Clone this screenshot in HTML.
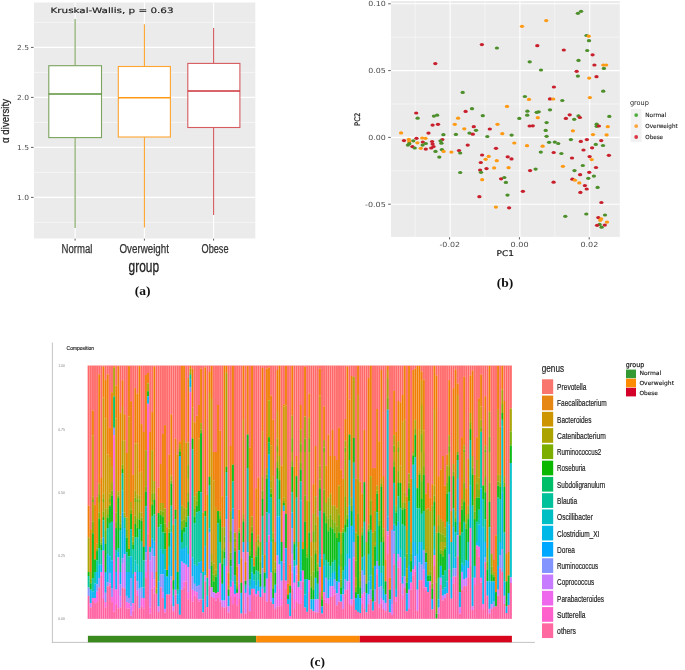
<!DOCTYPE html>
<html lang="en"><head><meta charset="utf-8"><title>Figure</title>
<style>html,body{margin:0;padding:0;background:#fff}svg{display:block}</style></head>
<body>
<svg width="685" height="670" viewBox="0 0 685 670">
<rect width="685" height="670" fill="#fff"/>
<g id="panel-a">
<rect x="34.00" y="2.50" width="221.30" height="236.00" fill="#ebebeb"/>
<line x1="34" y1="22.4" x2="255.3" y2="22.4" stroke="#f8f8f8" stroke-width="0.75"/>
<line x1="34" y1="72.4" x2="255.3" y2="72.4" stroke="#f8f8f8" stroke-width="0.75"/>
<line x1="34" y1="122.4" x2="255.3" y2="122.4" stroke="#f8f8f8" stroke-width="0.75"/>
<line x1="34" y1="172.4" x2="255.3" y2="172.4" stroke="#f8f8f8" stroke-width="0.75"/>
<line x1="34" y1="222.4" x2="255.3" y2="222.4" stroke="#f8f8f8" stroke-width="0.75"/>
<line x1="34" y1="47.4" x2="255.3" y2="47.4" stroke="#fff" stroke-width="1.1"/>
<line x1="34" y1="97.4" x2="255.3" y2="97.4" stroke="#fff" stroke-width="1.1"/>
<line x1="34" y1="147.4" x2="255.3" y2="147.4" stroke="#fff" stroke-width="1.1"/>
<line x1="34" y1="197.4" x2="255.3" y2="197.4" stroke="#fff" stroke-width="1.1"/>
<line x1="75.1" y1="2.5" x2="75.1" y2="238.5" stroke="#fff" stroke-width="1.1"/>
<line x1="144.4" y1="2.5" x2="144.4" y2="238.5" stroke="#fff" stroke-width="1.1"/>
<line x1="213.6" y1="2.5" x2="213.6" y2="238.5" stroke="#fff" stroke-width="1.1"/>
<line x1="75.1" y1="19" x2="75.1" y2="65.7" stroke="#7ba35d" stroke-width="1.1"/>
<line x1="75.1" y1="137.6" x2="75.1" y2="228" stroke="#7ba35d" stroke-width="1.1"/>
<rect x="48.8" y="65.7" width="52.70" height="71.90" fill="#fff" stroke="#7ba35d" stroke-width="1.1"/>
<line x1="48.8" y1="93.9" x2="101.5" y2="93.9" stroke="#5b9138" stroke-width="1.5"/>
<line x1="144.4" y1="24.2" x2="144.4" y2="66.5" stroke="#ffa42e" stroke-width="1.1"/>
<line x1="144.4" y1="137" x2="144.4" y2="227.4" stroke="#ffa42e" stroke-width="1.1"/>
<rect x="118.3" y="66.5" width="52.10" height="70.50" fill="#fff" stroke="#ffa42e" stroke-width="1.1"/>
<line x1="118.3" y1="97.8" x2="170.4" y2="97.8" stroke="#ff9a14" stroke-width="1.5"/>
<line x1="213.6" y1="28.1" x2="213.6" y2="63.4" stroke="#d65a5e" stroke-width="1.1"/>
<line x1="213.6" y1="127.5" x2="213.6" y2="215" stroke="#d65a5e" stroke-width="1.1"/>
<rect x="187.8" y="63.4" width="52.10" height="64.10" fill="#fff" stroke="#d65a5e" stroke-width="1.1"/>
<line x1="187.8" y1="91" x2="239.9" y2="91" stroke="#cc3238" stroke-width="1.5"/>
<line x1="31" y1="47.4" x2="33.6" y2="47.4" stroke="#333" stroke-width="0.8"/>
<text x="29" y="50.0" font-size="7" font-family="'DejaVu Sans','Liberation Sans',sans-serif" fill="#4d4d4d" text-anchor="end" textLength="12" lengthAdjust="spacingAndGlyphs">2.5</text>
<line x1="31" y1="97.4" x2="33.6" y2="97.4" stroke="#333" stroke-width="0.8"/>
<text x="29" y="100.0" font-size="7" font-family="'DejaVu Sans','Liberation Sans',sans-serif" fill="#4d4d4d" text-anchor="end" textLength="12" lengthAdjust="spacingAndGlyphs">2.0</text>
<line x1="31" y1="147.4" x2="33.6" y2="147.4" stroke="#333" stroke-width="0.8"/>
<text x="29" y="150.0" font-size="7" font-family="'DejaVu Sans','Liberation Sans',sans-serif" fill="#4d4d4d" text-anchor="end" textLength="12" lengthAdjust="spacingAndGlyphs">1.5</text>
<line x1="31" y1="197.4" x2="33.6" y2="197.4" stroke="#333" stroke-width="0.8"/>
<text x="29" y="200.0" font-size="7" font-family="'DejaVu Sans','Liberation Sans',sans-serif" fill="#4d4d4d" text-anchor="end" textLength="12" lengthAdjust="spacingAndGlyphs">1.0</text>
<line x1="75.1" y1="238.7" x2="75.1" y2="240.6" stroke="#333" stroke-width="0.8"/>
<line x1="144.4" y1="238.7" x2="144.4" y2="240.6" stroke="#333" stroke-width="0.8"/>
<line x1="213.6" y1="238.7" x2="213.6" y2="240.6" stroke="#333" stroke-width="0.8"/>
<text x="50.5" y="13.2" font-size="7.5" font-family="'DejaVu Sans','Liberation Sans',sans-serif" fill="#1a1a1a" textLength="123" lengthAdjust="spacingAndGlyphs" stroke="#1a1a1a" stroke-width="0.15">Kruskal-Wallis, p = 0.63</text>
<text x="9.2" y="121" font-size="10.8" font-family="'Liberation Sans','DejaVu Sans',sans-serif" fill="#222" text-anchor="middle" textLength="44" lengthAdjust="spacingAndGlyphs" transform="rotate(-90 9.2 121)" stroke="#222" stroke-width="0.25">α diversity</text>
<text x="77" y="253.3" font-size="12" font-family="'Liberation Sans','DejaVu Sans',sans-serif" fill="#333" text-anchor="middle" textLength="30.8" lengthAdjust="spacingAndGlyphs" stroke="#333" stroke-width="0.25">Normal</text>
<text x="144.2" y="253.3" font-size="12" font-family="'Liberation Sans','DejaVu Sans',sans-serif" fill="#333" text-anchor="middle" textLength="49.5" lengthAdjust="spacingAndGlyphs" stroke="#333" stroke-width="0.25">Overweight</text>
<text x="215" y="253.3" font-size="12" font-family="'Liberation Sans','DejaVu Sans',sans-serif" fill="#333" text-anchor="middle" textLength="27" lengthAdjust="spacingAndGlyphs" stroke="#333" stroke-width="0.25">Obese</text>
<text x="143.8" y="271.8" font-size="16.5" font-family="'Liberation Sans','DejaVu Sans',sans-serif" fill="#222" text-anchor="middle" textLength="30.5" lengthAdjust="spacingAndGlyphs" stroke="#222" stroke-width="0.3">group</text>
<text x="142.6" y="295" font-size="13.5" font-family="'Liberation Serif','DejaVu Serif',serif" fill="#111" text-anchor="middle" font-weight="bold">(a)</text>
</g>
<g id="panel-b">
<rect x="391.00" y="1.00" width="228.80" height="235.90" fill="#ebebeb"/>
<line x1="391" y1="37.2" x2="619.8" y2="37.2" stroke="#f8f8f8" stroke-width="0.75"/>
<line x1="391" y1="104.0" x2="619.8" y2="104.0" stroke="#f8f8f8" stroke-width="0.75"/>
<line x1="391" y1="170.8" x2="619.8" y2="170.8" stroke="#f8f8f8" stroke-width="0.75"/>
<line x1="415.2" y1="1" x2="415.2" y2="236.9" stroke="#f8f8f8" stroke-width="0.75"/>
<line x1="485.0" y1="1" x2="485.0" y2="236.9" stroke="#f8f8f8" stroke-width="0.75"/>
<line x1="554.8" y1="1" x2="554.8" y2="236.9" stroke="#f8f8f8" stroke-width="0.75"/>
<line x1="391" y1="3.8" x2="619.8" y2="3.8" stroke="#fff" stroke-width="1.1"/>
<line x1="388.2" y1="3.8" x2="390.8" y2="3.8" stroke="#333" stroke-width="0.8"/>
<text x="385.8" y="6.4" font-size="7" font-family="'DejaVu Sans','Liberation Sans',sans-serif" fill="#4d4d4d" text-anchor="end" textLength="17.6" lengthAdjust="spacingAndGlyphs">0.10</text>
<line x1="391" y1="70.6" x2="619.8" y2="70.6" stroke="#fff" stroke-width="1.1"/>
<line x1="388.2" y1="70.6" x2="390.8" y2="70.6" stroke="#333" stroke-width="0.8"/>
<text x="385.8" y="73.19999999999999" font-size="7" font-family="'DejaVu Sans','Liberation Sans',sans-serif" fill="#4d4d4d" text-anchor="end" textLength="17.6" lengthAdjust="spacingAndGlyphs">0.05</text>
<line x1="391" y1="137.4" x2="619.8" y2="137.4" stroke="#fff" stroke-width="1.1"/>
<line x1="388.2" y1="137.4" x2="390.8" y2="137.4" stroke="#333" stroke-width="0.8"/>
<text x="385.8" y="140.0" font-size="7" font-family="'DejaVu Sans','Liberation Sans',sans-serif" fill="#4d4d4d" text-anchor="end" textLength="17.6" lengthAdjust="spacingAndGlyphs">0.00</text>
<line x1="391" y1="204.2" x2="619.8" y2="204.2" stroke="#fff" stroke-width="1.1"/>
<line x1="388.2" y1="204.2" x2="390.8" y2="204.2" stroke="#333" stroke-width="0.8"/>
<text x="385.8" y="206.79999999999998" font-size="7" font-family="'DejaVu Sans','Liberation Sans',sans-serif" fill="#4d4d4d" text-anchor="end" textLength="20.8" lengthAdjust="spacingAndGlyphs">-0.05</text>
<line x1="450.1" y1="1" x2="450.1" y2="236.9" stroke="#fff" stroke-width="1.1"/>
<line x1="449.6" y1="237.2" x2="449.6" y2="239.4" stroke="#333" stroke-width="0.8"/>
<text x="449.8" y="246.7" font-size="7" font-family="'DejaVu Sans','Liberation Sans',sans-serif" fill="#4d4d4d" text-anchor="middle" textLength="20.6" lengthAdjust="spacingAndGlyphs">-0.02</text>
<line x1="519.9" y1="1" x2="519.9" y2="236.9" stroke="#fff" stroke-width="1.1"/>
<line x1="519.4" y1="237.2" x2="519.4" y2="239.4" stroke="#333" stroke-width="0.8"/>
<text x="519.6" y="246.7" font-size="7" font-family="'DejaVu Sans','Liberation Sans',sans-serif" fill="#4d4d4d" text-anchor="middle" textLength="18" lengthAdjust="spacingAndGlyphs">0.00</text>
<line x1="589.7" y1="1" x2="589.7" y2="236.9" stroke="#fff" stroke-width="1.1"/>
<line x1="589.2" y1="237.2" x2="589.2" y2="239.4" stroke="#333" stroke-width="0.8"/>
<text x="589.4000000000001" y="246.7" font-size="7" font-family="'DejaVu Sans','Liberation Sans',sans-serif" fill="#4d4d4d" text-anchor="middle" textLength="18" lengthAdjust="spacingAndGlyphs">0.02</text>
<ellipse cx="435.3" cy="63.6" rx="2.15" ry="1.6" fill="#c8202c"/>
<ellipse cx="481.9" cy="44.6" rx="2.15" ry="1.6" fill="#c8202c"/>
<ellipse cx="496.9" cy="48" rx="2.15" ry="1.6" fill="#4d8f2a"/>
<ellipse cx="462.7" cy="92.4" rx="2.15" ry="1.6" fill="#4d8f2a"/>
<ellipse cx="507" cy="106.4" rx="2.15" ry="1.6" fill="#ff9a14"/>
<ellipse cx="472" cy="108.7" rx="2.15" ry="1.6" fill="#4d8f2a"/>
<ellipse cx="465.6" cy="111.4" rx="2.15" ry="1.6" fill="#c8202c"/>
<ellipse cx="416.2" cy="113" rx="2.15" ry="1.6" fill="#c8202c"/>
<ellipse cx="437.1" cy="115.2" rx="2.15" ry="1.6" fill="#4d8f2a"/>
<ellipse cx="433.9" cy="116.1" rx="2.15" ry="1.6" fill="#4d8f2a"/>
<ellipse cx="482.8" cy="115.7" rx="2.15" ry="1.6" fill="#4d8f2a"/>
<ellipse cx="417.6" cy="118.2" rx="2.15" ry="1.6" fill="#4d8f2a"/>
<ellipse cx="458.1" cy="118.2" rx="2.15" ry="1.6" fill="#ff9a14"/>
<ellipse cx="581.1" cy="11.3" rx="2.15" ry="1.6" fill="#4d8f2a"/>
<ellipse cx="577.9" cy="13.3" rx="2.15" ry="1.6" fill="#4d8f2a"/>
<ellipse cx="546.2" cy="20.6" rx="2.15" ry="1.6" fill="#ff9a14"/>
<ellipse cx="522" cy="26.3" rx="2.15" ry="1.6" fill="#ff9a14"/>
<ellipse cx="586.5" cy="35.5" rx="2.15" ry="1.6" fill="#4d8f2a"/>
<ellipse cx="588.7" cy="36.2" rx="2.15" ry="1.6" fill="#ff9a14"/>
<ellipse cx="589" cy="40.7" rx="2.15" ry="1.6" fill="#4d8f2a"/>
<ellipse cx="537.3" cy="45.7" rx="2.15" ry="1.6" fill="#c8202c"/>
<ellipse cx="563.8" cy="50" rx="2.15" ry="1.6" fill="#c8202c"/>
<ellipse cx="587.2" cy="50.5" rx="2.15" ry="1.6" fill="#4d8f2a"/>
<ellipse cx="592.6" cy="54.8" rx="2.15" ry="1.6" fill="#c8202c"/>
<ellipse cx="578.5" cy="60.4" rx="2.15" ry="1.6" fill="#4d8f2a"/>
<ellipse cx="529.7" cy="61.8" rx="2.15" ry="1.6" fill="#4d8f2a"/>
<ellipse cx="594.4" cy="65" rx="2.15" ry="1.6" fill="#c8202c"/>
<ellipse cx="603.3" cy="65" rx="2.15" ry="1.6" fill="#ff9a14"/>
<ellipse cx="606.2" cy="65" rx="2.15" ry="1.6" fill="#ff9a14"/>
<ellipse cx="603.9" cy="68.4" rx="2.15" ry="1.6" fill="#4d8f2a"/>
<ellipse cx="541" cy="70" rx="2.15" ry="1.6" fill="#4d8f2a"/>
<ellipse cx="576.7" cy="71.3" rx="2.15" ry="1.6" fill="#c8202c"/>
<ellipse cx="577.9" cy="76.1" rx="2.15" ry="1.6" fill="#4d8f2a"/>
<ellipse cx="596.5" cy="76.7" rx="2.15" ry="1.6" fill="#c8202c"/>
<ellipse cx="589.2" cy="78.1" rx="2.15" ry="1.6" fill="#ff9a14"/>
<ellipse cx="553.9" cy="87" rx="2.15" ry="1.6" fill="#c8202c"/>
<ellipse cx="603.2" cy="91.2" rx="2.15" ry="1.6" fill="#4d8f2a"/>
<ellipse cx="524.9" cy="96.5" rx="2.15" ry="1.6" fill="#4d8f2a"/>
<ellipse cx="529" cy="99.4" rx="2.15" ry="1.6" fill="#ff9a14"/>
<ellipse cx="550" cy="98.9" rx="2.15" ry="1.6" fill="#c8202c"/>
<ellipse cx="553.2" cy="99" rx="2.15" ry="1.6" fill="#ff9a14"/>
<ellipse cx="562.3" cy="100.5" rx="2.15" ry="1.6" fill="#4d8f2a"/>
<ellipse cx="589.9" cy="97.6" rx="2.15" ry="1.6" fill="#ff9a14"/>
<ellipse cx="550" cy="109.8" rx="2.15" ry="1.6" fill="#4d8f2a"/>
<ellipse cx="527.4" cy="111.2" rx="2.15" ry="1.6" fill="#4d8f2a"/>
<ellipse cx="538.7" cy="111.8" rx="2.15" ry="1.6" fill="#4d8f2a"/>
<ellipse cx="536.7" cy="112.3" rx="2.15" ry="1.6" fill="#4d8f2a"/>
<ellipse cx="527.2" cy="115.2" rx="2.15" ry="1.6" fill="#4d8f2a"/>
<ellipse cx="569.7" cy="114.8" rx="2.15" ry="1.6" fill="#c8202c"/>
<ellipse cx="578.5" cy="115.9" rx="2.15" ry="1.6" fill="#4d8f2a"/>
<ellipse cx="579.9" cy="117.5" rx="2.15" ry="1.6" fill="#c8202c"/>
<ellipse cx="609.3" cy="116.4" rx="2.15" ry="1.6" fill="#4d8f2a"/>
<ellipse cx="519.3" cy="118.4" rx="2.15" ry="1.6" fill="#4d8f2a"/>
<ellipse cx="537.8" cy="117.7" rx="2.15" ry="1.6" fill="#ff9a14"/>
<ellipse cx="565.9" cy="118.4" rx="2.15" ry="1.6" fill="#c8202c"/>
<ellipse cx="574.2" cy="119.3" rx="2.15" ry="1.6" fill="#4d8f2a"/>
<ellipse cx="432.6" cy="125.1" rx="2.15" ry="1.6" fill="#c8202c"/>
<ellipse cx="438" cy="124.3" rx="2.15" ry="1.6" fill="#c8202c"/>
<ellipse cx="454.8" cy="124.3" rx="2.15" ry="1.6" fill="#ff9a14"/>
<ellipse cx="497.5" cy="124.3" rx="2.15" ry="1.6" fill="#ff9a14"/>
<ellipse cx="473.8" cy="126.7" rx="2.15" ry="1.6" fill="#c8202c"/>
<ellipse cx="464.3" cy="128.8" rx="2.15" ry="1.6" fill="#ff9a14"/>
<ellipse cx="489.8" cy="129" rx="2.15" ry="1.6" fill="#c8202c"/>
<ellipse cx="476" cy="130.3" rx="2.15" ry="1.6" fill="#4d8f2a"/>
<ellipse cx="401.1" cy="132.9" rx="2.15" ry="1.6" fill="#ff9a14"/>
<ellipse cx="428.5" cy="133.1" rx="2.15" ry="1.6" fill="#c8202c"/>
<ellipse cx="469.5" cy="133.1" rx="2.15" ry="1.6" fill="#4d8f2a"/>
<ellipse cx="472.8" cy="134.2" rx="2.15" ry="1.6" fill="#c8202c"/>
<ellipse cx="443.4" cy="134.7" rx="2.15" ry="1.6" fill="#4d8f2a"/>
<ellipse cx="455.9" cy="134.4" rx="2.15" ry="1.6" fill="#4d8f2a"/>
<ellipse cx="502.3" cy="133.7" rx="2.15" ry="1.6" fill="#ff9a14"/>
<ellipse cx="487.3" cy="136.5" rx="2.15" ry="1.6" fill="#4d8f2a"/>
<ellipse cx="511.6" cy="135.1" rx="2.15" ry="1.6" fill="#4d8f2a"/>
<ellipse cx="416.5" cy="138.3" rx="2.15" ry="1.6" fill="#c8202c"/>
<ellipse cx="422.2" cy="138" rx="2.15" ry="1.6" fill="#ff9a14"/>
<ellipse cx="425.5" cy="138.3" rx="2.15" ry="1.6" fill="#ff9a14"/>
<ellipse cx="408.8" cy="139.4" rx="2.15" ry="1.6" fill="#ff9a14"/>
<ellipse cx="442.3" cy="139.6" rx="2.15" ry="1.6" fill="#c8202c"/>
<ellipse cx="404" cy="140.6" rx="2.15" ry="1.6" fill="#c8202c"/>
<ellipse cx="413.3" cy="140.8" rx="2.15" ry="1.6" fill="#4d8f2a"/>
<ellipse cx="440.5" cy="140.8" rx="2.15" ry="1.6" fill="#4d8f2a"/>
<ellipse cx="409.3" cy="141.7" rx="2.15" ry="1.6" fill="#ff9a14"/>
<ellipse cx="422.8" cy="142.1" rx="2.15" ry="1.6" fill="#c8202c"/>
<ellipse cx="432.1" cy="141.5" rx="2.15" ry="1.6" fill="#c8202c"/>
<ellipse cx="417.4" cy="142.8" rx="2.15" ry="1.6" fill="#ff9a14"/>
<ellipse cx="409.3" cy="143.7" rx="2.15" ry="1.6" fill="#4d8f2a"/>
<ellipse cx="425.8" cy="143.5" rx="2.15" ry="1.6" fill="#4d8f2a"/>
<ellipse cx="441.4" cy="143.2" rx="2.15" ry="1.6" fill="#4d8f2a"/>
<ellipse cx="432.6" cy="144" rx="2.15" ry="1.6" fill="#c8202c"/>
<ellipse cx="407.9" cy="145.1" rx="2.15" ry="1.6" fill="#4d8f2a"/>
<ellipse cx="422.6" cy="145.1" rx="2.15" ry="1.6" fill="#4d8f2a"/>
<ellipse cx="467.7" cy="145.1" rx="2.15" ry="1.6" fill="#c8202c"/>
<ellipse cx="412.4" cy="146.6" rx="2.15" ry="1.6" fill="#c8202c"/>
<ellipse cx="433.5" cy="146.6" rx="2.15" ry="1.6" fill="#c8202c"/>
<ellipse cx="414.7" cy="148" rx="2.15" ry="1.6" fill="#4d8f2a"/>
<ellipse cx="431.2" cy="148" rx="2.15" ry="1.6" fill="#c8202c"/>
<ellipse cx="420.8" cy="148.3" rx="2.15" ry="1.6" fill="#ff9a14"/>
<ellipse cx="425.8" cy="149.1" rx="2.15" ry="1.6" fill="#c8202c"/>
<ellipse cx="441.9" cy="149.6" rx="2.15" ry="1.6" fill="#4d8f2a"/>
<ellipse cx="496" cy="148.3" rx="2.15" ry="1.6" fill="#c8202c"/>
<ellipse cx="459" cy="150.5" rx="2.15" ry="1.6" fill="#c8202c"/>
<ellipse cx="435.5" cy="151.4" rx="2.15" ry="1.6" fill="#4d8f2a"/>
<ellipse cx="443.6" cy="151.4" rx="2.15" ry="1.6" fill="#ff9a14"/>
<ellipse cx="451.4" cy="152.1" rx="2.15" ry="1.6" fill="#ff9a14"/>
<ellipse cx="460.2" cy="153" rx="2.15" ry="1.6" fill="#4d8f2a"/>
<ellipse cx="439.3" cy="157.1" rx="2.15" ry="1.6" fill="#4d8f2a"/>
<ellipse cx="482.1" cy="155" rx="2.15" ry="1.6" fill="#c8202c"/>
<ellipse cx="488.7" cy="156.4" rx="2.15" ry="1.6" fill="#ff9a14"/>
<ellipse cx="507.7" cy="156.8" rx="2.15" ry="1.6" fill="#c8202c"/>
<ellipse cx="485.6" cy="159.3" rx="2.15" ry="1.6" fill="#ff9a14"/>
<ellipse cx="496.8" cy="160.7" rx="2.15" ry="1.6" fill="#ff9a14"/>
<ellipse cx="480.8" cy="162.5" rx="2.15" ry="1.6" fill="#c8202c"/>
<ellipse cx="486.5" cy="168.6" rx="2.15" ry="1.6" fill="#c8202c"/>
<ellipse cx="494.1" cy="167.9" rx="2.15" ry="1.6" fill="#ff9a14"/>
<ellipse cx="508.6" cy="167.7" rx="2.15" ry="1.6" fill="#ff9a14"/>
<ellipse cx="480.1" cy="170" rx="2.15" ry="1.6" fill="#c8202c"/>
<ellipse cx="460.2" cy="172.5" rx="2.15" ry="1.6" fill="#4d8f2a"/>
<ellipse cx="481" cy="172.3" rx="2.15" ry="1.6" fill="#4d8f2a"/>
<ellipse cx="482.2" cy="179.7" rx="2.15" ry="1.6" fill="#ff9a14"/>
<ellipse cx="501.1" cy="178.8" rx="2.15" ry="1.6" fill="#c8202c"/>
<ellipse cx="504.3" cy="177.5" rx="2.15" ry="1.6" fill="#4d8f2a"/>
<ellipse cx="505.9" cy="182.4" rx="2.15" ry="1.6" fill="#4d8f2a"/>
<ellipse cx="507.5" cy="195.1" rx="2.15" ry="1.6" fill="#4d8f2a"/>
<ellipse cx="479.4" cy="196.7" rx="2.15" ry="1.6" fill="#c8202c"/>
<ellipse cx="495.9" cy="207.1" rx="2.15" ry="1.6" fill="#ff9a14"/>
<ellipse cx="509.1" cy="207.8" rx="2.15" ry="1.6" fill="#c8202c"/>
<ellipse cx="546.6" cy="122.6" rx="2.15" ry="1.6" fill="#4d8f2a"/>
<ellipse cx="529.6" cy="126" rx="2.15" ry="1.6" fill="#c8202c"/>
<ellipse cx="532.8" cy="125.8" rx="2.15" ry="1.6" fill="#c8202c"/>
<ellipse cx="596.7" cy="124.2" rx="2.15" ry="1.6" fill="#4d8f2a"/>
<ellipse cx="596.7" cy="126.3" rx="2.15" ry="1.6" fill="#4d8f2a"/>
<ellipse cx="598.9" cy="126" rx="2.15" ry="1.6" fill="#c8202c"/>
<ellipse cx="607.8" cy="126.7" rx="2.15" ry="1.6" fill="#ff9a14"/>
<ellipse cx="545.7" cy="130.4" rx="2.15" ry="1.6" fill="#4d8f2a"/>
<ellipse cx="572.9" cy="130.8" rx="2.15" ry="1.6" fill="#ff9a14"/>
<ellipse cx="593" cy="134.6" rx="2.15" ry="1.6" fill="#ff9a14"/>
<ellipse cx="606.6" cy="134.9" rx="2.15" ry="1.6" fill="#ff9a14"/>
<ellipse cx="546.6" cy="136.3" rx="2.15" ry="1.6" fill="#4d8f2a"/>
<ellipse cx="570.9" cy="139.6" rx="2.15" ry="1.6" fill="#4d8f2a"/>
<ellipse cx="586.9" cy="139.6" rx="2.15" ry="1.6" fill="#c8202c"/>
<ellipse cx="580.8" cy="141.4" rx="2.15" ry="1.6" fill="#c8202c"/>
<ellipse cx="601.2" cy="140.6" rx="2.15" ry="1.6" fill="#c8202c"/>
<ellipse cx="549.1" cy="142.3" rx="2.15" ry="1.6" fill="#4d8f2a"/>
<ellipse cx="554.8" cy="142.1" rx="2.15" ry="1.6" fill="#4d8f2a"/>
<ellipse cx="558.2" cy="143.5" rx="2.15" ry="1.6" fill="#4d8f2a"/>
<ellipse cx="514.3" cy="143" rx="2.15" ry="1.6" fill="#ff9a14"/>
<ellipse cx="595.8" cy="144.4" rx="2.15" ry="1.6" fill="#4d8f2a"/>
<ellipse cx="603" cy="145.5" rx="2.15" ry="1.6" fill="#4d8f2a"/>
<ellipse cx="527" cy="145.7" rx="2.15" ry="1.6" fill="#ff9a14"/>
<ellipse cx="542.6" cy="146.2" rx="2.15" ry="1.6" fill="#ff9a14"/>
<ellipse cx="592.1" cy="147.8" rx="2.15" ry="1.6" fill="#c8202c"/>
<ellipse cx="583.5" cy="150" rx="2.15" ry="1.6" fill="#c8202c"/>
<ellipse cx="540.8" cy="152.1" rx="2.15" ry="1.6" fill="#4d8f2a"/>
<ellipse cx="553.7" cy="152.5" rx="2.15" ry="1.6" fill="#c8202c"/>
<ellipse cx="561.4" cy="153.5" rx="2.15" ry="1.6" fill="#4d8f2a"/>
<ellipse cx="608.9" cy="155.3" rx="2.15" ry="1.6" fill="#c8202c"/>
<ellipse cx="589.6" cy="156.6" rx="2.15" ry="1.6" fill="#c8202c"/>
<ellipse cx="572" cy="158" rx="2.15" ry="1.6" fill="#c8202c"/>
<ellipse cx="511.5" cy="158.9" rx="2.15" ry="1.6" fill="#c8202c"/>
<ellipse cx="591.7" cy="159.6" rx="2.15" ry="1.6" fill="#ff9a14"/>
<ellipse cx="582.8" cy="165.5" rx="2.15" ry="1.6" fill="#4d8f2a"/>
<ellipse cx="562.9" cy="166.3" rx="2.15" ry="1.6" fill="#ff9a14"/>
<ellipse cx="596" cy="167.5" rx="2.15" ry="1.6" fill="#c8202c"/>
<ellipse cx="535.6" cy="169.1" rx="2.15" ry="1.6" fill="#4d8f2a"/>
<ellipse cx="530.1" cy="170.6" rx="2.15" ry="1.6" fill="#c8202c"/>
<ellipse cx="574.5" cy="170.6" rx="2.15" ry="1.6" fill="#4d8f2a"/>
<ellipse cx="589.2" cy="172.3" rx="2.15" ry="1.6" fill="#c8202c"/>
<ellipse cx="580.1" cy="174.7" rx="2.15" ry="1.6" fill="#c8202c"/>
<ellipse cx="593.9" cy="176.1" rx="2.15" ry="1.6" fill="#4d8f2a"/>
<ellipse cx="588.3" cy="178.3" rx="2.15" ry="1.6" fill="#4d8f2a"/>
<ellipse cx="572.4" cy="179.2" rx="2.15" ry="1.6" fill="#c8202c"/>
<ellipse cx="574.9" cy="180.2" rx="2.15" ry="1.6" fill="#ff9a14"/>
<ellipse cx="553.6" cy="182.2" rx="2.15" ry="1.6" fill="#c8202c"/>
<ellipse cx="579.3" cy="182.9" rx="2.15" ry="1.6" fill="#ff9a14"/>
<ellipse cx="584.9" cy="185.6" rx="2.15" ry="1.6" fill="#c8202c"/>
<ellipse cx="597.6" cy="187.4" rx="2.15" ry="1.6" fill="#4d8f2a"/>
<ellipse cx="586.7" cy="189" rx="2.15" ry="1.6" fill="#c8202c"/>
<ellipse cx="522.9" cy="191.3" rx="2.15" ry="1.6" fill="#c8202c"/>
<ellipse cx="580.4" cy="192.4" rx="2.15" ry="1.6" fill="#c8202c"/>
<ellipse cx="601.4" cy="202.5" rx="2.15" ry="1.6" fill="#c8202c"/>
<ellipse cx="586.3" cy="214" rx="2.15" ry="1.6" fill="#4d8f2a"/>
<ellipse cx="565.3" cy="216.3" rx="2.15" ry="1.6" fill="#4d8f2a"/>
<ellipse cx="605" cy="215" rx="2.15" ry="1.6" fill="#4d8f2a"/>
<ellipse cx="598.3" cy="217.6" rx="2.15" ry="1.6" fill="#c8202c"/>
<ellipse cx="601.2" cy="218.8" rx="2.15" ry="1.6" fill="#ff9a14"/>
<ellipse cx="600.2" cy="220.3" rx="2.15" ry="1.6" fill="#ff9a14"/>
<ellipse cx="607" cy="222.1" rx="2.15" ry="1.6" fill="#ff9a14"/>
<ellipse cx="599.6" cy="224.4" rx="2.15" ry="1.6" fill="#4d8f2a"/>
<ellipse cx="597.1" cy="225.3" rx="2.15" ry="1.6" fill="#c8202c"/>
<ellipse cx="604.8" cy="225.1" rx="2.15" ry="1.6" fill="#c8202c"/>
<ellipse cx="601.6" cy="227.2" rx="2.15" ry="1.6" fill="#4d8f2a"/>
<text x="505.3" y="256" font-size="7.8" font-family="'DejaVu Sans','Liberation Sans',sans-serif" fill="#111" text-anchor="middle" textLength="17.4" lengthAdjust="spacingAndGlyphs" stroke="#111" stroke-width="0.15">PC1</text>
<text x="359.6" y="119.3" font-size="7.6" font-family="'DejaVu Sans','Liberation Sans',sans-serif" fill="#111" text-anchor="middle" textLength="13.3" lengthAdjust="spacingAndGlyphs" transform="rotate(-90 359.6 119.3)" stroke="#111" stroke-width="0.2">PC2</text>
<text x="629.9" y="104.6" font-size="6.8" font-family="'DejaVu Sans','Liberation Sans',sans-serif" fill="#222" textLength="19" lengthAdjust="spacingAndGlyphs">group</text>
<rect x="630.70" y="109.00" width="11.00" height="33.00" fill="#f2f2f2"/>
<circle cx="636.2" cy="115.10" r="1.9" fill="#4cae3a"/>
<text x="645.3" y="117.19999999999999" font-size="5.8" font-family="'DejaVu Sans','Liberation Sans',sans-serif" fill="#222" textLength="20.9" lengthAdjust="spacingAndGlyphs" stroke="#222" stroke-width="0.12">Normal</text>
<circle cx="636.2" cy="126.05" r="1.9" fill="#ffa43a"/>
<text x="645.3" y="128.15" font-size="5.8" font-family="'DejaVu Sans','Liberation Sans',sans-serif" fill="#222" textLength="32.4" lengthAdjust="spacingAndGlyphs" stroke="#222" stroke-width="0.12">Overweight</text>
<circle cx="636.2" cy="137.00" r="1.9" fill="#dc3545"/>
<text x="645.3" y="139.1" font-size="5.8" font-family="'DejaVu Sans','Liberation Sans',sans-serif" fill="#222" textLength="17.7" lengthAdjust="spacingAndGlyphs" stroke="#222" stroke-width="0.12">Obese</text>
<text x="505" y="286.6" font-size="13.5" font-family="'Liberation Serif','DejaVu Serif',serif" fill="#111" text-anchor="middle" font-weight="bold">(b)</text>
</g>
<g id="panel-c">
<line x1="52.4" y1="342.5" x2="52.4" y2="642.8" stroke="#b5b5b5" stroke-width="0.8"/>
<line x1="52.0" y1="642.4" x2="534.9" y2="642.4" stroke="#b5b5b5" stroke-width="0.8"/>
<text x="66.6" y="349.5" font-size="5.9" font-family="'Liberation Sans','DejaVu Sans',sans-serif" fill="#2a2a2a" textLength="27.4" lengthAdjust="spacingAndGlyphs" stroke="#2a2a2a" stroke-width="0.2">Composition</text>
<text x="58.2" y="367.20000000000005" font-size="4.4" font-family="'Liberation Sans','DejaVu Sans',sans-serif" fill="#858585" textLength="6.8" lengthAdjust="spacingAndGlyphs">1.00</text>
<text x="58.2" y="430.5" font-size="4.4" font-family="'Liberation Sans','DejaVu Sans',sans-serif" fill="#858585" textLength="6.8" lengthAdjust="spacingAndGlyphs">0.75</text>
<text x="58.2" y="493.8" font-size="4.4" font-family="'Liberation Sans','DejaVu Sans',sans-serif" fill="#858585" textLength="6.8" lengthAdjust="spacingAndGlyphs">0.50</text>
<text x="58.2" y="557.1" font-size="4.4" font-family="'Liberation Sans','DejaVu Sans',sans-serif" fill="#858585" textLength="6.8" lengthAdjust="spacingAndGlyphs">0.25</text>
<text x="58.2" y="620.4" font-size="4.4" font-family="'Liberation Sans','DejaVu Sans',sans-serif" fill="#858585" textLength="6.8" lengthAdjust="spacingAndGlyphs">0.00</text>
<g>
<rect x="87.57" y="365.55" width="2.18" height="140.16" fill="#FF6767"/>
<rect x="87.57" y="505.61" width="2.18" height="31.97" fill="#F07C00"/>
<rect x="87.57" y="537.47" width="2.18" height="34.58" fill="#A8A400"/>
<rect x="87.57" y="571.95" width="2.18" height="4.13" fill="#05BB10"/>
<rect x="87.57" y="575.98" width="2.18" height="11.59" fill="#00C59C"/>
<rect x="87.57" y="587.47" width="2.18" height="8.46" fill="#8890FF"/>
<rect x="87.57" y="595.83" width="2.18" height="23.02" fill="#FF5FA0"/>
<rect x="89.69" y="365.55" width="2.18" height="163.67" fill="#FF6767"/>
<rect x="89.69" y="529.12" width="2.18" height="42.93" fill="#F07C00"/>
<rect x="89.69" y="571.95" width="2.18" height="7.13" fill="#A8A400"/>
<rect x="89.69" y="578.98" width="2.18" height="4.41" fill="#74B000"/>
<rect x="89.69" y="583.29" width="2.18" height="6.37" fill="#05BB10"/>
<rect x="89.69" y="589.56" width="2.18" height="13.68" fill="#00B2F2"/>
<rect x="89.69" y="603.15" width="2.18" height="4.28" fill="#CC78FF"/>
<rect x="89.69" y="607.33" width="2.18" height="11.52" fill="#FF5FA0"/>
<rect x="91.81" y="365.55" width="2.18" height="45.08" fill="#FF6767"/>
<rect x="91.81" y="410.53" width="2.18" height="25.17" fill="#F07C00"/>
<rect x="91.81" y="435.61" width="2.18" height="61.22" fill="#D29600"/>
<rect x="91.81" y="496.73" width="2.18" height="3.34" fill="#A8A400"/>
<rect x="91.81" y="499.97" width="2.18" height="2.08" fill="#74B000"/>
<rect x="91.81" y="501.95" width="2.18" height="19.53" fill="#A8A400"/>
<rect x="91.81" y="521.38" width="2.18" height="12.01" fill="#74B000"/>
<rect x="91.81" y="533.29" width="2.18" height="44.88" fill="#05BB10"/>
<rect x="91.81" y="578.07" width="2.18" height="13.68" fill="#00C59C"/>
<rect x="91.81" y="591.65" width="2.18" height="6.37" fill="#00B2F2"/>
<rect x="91.81" y="597.92" width="2.18" height="3.23" fill="#FA60DE"/>
<rect x="91.81" y="601.06" width="2.18" height="17.79" fill="#FF5FA0"/>
<rect x="93.93" y="365.55" width="2.18" height="139.63" fill="#FF6767"/>
<rect x="93.93" y="505.08" width="2.18" height="54.43" fill="#F07C00"/>
<rect x="93.93" y="559.42" width="2.18" height="12.63" fill="#05BB10"/>
<rect x="93.93" y="571.95" width="2.18" height="11.44" fill="#00C59C"/>
<rect x="93.93" y="583.29" width="2.18" height="14.73" fill="#00B2F2"/>
<rect x="93.93" y="597.92" width="2.18" height="5.32" fill="#FA60DE"/>
<rect x="93.93" y="603.15" width="2.18" height="15.70" fill="#FF5FA0"/>
<rect x="96.06" y="365.55" width="2.18" height="131.28" fill="#FF6767"/>
<rect x="96.06" y="496.73" width="2.18" height="47.11" fill="#F07C00"/>
<rect x="96.06" y="543.74" width="2.18" height="4.63" fill="#A8A400"/>
<rect x="96.06" y="548.28" width="2.18" height="2.88" fill="#74B000"/>
<rect x="96.06" y="551.06" width="2.18" height="9.50" fill="#05BB10"/>
<rect x="96.06" y="560.46" width="2.18" height="11.59" fill="#00C59C"/>
<rect x="96.06" y="571.95" width="2.18" height="12.49" fill="#00B2F2"/>
<rect x="96.06" y="584.34" width="2.18" height="7.41" fill="#8890FF"/>
<rect x="96.06" y="591.65" width="2.18" height="10.55" fill="#FA60DE"/>
<rect x="96.06" y="602.10" width="2.18" height="16.75" fill="#FF5FA0"/>
<rect x="98.18" y="365.55" width="2.18" height="8.83" fill="#FF6767"/>
<rect x="98.18" y="374.28" width="2.18" height="109.49" fill="#F07C00"/>
<rect x="98.18" y="483.67" width="2.18" height="11.43" fill="#A8A400"/>
<rect x="98.18" y="495.00" width="2.18" height="7.05" fill="#74B000"/>
<rect x="98.18" y="501.95" width="2.18" height="10.46" fill="#A8A400"/>
<rect x="98.18" y="512.31" width="2.18" height="6.45" fill="#74B000"/>
<rect x="98.18" y="518.67" width="2.18" height="29.36" fill="#05BB10"/>
<rect x="98.18" y="547.92" width="2.18" height="16.82" fill="#00C59C"/>
<rect x="98.18" y="564.64" width="2.18" height="13.53" fill="#00B2F2"/>
<rect x="98.18" y="578.07" width="2.18" height="9.50" fill="#8890FF"/>
<rect x="98.18" y="587.47" width="2.18" height="31.38" fill="#FF5FA0"/>
<rect x="100.30" y="365.55" width="2.18" height="112.47" fill="#FF6767"/>
<rect x="100.30" y="477.92" width="2.18" height="60.70" fill="#F07C00"/>
<rect x="100.30" y="538.52" width="2.18" height="3.99" fill="#A8A400"/>
<rect x="100.30" y="542.41" width="2.18" height="2.48" fill="#74B000"/>
<rect x="100.30" y="544.79" width="2.18" height="5.32" fill="#05BB10"/>
<rect x="100.30" y="550.01" width="2.18" height="14.73" fill="#00C59C"/>
<rect x="100.30" y="564.64" width="2.18" height="7.41" fill="#00B2F2"/>
<rect x="100.30" y="571.95" width="2.18" height="4.13" fill="#FA60DE"/>
<rect x="100.30" y="575.98" width="2.18" height="42.87" fill="#FF5FA0"/>
<rect x="102.42" y="365.55" width="2.18" height="1.20" fill="#FF6767"/>
<rect x="102.42" y="366.65" width="2.18" height="30.92" fill="#F07C00"/>
<rect x="102.42" y="397.47" width="2.18" height="96.22" fill="#D29600"/>
<rect x="102.42" y="493.59" width="2.18" height="5.28" fill="#A8A400"/>
<rect x="102.42" y="498.77" width="2.18" height="3.28" fill="#74B000"/>
<rect x="102.42" y="501.95" width="2.18" height="9.49" fill="#A8A400"/>
<rect x="102.42" y="511.34" width="2.18" height="5.86" fill="#74B000"/>
<rect x="102.42" y="517.10" width="2.18" height="3.23" fill="#05BB10"/>
<rect x="102.42" y="520.23" width="2.18" height="17.34" fill="#00C59C"/>
<rect x="102.42" y="537.47" width="2.18" height="13.16" fill="#00A9FF"/>
<rect x="102.42" y="550.53" width="2.18" height="48.53" fill="#FA60DE"/>
<rect x="102.42" y="598.97" width="2.18" height="19.88" fill="#FF5FA0"/>
<rect x="104.54" y="365.55" width="2.18" height="14.26" fill="#FF6767"/>
<rect x="104.54" y="379.71" width="2.18" height="38.76" fill="#F07C00"/>
<rect x="104.54" y="418.37" width="2.18" height="89.95" fill="#D29600"/>
<rect x="104.54" y="508.22" width="2.18" height="22.12" fill="#A8A400"/>
<rect x="104.54" y="530.24" width="2.18" height="13.60" fill="#74B000"/>
<rect x="104.54" y="543.74" width="2.18" height="28.31" fill="#05BB10"/>
<rect x="104.54" y="571.95" width="2.18" height="1.00" fill="#00C59C"/>
<rect x="104.54" y="572.85" width="2.18" height="19.95" fill="#00B2F2"/>
<rect x="104.54" y="592.70" width="2.18" height="9.50" fill="#8890FF"/>
<rect x="104.54" y="602.10" width="2.18" height="5.32" fill="#FA60DE"/>
<rect x="104.54" y="607.33" width="2.18" height="11.52" fill="#FF5FA0"/>
<rect x="106.66" y="365.55" width="2.18" height="8.83" fill="#FF6767"/>
<rect x="106.66" y="374.28" width="2.18" height="80.23" fill="#F07C00"/>
<rect x="106.66" y="454.41" width="2.18" height="53.91" fill="#D29600"/>
<rect x="106.66" y="508.22" width="2.18" height="5.93" fill="#A8A400"/>
<rect x="106.66" y="514.05" width="2.18" height="3.67" fill="#74B000"/>
<rect x="106.66" y="517.62" width="2.18" height="10.55" fill="#05BB10"/>
<rect x="106.66" y="528.07" width="2.18" height="26.22" fill="#00C59C"/>
<rect x="106.66" y="554.19" width="2.18" height="28.16" fill="#00B2F2"/>
<rect x="106.66" y="582.25" width="2.18" height="4.28" fill="#8890FF"/>
<rect x="106.66" y="586.43" width="2.18" height="32.42" fill="#FF5FA0"/>
<rect x="108.78" y="365.55" width="2.18" height="62.32" fill="#FF6767"/>
<rect x="108.78" y="427.77" width="2.18" height="29.35" fill="#F07C00"/>
<rect x="108.78" y="457.03" width="2.18" height="36.67" fill="#D29600"/>
<rect x="108.78" y="493.59" width="2.18" height="5.28" fill="#A8A400"/>
<rect x="108.78" y="498.77" width="2.18" height="3.28" fill="#74B000"/>
<rect x="108.78" y="501.95" width="2.18" height="2.69" fill="#A8A400"/>
<rect x="108.78" y="504.54" width="2.18" height="1.69" fill="#74B000"/>
<rect x="108.78" y="506.13" width="2.18" height="16.82" fill="#05BB10"/>
<rect x="108.78" y="522.85" width="2.18" height="33.53" fill="#00C59C"/>
<rect x="108.78" y="556.28" width="2.18" height="16.67" fill="#00B2F2"/>
<rect x="108.78" y="572.85" width="2.18" height="10.55" fill="#8890FF"/>
<rect x="108.78" y="583.29" width="2.18" height="2.19" fill="#FA60DE"/>
<rect x="108.78" y="585.38" width="2.18" height="33.47" fill="#FF5FA0"/>
<rect x="110.91" y="365.55" width="2.18" height="26.80" fill="#FF6767"/>
<rect x="110.91" y="392.25" width="2.18" height="73.76" fill="#F07C00"/>
<rect x="110.91" y="465.91" width="2.18" height="16.29" fill="#D29600"/>
<rect x="110.91" y="482.10" width="2.18" height="8.52" fill="#A8A400"/>
<rect x="110.91" y="490.52" width="2.18" height="5.26" fill="#74B000"/>
<rect x="110.91" y="495.68" width="2.18" height="26.22" fill="#05BB10"/>
<rect x="110.91" y="521.80" width="2.18" height="38.76" fill="#00C59C"/>
<rect x="110.91" y="560.46" width="2.18" height="28.16" fill="#00B2F2"/>
<rect x="110.91" y="588.52" width="2.18" height="8.46" fill="#8890FF"/>
<rect x="110.91" y="596.88" width="2.18" height="5.32" fill="#FA60DE"/>
<rect x="110.91" y="602.10" width="2.18" height="16.75" fill="#FF5FA0"/>
<rect x="113.03" y="365.55" width="2.18" height="0.68" fill="#FF6767"/>
<rect x="113.03" y="366.13" width="2.18" height="1.67" fill="#F07C00"/>
<rect x="113.03" y="367.70" width="2.18" height="28.83" fill="#A8A400"/>
<rect x="113.03" y="396.43" width="2.18" height="31.44" fill="#00C064"/>
<rect x="113.03" y="427.77" width="2.18" height="7.41" fill="#8890FF"/>
<rect x="113.03" y="435.08" width="2.18" height="176.52" fill="#FA60DE"/>
<rect x="113.03" y="611.50" width="2.18" height="7.35" fill="#FF5FA0"/>
<rect x="115.15" y="365.55" width="2.18" height="20.01" fill="#FF6767"/>
<rect x="115.15" y="385.46" width="2.18" height="33.01" fill="#F07C00"/>
<rect x="115.15" y="418.37" width="2.18" height="94.13" fill="#D29600"/>
<rect x="115.15" y="512.40" width="2.18" height="9.82" fill="#A8A400"/>
<rect x="115.15" y="522.12" width="2.18" height="6.06" fill="#74B000"/>
<rect x="115.15" y="528.07" width="2.18" height="22.04" fill="#05BB10"/>
<rect x="115.15" y="550.01" width="2.18" height="22.04" fill="#00C59C"/>
<rect x="115.15" y="571.95" width="2.18" height="17.71" fill="#00B2F2"/>
<rect x="115.15" y="589.56" width="2.18" height="14.73" fill="#FA60DE"/>
<rect x="115.15" y="604.19" width="2.18" height="14.66" fill="#FF5FA0"/>
<rect x="117.27" y="365.55" width="2.18" height="0.68" fill="#FF6767"/>
<rect x="117.27" y="366.13" width="2.18" height="125.48" fill="#F07C00"/>
<rect x="117.27" y="491.50" width="2.18" height="3.99" fill="#A8A400"/>
<rect x="117.27" y="495.39" width="2.18" height="2.48" fill="#74B000"/>
<rect x="117.27" y="497.77" width="2.18" height="50.25" fill="#05BB10"/>
<rect x="117.27" y="547.92" width="2.18" height="4.28" fill="#00C59C"/>
<rect x="117.27" y="552.10" width="2.18" height="5.32" fill="#00A9FF"/>
<rect x="117.27" y="557.33" width="2.18" height="51.14" fill="#FA60DE"/>
<rect x="117.27" y="608.37" width="2.18" height="10.48" fill="#FF5FA0"/>
<rect x="119.39" y="365.55" width="2.18" height="47.70" fill="#FF6767"/>
<rect x="119.39" y="413.15" width="2.18" height="62.79" fill="#F07C00"/>
<rect x="119.39" y="475.83" width="2.18" height="39.80" fill="#D29600"/>
<rect x="119.39" y="515.53" width="2.18" height="7.87" fill="#A8A400"/>
<rect x="119.39" y="523.31" width="2.18" height="4.86" fill="#74B000"/>
<rect x="119.39" y="528.07" width="2.18" height="2.19" fill="#05BB10"/>
<rect x="119.39" y="530.16" width="2.18" height="41.89" fill="#00C59C"/>
<rect x="119.39" y="571.95" width="2.18" height="12.49" fill="#00B2F2"/>
<rect x="119.39" y="584.34" width="2.18" height="11.59" fill="#8890FF"/>
<rect x="119.39" y="595.83" width="2.18" height="11.59" fill="#CC78FF"/>
<rect x="119.39" y="607.33" width="2.18" height="11.52" fill="#FF5FA0"/>
<rect x="121.51" y="365.55" width="2.18" height="14.78" fill="#FF6767"/>
<rect x="121.51" y="380.23" width="2.18" height="26.74" fill="#F07C00"/>
<rect x="121.51" y="406.88" width="2.18" height="34.05" fill="#D29600"/>
<rect x="121.51" y="440.83" width="2.18" height="23.94" fill="#A8A400"/>
<rect x="121.51" y="464.67" width="2.18" height="4.47" fill="#74B000"/>
<rect x="121.51" y="469.04" width="2.18" height="4.28" fill="#05BB10"/>
<rect x="121.51" y="473.22" width="2.18" height="17.34" fill="#00C59C"/>
<rect x="121.51" y="490.46" width="2.18" height="22.04" fill="#00C2CC"/>
<rect x="121.51" y="512.40" width="2.18" height="46.07" fill="#00B2F2"/>
<rect x="121.51" y="558.37" width="2.18" height="5.32" fill="#8890FF"/>
<rect x="121.51" y="563.59" width="2.18" height="23.98" fill="#CC78FF"/>
<rect x="121.51" y="587.47" width="2.18" height="31.38" fill="#FF5FA0"/>
<rect x="123.64" y="365.55" width="2.18" height="48.74" fill="#FF6767"/>
<rect x="123.64" y="414.19" width="2.18" height="26.22" fill="#F07C00"/>
<rect x="123.64" y="440.31" width="2.18" height="72.19" fill="#D29600"/>
<rect x="123.64" y="512.40" width="2.18" height="3.34" fill="#A8A400"/>
<rect x="123.64" y="515.64" width="2.18" height="2.09" fill="#74B000"/>
<rect x="123.64" y="517.62" width="2.18" height="10.55" fill="#00C59C"/>
<rect x="123.64" y="528.07" width="2.18" height="26.22" fill="#00B2F2"/>
<rect x="123.64" y="554.19" width="2.18" height="34.43" fill="#CC78FF"/>
<rect x="123.64" y="588.52" width="2.18" height="30.33" fill="#FF5FA0"/>
<rect x="125.76" y="365.55" width="2.18" height="87.40" fill="#FF6767"/>
<rect x="125.76" y="452.85" width="2.18" height="64.88" fill="#F07C00"/>
<rect x="125.76" y="517.62" width="2.18" height="12.41" fill="#A8A400"/>
<rect x="125.76" y="529.93" width="2.18" height="7.64" fill="#74B000"/>
<rect x="125.76" y="537.47" width="2.18" height="14.73" fill="#05BB10"/>
<rect x="125.76" y="552.10" width="2.18" height="19.95" fill="#00C59C"/>
<rect x="125.76" y="571.95" width="2.18" height="23.98" fill="#00B2F2"/>
<rect x="125.76" y="595.83" width="2.18" height="6.37" fill="#8890FF"/>
<rect x="125.76" y="602.10" width="2.18" height="6.37" fill="#FA60DE"/>
<rect x="125.76" y="608.37" width="2.18" height="10.48" fill="#FF5FA0"/>
<rect x="127.88" y="365.55" width="2.18" height="0.68" fill="#FF6767"/>
<rect x="127.88" y="366.13" width="2.18" height="50.25" fill="#F07C00"/>
<rect x="127.88" y="416.28" width="2.18" height="132.79" fill="#D29600"/>
<rect x="127.88" y="548.97" width="2.18" height="7.41" fill="#05BB10"/>
<rect x="127.88" y="556.28" width="2.18" height="15.77" fill="#00C59C"/>
<rect x="127.88" y="571.95" width="2.18" height="26.07" fill="#00B2F2"/>
<rect x="127.88" y="597.92" width="2.18" height="5.32" fill="#8890FF"/>
<rect x="127.88" y="603.15" width="2.18" height="5.32" fill="#FA60DE"/>
<rect x="127.88" y="608.37" width="2.18" height="10.48" fill="#FF5FA0"/>
<rect x="130.00" y="365.55" width="2.18" height="35.68" fill="#FF6767"/>
<rect x="130.00" y="401.13" width="2.18" height="100.92" fill="#F07C00"/>
<rect x="130.00" y="501.95" width="2.18" height="7.55" fill="#A8A400"/>
<rect x="130.00" y="509.40" width="2.18" height="4.67" fill="#74B000"/>
<rect x="130.00" y="513.97" width="2.18" height="15.25" fill="#05BB10"/>
<rect x="130.00" y="529.12" width="2.18" height="27.27" fill="#00C59C"/>
<rect x="130.00" y="556.28" width="2.18" height="21.89" fill="#00B2F2"/>
<rect x="130.00" y="578.07" width="2.18" height="28.31" fill="#8890FF"/>
<rect x="130.00" y="606.28" width="2.18" height="9.50" fill="#CC78FF"/>
<rect x="130.00" y="615.68" width="2.18" height="3.17" fill="#FF5FA0"/>
<rect x="132.12" y="365.55" width="2.18" height="109.34" fill="#FF6767"/>
<rect x="132.12" y="474.79" width="2.18" height="61.74" fill="#F07C00"/>
<rect x="132.12" y="536.43" width="2.18" height="5.28" fill="#A8A400"/>
<rect x="132.12" y="541.61" width="2.18" height="3.28" fill="#74B000"/>
<rect x="132.12" y="544.79" width="2.18" height="4.28" fill="#05BB10"/>
<rect x="132.12" y="548.97" width="2.18" height="25.02" fill="#00C59C"/>
<rect x="132.12" y="573.89" width="2.18" height="29.36" fill="#00B2F2"/>
<rect x="132.12" y="603.15" width="2.18" height="7.41" fill="#FA60DE"/>
<rect x="132.12" y="610.46" width="2.18" height="8.39" fill="#FF5FA0"/>
<rect x="134.24" y="365.55" width="2.18" height="22.62" fill="#FF6767"/>
<rect x="134.24" y="388.07" width="2.18" height="55.47" fill="#F07C00"/>
<rect x="134.24" y="443.44" width="2.18" height="47.12" fill="#D29600"/>
<rect x="134.24" y="490.46" width="2.18" height="7.22" fill="#A8A400"/>
<rect x="134.24" y="497.58" width="2.18" height="4.47" fill="#74B000"/>
<rect x="134.24" y="501.95" width="2.18" height="13.70" fill="#A8A400"/>
<rect x="134.24" y="515.55" width="2.18" height="8.44" fill="#74B000"/>
<rect x="134.24" y="523.89" width="2.18" height="13.68" fill="#05BB10"/>
<rect x="134.24" y="537.47" width="2.18" height="23.09" fill="#00C59C"/>
<rect x="134.24" y="560.46" width="2.18" height="11.59" fill="#00C2CC"/>
<rect x="134.24" y="571.95" width="2.18" height="4.13" fill="#FA60DE"/>
<rect x="134.24" y="575.98" width="2.18" height="42.87" fill="#FF5FA0"/>
<rect x="136.36" y="365.55" width="2.18" height="27.84" fill="#FF6767"/>
<rect x="136.36" y="393.29" width="2.18" height="50.25" fill="#F07C00"/>
<rect x="136.36" y="443.44" width="2.18" height="51.30" fill="#D29600"/>
<rect x="136.36" y="494.64" width="2.18" height="4.63" fill="#A8A400"/>
<rect x="136.36" y="499.17" width="2.18" height="2.88" fill="#74B000"/>
<rect x="136.36" y="501.95" width="2.18" height="16.29" fill="#A8A400"/>
<rect x="136.36" y="518.14" width="2.18" height="10.03" fill="#74B000"/>
<rect x="136.36" y="528.07" width="2.18" height="9.50" fill="#05BB10"/>
<rect x="136.36" y="537.47" width="2.18" height="27.27" fill="#00C59C"/>
<rect x="136.36" y="564.64" width="2.18" height="7.41" fill="#00C2CC"/>
<rect x="136.36" y="571.95" width="2.18" height="9.36" fill="#00B2F2"/>
<rect x="136.36" y="581.21" width="2.18" height="9.50" fill="#8890FF"/>
<rect x="136.36" y="590.61" width="2.18" height="5.32" fill="#FA60DE"/>
<rect x="136.36" y="595.83" width="2.18" height="23.02" fill="#FF5FA0"/>
<rect x="138.49" y="365.55" width="2.18" height="0.68" fill="#FF6767"/>
<rect x="138.49" y="366.13" width="2.18" height="106.67" fill="#F07C00"/>
<rect x="138.49" y="472.70" width="2.18" height="23.09" fill="#D29600"/>
<rect x="138.49" y="495.68" width="2.18" height="3.98" fill="#A8A400"/>
<rect x="138.49" y="499.57" width="2.18" height="2.48" fill="#74B000"/>
<rect x="138.49" y="501.95" width="2.18" height="11.11" fill="#A8A400"/>
<rect x="138.49" y="512.96" width="2.18" height="6.85" fill="#74B000"/>
<rect x="138.49" y="519.71" width="2.18" height="9.50" fill="#05BB10"/>
<rect x="138.49" y="529.12" width="2.18" height="42.93" fill="#00C59C"/>
<rect x="138.49" y="571.95" width="2.18" height="16.67" fill="#00B2F2"/>
<rect x="138.49" y="588.52" width="2.18" height="19.95" fill="#8890FF"/>
<rect x="138.49" y="608.37" width="2.18" height="10.48" fill="#FF5FA0"/>
<rect x="140.61" y="365.55" width="2.18" height="58.67" fill="#FF6767"/>
<rect x="140.61" y="424.12" width="2.18" height="47.64" fill="#F07C00"/>
<rect x="140.61" y="471.65" width="2.18" height="40.84" fill="#D29600"/>
<rect x="140.61" y="512.40" width="2.18" height="5.28" fill="#A8A400"/>
<rect x="140.61" y="517.58" width="2.18" height="3.28" fill="#74B000"/>
<rect x="140.61" y="520.76" width="2.18" height="21.00" fill="#05BB10"/>
<rect x="140.61" y="541.65" width="2.18" height="30.40" fill="#00C59C"/>
<rect x="140.61" y="571.95" width="2.18" height="15.62" fill="#00B2F2"/>
<rect x="140.61" y="587.47" width="2.18" height="10.55" fill="#8890FF"/>
<rect x="140.61" y="597.92" width="2.18" height="8.46" fill="#FA60DE"/>
<rect x="140.61" y="606.28" width="2.18" height="12.57" fill="#FF5FA0"/>
<rect x="142.73" y="365.55" width="2.18" height="66.50" fill="#FF6767"/>
<rect x="142.73" y="431.95" width="2.18" height="115.03" fill="#F07C00"/>
<rect x="142.73" y="546.88" width="2.18" height="13.68" fill="#05BB10"/>
<rect x="142.73" y="560.46" width="2.18" height="27.11" fill="#00C59C"/>
<rect x="142.73" y="587.47" width="2.18" height="10.55" fill="#00B2F2"/>
<rect x="142.73" y="597.92" width="2.18" height="10.55" fill="#FA60DE"/>
<rect x="142.73" y="608.37" width="2.18" height="10.48" fill="#FF5FA0"/>
<rect x="144.85" y="365.55" width="2.18" height="9.56" fill="#FF6767"/>
<rect x="144.85" y="375.01" width="2.18" height="75.32" fill="#F07C00"/>
<rect x="144.85" y="450.23" width="2.18" height="36.61" fill="#A8A400"/>
<rect x="144.85" y="486.74" width="2.18" height="4.86" fill="#74B000"/>
<rect x="144.85" y="491.50" width="2.18" height="14.72" fill="#05BB10"/>
<rect x="144.85" y="506.13" width="2.18" height="39.80" fill="#00C59C"/>
<rect x="144.85" y="545.83" width="2.18" height="6.37" fill="#00B2F2"/>
<rect x="144.85" y="552.10" width="2.18" height="8.46" fill="#8890FF"/>
<rect x="144.85" y="560.46" width="2.18" height="11.59" fill="#CC78FF"/>
<rect x="144.85" y="571.95" width="2.18" height="6.22" fill="#FA60DE"/>
<rect x="144.85" y="578.07" width="2.18" height="40.78" fill="#FF5FA0"/>
<rect x="146.97" y="365.55" width="2.18" height="7.47" fill="#FF6767"/>
<rect x="146.97" y="372.92" width="2.18" height="10.55" fill="#F07C00"/>
<rect x="146.97" y="383.37" width="2.18" height="7.94" fill="#A8A400"/>
<rect x="146.97" y="391.21" width="2.18" height="5.32" fill="#05BB10"/>
<rect x="146.97" y="396.43" width="2.18" height="7.41" fill="#00B2F2"/>
<rect x="146.97" y="403.74" width="2.18" height="3.23" fill="#FA60DE"/>
<rect x="146.97" y="406.88" width="2.18" height="126.52" fill="#FF5CCB"/>
<rect x="146.97" y="533.29" width="2.18" height="85.56" fill="#FF5FA0"/>
<rect x="149.09" y="365.55" width="2.18" height="66.50" fill="#FF6767"/>
<rect x="149.09" y="431.95" width="2.18" height="115.03" fill="#F07C00"/>
<rect x="149.09" y="546.88" width="2.18" height="5.32" fill="#00C59C"/>
<rect x="149.09" y="552.10" width="2.18" height="8.46" fill="#8890FF"/>
<rect x="149.09" y="560.46" width="2.18" height="46.97" fill="#CC78FF"/>
<rect x="149.09" y="607.33" width="2.18" height="6.37" fill="#FA60DE"/>
<rect x="149.09" y="613.59" width="2.18" height="5.26" fill="#FF5FA0"/>
<rect x="151.21" y="365.55" width="2.18" height="46.65" fill="#FF6767"/>
<rect x="151.21" y="412.10" width="2.18" height="38.23" fill="#F07C00"/>
<rect x="151.21" y="450.23" width="2.18" height="43.88" fill="#A8A400"/>
<rect x="151.21" y="494.01" width="2.18" height="8.04" fill="#74B000"/>
<rect x="151.21" y="501.95" width="2.18" height="2.04" fill="#A8A400"/>
<rect x="151.21" y="503.89" width="2.18" height="1.29" fill="#74B000"/>
<rect x="151.21" y="505.08" width="2.18" height="11.59" fill="#05BB10"/>
<rect x="151.21" y="516.58" width="2.18" height="22.04" fill="#00C59C"/>
<rect x="151.21" y="538.52" width="2.18" height="9.50" fill="#00A9FF"/>
<rect x="151.21" y="547.92" width="2.18" height="8.46" fill="#8890FF"/>
<rect x="151.21" y="556.28" width="2.18" height="15.77" fill="#CC78FF"/>
<rect x="151.21" y="571.95" width="2.18" height="16.67" fill="#FA60DE"/>
<rect x="151.21" y="588.52" width="2.18" height="30.33" fill="#FF5FA0"/>
<rect x="153.34" y="365.55" width="2.18" height="1.20" fill="#FF6767"/>
<rect x="153.34" y="366.65" width="2.18" height="114.50" fill="#F07C00"/>
<rect x="153.34" y="481.06" width="2.18" height="11.76" fill="#A8A400"/>
<rect x="153.34" y="492.72" width="2.18" height="7.25" fill="#74B000"/>
<rect x="153.34" y="499.86" width="2.18" height="14.72" fill="#05BB10"/>
<rect x="153.34" y="514.49" width="2.18" height="27.27" fill="#00C59C"/>
<rect x="153.34" y="541.65" width="2.18" height="14.73" fill="#00B2F2"/>
<rect x="153.34" y="556.28" width="2.18" height="22.93" fill="#8890FF"/>
<rect x="153.34" y="579.12" width="2.18" height="7.41" fill="#CC78FF"/>
<rect x="153.34" y="586.43" width="2.18" height="7.41" fill="#FA60DE"/>
<rect x="153.34" y="593.74" width="2.18" height="25.11" fill="#FF5FA0"/>
<rect x="155.46" y="365.55" width="2.18" height="206.50" fill="#FF6767"/>
<rect x="155.46" y="571.95" width="2.18" height="16.67" fill="#F07C00"/>
<rect x="155.46" y="588.52" width="2.18" height="5.32" fill="#A8A400"/>
<rect x="155.46" y="593.74" width="2.18" height="25.11" fill="#FF5FA0"/>
<rect x="157.58" y="365.55" width="2.18" height="122.10" fill="#FF6767"/>
<rect x="157.58" y="487.55" width="2.18" height="25.62" fill="#F07C00"/>
<rect x="157.58" y="513.07" width="2.18" height="14.21" fill="#05BB10"/>
<rect x="157.58" y="527.18" width="2.18" height="54.27" fill="#00C59C"/>
<rect x="157.58" y="581.35" width="2.18" height="25.17" fill="#00B2F2"/>
<rect x="157.58" y="606.43" width="2.18" height="5.47" fill="#CC78FF"/>
<rect x="157.58" y="611.80" width="2.18" height="7.05" fill="#FF5FA0"/>
<rect x="159.70" y="365.55" width="2.18" height="98.59" fill="#FF6767"/>
<rect x="159.70" y="464.04" width="2.18" height="39.06" fill="#F07C00"/>
<rect x="159.70" y="503.00" width="2.18" height="7.60" fill="#A8A400"/>
<rect x="159.70" y="510.49" width="2.18" height="4.69" fill="#74B000"/>
<rect x="159.70" y="515.09" width="2.18" height="9.50" fill="#05BB10"/>
<rect x="159.70" y="524.49" width="2.18" height="24.72" fill="#00C59C"/>
<rect x="159.70" y="549.11" width="2.18" height="25.17" fill="#00B2F2"/>
<rect x="159.70" y="574.19" width="2.18" height="13.23" fill="#8890FF"/>
<rect x="159.70" y="587.32" width="2.18" height="31.53" fill="#FF5FA0"/>
<rect x="161.82" y="365.55" width="2.18" height="68.37" fill="#FF6767"/>
<rect x="161.82" y="433.82" width="2.18" height="69.28" fill="#F07C00"/>
<rect x="161.82" y="503.00" width="2.18" height="8.43" fill="#A8A400"/>
<rect x="161.82" y="511.33" width="2.18" height="5.20" fill="#74B000"/>
<rect x="161.82" y="516.43" width="2.18" height="16.22" fill="#05BB10"/>
<rect x="161.82" y="532.55" width="2.18" height="21.44" fill="#00C59C"/>
<rect x="161.82" y="553.89" width="2.18" height="20.40" fill="#00B2F2"/>
<rect x="161.82" y="574.19" width="2.18" height="18.01" fill="#8890FF"/>
<rect x="161.82" y="592.10" width="2.18" height="6.07" fill="#CC78FF"/>
<rect x="161.82" y="598.07" width="2.18" height="20.78" fill="#FF5FA0"/>
<rect x="163.94" y="365.55" width="2.18" height="59.64" fill="#FF6767"/>
<rect x="163.94" y="425.09" width="2.18" height="83.38" fill="#F07C00"/>
<rect x="163.94" y="508.37" width="2.18" height="15.09" fill="#A8A400"/>
<rect x="163.94" y="523.36" width="2.18" height="9.29" fill="#74B000"/>
<rect x="163.94" y="532.55" width="2.18" height="16.66" fill="#05BB10"/>
<rect x="163.94" y="549.11" width="2.18" height="20.40" fill="#00C59C"/>
<rect x="163.94" y="569.41" width="2.18" height="39.50" fill="#00B2F2"/>
<rect x="163.94" y="608.82" width="2.18" height="3.68" fill="#CC78FF"/>
<rect x="163.94" y="612.40" width="2.18" height="6.45" fill="#FF5FA0"/>
<rect x="166.07" y="365.55" width="2.18" height="161.73" fill="#FF6767"/>
<rect x="166.07" y="527.18" width="2.18" height="42.93" fill="#F07C00"/>
<rect x="166.07" y="570.01" width="2.18" height="6.67" fill="#05BB10"/>
<rect x="166.07" y="576.58" width="2.18" height="18.01" fill="#00B2F2"/>
<rect x="166.07" y="594.49" width="2.18" height="24.36" fill="#FF5FA0"/>
<rect x="168.19" y="365.55" width="2.18" height="89.19" fill="#FF6767"/>
<rect x="168.19" y="454.64" width="2.18" height="67.27" fill="#F07C00"/>
<rect x="168.19" y="521.80" width="2.18" height="6.76" fill="#A8A400"/>
<rect x="168.19" y="528.47" width="2.18" height="4.18" fill="#74B000"/>
<rect x="168.19" y="532.55" width="2.18" height="14.27" fill="#05BB10"/>
<rect x="168.19" y="546.73" width="2.18" height="19.20" fill="#00C59C"/>
<rect x="168.19" y="565.83" width="2.18" height="28.76" fill="#00B2F2"/>
<rect x="168.19" y="594.49" width="2.18" height="24.36" fill="#FF5FA0"/>
<rect x="170.31" y="365.55" width="2.18" height="48.89" fill="#FF6767"/>
<rect x="170.31" y="414.34" width="2.18" height="61.22" fill="#F07C00"/>
<rect x="170.31" y="475.46" width="2.18" height="5.10" fill="#A8A400"/>
<rect x="170.31" y="480.46" width="2.18" height="3.16" fill="#74B000"/>
<rect x="170.31" y="483.52" width="2.18" height="22.27" fill="#05BB10"/>
<rect x="170.31" y="505.68" width="2.18" height="26.97" fill="#00C59C"/>
<rect x="170.31" y="532.55" width="2.18" height="44.13" fill="#00B2F2"/>
<rect x="170.31" y="576.58" width="2.18" height="3.68" fill="#8890FF"/>
<rect x="170.31" y="580.16" width="2.18" height="23.98" fill="#FA60DE"/>
<rect x="170.31" y="604.04" width="2.18" height="14.81" fill="#FF5FA0"/>
<rect x="172.43" y="365.55" width="2.18" height="159.04" fill="#FF6767"/>
<rect x="172.43" y="524.49" width="2.18" height="55.77" fill="#F07C00"/>
<rect x="172.43" y="580.16" width="2.18" height="9.65" fill="#05BB10"/>
<rect x="172.43" y="589.71" width="2.18" height="6.07" fill="#00C59C"/>
<rect x="172.43" y="595.68" width="2.18" height="10.85" fill="#00B2F2"/>
<rect x="172.43" y="606.43" width="2.18" height="4.88" fill="#CC78FF"/>
<rect x="172.43" y="611.20" width="2.18" height="7.65" fill="#FF5FA0"/>
<rect x="174.55" y="365.55" width="2.18" height="73.07" fill="#FF6767"/>
<rect x="174.55" y="438.52" width="2.18" height="71.29" fill="#F07C00"/>
<rect x="174.55" y="509.71" width="2.18" height="9.50" fill="#05BB10"/>
<rect x="174.55" y="519.12" width="2.18" height="40.84" fill="#00C59C"/>
<rect x="174.55" y="559.86" width="2.18" height="29.95" fill="#00B2F2"/>
<rect x="174.55" y="589.71" width="2.18" height="4.88" fill="#FA60DE"/>
<rect x="174.55" y="594.49" width="2.18" height="24.36" fill="#FF5FA0"/>
<rect x="176.67" y="365.55" width="2.18" height="89.19" fill="#FF6767"/>
<rect x="176.67" y="454.64" width="2.18" height="117.26" fill="#F07C00"/>
<rect x="176.67" y="571.80" width="2.18" height="18.01" fill="#05BB10"/>
<rect x="176.67" y="589.71" width="2.18" height="4.88" fill="#00C59C"/>
<rect x="176.67" y="594.49" width="2.18" height="9.65" fill="#00B2F2"/>
<rect x="176.67" y="604.04" width="2.18" height="14.81" fill="#FF5FA0"/>
<rect x="178.79" y="365.55" width="2.18" height="75.76" fill="#FF6767"/>
<rect x="178.79" y="441.21" width="2.18" height="2.79" fill="#F07C00"/>
<rect x="178.79" y="443.90" width="2.18" height="5.09" fill="#A8A400"/>
<rect x="178.79" y="448.89" width="2.18" height="3.16" fill="#74B000"/>
<rect x="178.79" y="451.95" width="2.18" height="4.13" fill="#05BB10"/>
<rect x="178.79" y="455.98" width="2.18" height="158.91" fill="#00B2F2"/>
<rect x="178.79" y="614.79" width="2.18" height="4.06" fill="#FF5FA0"/>
<rect x="180.92" y="365.55" width="2.18" height="0.53" fill="#FF6767"/>
<rect x="180.92" y="365.98" width="2.18" height="139.80" fill="#F07C00"/>
<rect x="180.92" y="505.68" width="2.18" height="15.09" fill="#A8A400"/>
<rect x="180.92" y="520.68" width="2.18" height="9.29" fill="#74B000"/>
<rect x="180.92" y="529.87" width="2.18" height="12.18" fill="#05BB10"/>
<rect x="180.92" y="541.95" width="2.18" height="7.26" fill="#00C59C"/>
<rect x="180.92" y="549.11" width="2.18" height="12.64" fill="#00B2F2"/>
<rect x="180.92" y="561.65" width="2.18" height="28.16" fill="#CC78FF"/>
<rect x="180.92" y="589.71" width="2.18" height="29.14" fill="#FF5FA0"/>
<rect x="183.04" y="365.55" width="2.18" height="0.53" fill="#FF6767"/>
<rect x="183.04" y="365.98" width="2.18" height="73.99" fill="#F07C00"/>
<rect x="183.04" y="439.87" width="2.18" height="67.93" fill="#D29600"/>
<rect x="183.04" y="507.70" width="2.18" height="12.18" fill="#A8A400"/>
<rect x="183.04" y="519.78" width="2.18" height="7.50" fill="#74B000"/>
<rect x="183.04" y="527.18" width="2.18" height="5.47" fill="#05BB10"/>
<rect x="183.04" y="532.55" width="2.18" height="15.47" fill="#00C59C"/>
<rect x="183.04" y="547.92" width="2.18" height="15.62" fill="#00B2F2"/>
<rect x="183.04" y="563.44" width="2.18" height="18.01" fill="#CC78FF"/>
<rect x="183.04" y="581.35" width="2.18" height="6.07" fill="#FA60DE"/>
<rect x="183.04" y="587.32" width="2.18" height="31.53" fill="#FF5FA0"/>
<rect x="185.16" y="365.55" width="2.18" height="77.10" fill="#FF6767"/>
<rect x="185.16" y="442.55" width="2.18" height="65.92" fill="#F07C00"/>
<rect x="185.16" y="508.37" width="2.18" height="8.43" fill="#A8A400"/>
<rect x="185.16" y="516.70" width="2.18" height="5.20" fill="#74B000"/>
<rect x="185.16" y="521.80" width="2.18" height="5.47" fill="#05BB10"/>
<rect x="185.16" y="527.18" width="2.18" height="19.65" fill="#00C59C"/>
<rect x="185.16" y="546.73" width="2.18" height="18.01" fill="#00B2F2"/>
<rect x="185.16" y="564.64" width="2.18" height="16.82" fill="#FA60DE"/>
<rect x="185.16" y="581.35" width="2.18" height="37.50" fill="#FF5FA0"/>
<rect x="187.28" y="365.55" width="2.18" height="12.62" fill="#FF6767"/>
<rect x="187.28" y="378.07" width="2.18" height="64.58" fill="#F07C00"/>
<rect x="187.28" y="442.55" width="2.18" height="22.58" fill="#A8A400"/>
<rect x="187.28" y="465.04" width="2.18" height="13.88" fill="#74B000"/>
<rect x="187.28" y="478.82" width="2.18" height="14.26" fill="#A8A400"/>
<rect x="187.28" y="492.98" width="2.18" height="8.78" fill="#74B000"/>
<rect x="187.28" y="501.65" width="2.18" height="14.88" fill="#05BB10"/>
<rect x="187.28" y="516.43" width="2.18" height="37.56" fill="#00C59C"/>
<rect x="187.28" y="553.89" width="2.18" height="13.23" fill="#00B2F2"/>
<rect x="187.28" y="567.02" width="2.18" height="25.17" fill="#CC78FF"/>
<rect x="187.28" y="592.10" width="2.18" height="7.26" fill="#FA60DE"/>
<rect x="187.28" y="599.26" width="2.18" height="19.59" fill="#FF5FA0"/>
<rect x="189.40" y="365.55" width="2.18" height="0.53" fill="#FF6767"/>
<rect x="189.40" y="365.98" width="2.18" height="2.79" fill="#F07C00"/>
<rect x="189.40" y="368.67" width="2.18" height="3.85" fill="#A8A400"/>
<rect x="189.40" y="372.41" width="2.18" height="2.40" fill="#74B000"/>
<rect x="189.40" y="374.71" width="2.18" height="4.80" fill="#00C59C"/>
<rect x="189.40" y="379.41" width="2.18" height="8.16" fill="#00B2F2"/>
<rect x="189.40" y="387.47" width="2.18" height="4.80" fill="#8890FF"/>
<rect x="189.40" y="392.18" width="2.18" height="167.78" fill="#FF5CCB"/>
<rect x="189.40" y="559.86" width="2.18" height="58.99" fill="#FF5FA0"/>
<rect x="191.52" y="365.55" width="2.18" height="3.22" fill="#FF6767"/>
<rect x="191.52" y="368.67" width="2.18" height="39.06" fill="#F07C00"/>
<rect x="191.52" y="407.62" width="2.18" height="31.00" fill="#D29600"/>
<rect x="191.52" y="438.52" width="2.18" height="10.85" fill="#05BB10"/>
<rect x="191.52" y="449.27" width="2.18" height="108.30" fill="#00C59C"/>
<rect x="191.52" y="557.47" width="2.18" height="19.20" fill="#00B2F2"/>
<rect x="191.52" y="576.58" width="2.18" height="13.23" fill="#8890FF"/>
<rect x="191.52" y="589.71" width="2.18" height="12.04" fill="#FA60DE"/>
<rect x="191.52" y="601.65" width="2.18" height="17.20" fill="#FF5FA0"/>
<rect x="193.64" y="365.55" width="2.18" height="56.95" fill="#FF6767"/>
<rect x="193.64" y="422.40" width="2.18" height="73.98" fill="#F07C00"/>
<rect x="193.64" y="496.28" width="2.18" height="12.59" fill="#A8A400"/>
<rect x="193.64" y="508.77" width="2.18" height="7.76" fill="#74B000"/>
<rect x="193.64" y="516.43" width="2.18" height="6.82" fill="#05BB10"/>
<rect x="193.64" y="523.15" width="2.18" height="41.59" fill="#00C59C"/>
<rect x="193.64" y="564.64" width="2.18" height="19.20" fill="#00B2F2"/>
<rect x="193.64" y="583.74" width="2.18" height="7.26" fill="#8890FF"/>
<rect x="193.64" y="590.91" width="2.18" height="4.88" fill="#FA60DE"/>
<rect x="193.64" y="595.68" width="2.18" height="23.17" fill="#FF5FA0"/>
<rect x="195.77" y="365.55" width="2.18" height="50.23" fill="#FF6767"/>
<rect x="195.77" y="415.68" width="2.18" height="76.67" fill="#F07C00"/>
<rect x="195.77" y="492.25" width="2.18" height="8.43" fill="#A8A400"/>
<rect x="195.77" y="500.58" width="2.18" height="5.20" fill="#74B000"/>
<rect x="195.77" y="505.68" width="2.18" height="6.82" fill="#05BB10"/>
<rect x="195.77" y="512.40" width="2.18" height="53.53" fill="#00C59C"/>
<rect x="195.77" y="565.83" width="2.18" height="20.40" fill="#00B2F2"/>
<rect x="195.77" y="586.13" width="2.18" height="6.07" fill="#8890FF"/>
<rect x="195.77" y="592.10" width="2.18" height="6.07" fill="#FA60DE"/>
<rect x="195.77" y="598.07" width="2.18" height="20.78" fill="#FF5FA0"/>
<rect x="197.89" y="365.55" width="2.18" height="39.49" fill="#FF6767"/>
<rect x="197.89" y="404.94" width="2.18" height="33.68" fill="#F07C00"/>
<rect x="197.89" y="438.52" width="2.18" height="52.49" fill="#D29600"/>
<rect x="197.89" y="490.91" width="2.18" height="20.25" fill="#05BB10"/>
<rect x="197.89" y="511.06" width="2.18" height="51.29" fill="#00C59C"/>
<rect x="197.89" y="562.25" width="2.18" height="22.79" fill="#00B2F2"/>
<rect x="197.89" y="584.94" width="2.18" height="14.43" fill="#8890FF"/>
<rect x="197.89" y="599.26" width="2.18" height="2.49" fill="#FA60DE"/>
<rect x="197.89" y="601.65" width="2.18" height="17.20" fill="#FF5FA0"/>
<rect x="200.01" y="365.55" width="2.18" height="3.22" fill="#FF6767"/>
<rect x="200.01" y="368.67" width="2.18" height="54.51" fill="#F07C00"/>
<rect x="200.01" y="423.07" width="2.18" height="6.35" fill="#A8A400"/>
<rect x="200.01" y="429.32" width="2.18" height="3.93" fill="#74B000"/>
<rect x="200.01" y="433.15" width="2.18" height="59.20" fill="#05BB10"/>
<rect x="200.01" y="492.25" width="2.18" height="68.90" fill="#00C59C"/>
<rect x="200.01" y="561.05" width="2.18" height="12.04" fill="#00B2F2"/>
<rect x="200.01" y="572.99" width="2.18" height="26.37" fill="#8890FF"/>
<rect x="200.01" y="599.26" width="2.18" height="19.59" fill="#FF5FA0"/>
<rect x="202.13" y="365.55" width="2.18" height="146.95" fill="#FF6767"/>
<rect x="202.13" y="512.40" width="2.18" height="59.50" fill="#F07C00"/>
<rect x="202.13" y="571.80" width="2.18" height="27.56" fill="#00C59C"/>
<rect x="202.13" y="599.26" width="2.18" height="13.23" fill="#00B2F2"/>
<rect x="202.13" y="612.40" width="2.18" height="6.45" fill="#FF5FA0"/>
<rect x="204.25" y="365.55" width="2.18" height="1.87" fill="#FF6767"/>
<rect x="204.25" y="367.32" width="2.18" height="143.83" fill="#F07C00"/>
<rect x="204.25" y="511.06" width="2.18" height="5.47" fill="#05BB10"/>
<rect x="204.25" y="516.43" width="2.18" height="30.39" fill="#00C59C"/>
<rect x="204.25" y="546.73" width="2.18" height="28.76" fill="#00B2F2"/>
<rect x="204.25" y="575.38" width="2.18" height="6.07" fill="#CC78FF"/>
<rect x="204.25" y="581.35" width="2.18" height="37.50" fill="#FF5FA0"/>
<rect x="206.37" y="365.55" width="2.18" height="129.49" fill="#FF6767"/>
<rect x="206.37" y="494.94" width="2.18" height="82.93" fill="#F07C00"/>
<rect x="206.37" y="577.77" width="2.18" height="18.01" fill="#00C59C"/>
<rect x="206.37" y="595.68" width="2.18" height="11.44" fill="#00B2F2"/>
<rect x="206.37" y="607.02" width="2.18" height="11.83" fill="#FF5FA0"/>
<rect x="208.50" y="365.55" width="2.18" height="6.58" fill="#FF6767"/>
<rect x="208.50" y="372.03" width="2.18" height="20.92" fill="#F07C00"/>
<rect x="208.50" y="392.85" width="2.18" height="84.05" fill="#D29600"/>
<rect x="208.50" y="476.80" width="2.18" height="8.83" fill="#05BB10"/>
<rect x="208.50" y="485.53" width="2.18" height="43.09" fill="#00C59C"/>
<rect x="208.50" y="528.52" width="2.18" height="4.13" fill="#00B2F2"/>
<rect x="208.50" y="532.55" width="2.18" height="36.96" fill="#8890FF"/>
<rect x="208.50" y="569.41" width="2.18" height="16.82" fill="#FA60DE"/>
<rect x="208.50" y="586.13" width="2.18" height="32.72" fill="#FF5FA0"/>
<rect x="210.62" y="365.55" width="2.18" height="0.53" fill="#FF6767"/>
<rect x="210.62" y="365.98" width="2.18" height="33.01" fill="#F07C00"/>
<rect x="210.62" y="398.89" width="2.18" height="155.10" fill="#D29600"/>
<rect x="210.62" y="553.89" width="2.18" height="7.50" fill="#A8A400"/>
<rect x="210.62" y="561.29" width="2.18" height="4.64" fill="#74B000"/>
<rect x="210.62" y="565.83" width="2.18" height="21.59" fill="#05BB10"/>
<rect x="210.62" y="587.32" width="2.18" height="9.65" fill="#CC78FF"/>
<rect x="210.62" y="596.88" width="2.18" height="21.97" fill="#FF5FA0"/>
<rect x="212.74" y="365.55" width="2.18" height="86.50" fill="#FF6767"/>
<rect x="212.74" y="451.95" width="2.18" height="28.31" fill="#F07C00"/>
<rect x="212.74" y="480.16" width="2.18" height="83.38" fill="#D29600"/>
<rect x="212.74" y="563.44" width="2.18" height="11.20" fill="#A8A400"/>
<rect x="212.74" y="574.55" width="2.18" height="6.91" fill="#74B000"/>
<rect x="212.74" y="581.35" width="2.18" height="10.85" fill="#05BB10"/>
<rect x="212.74" y="592.10" width="2.18" height="6.07" fill="#CC78FF"/>
<rect x="212.74" y="598.07" width="2.18" height="20.78" fill="#FF5FA0"/>
<rect x="214.86" y="365.55" width="2.18" height="86.50" fill="#FF6767"/>
<rect x="214.86" y="451.95" width="2.18" height="55.18" fill="#F07C00"/>
<rect x="214.86" y="507.03" width="2.18" height="62.48" fill="#D29600"/>
<rect x="214.86" y="569.41" width="2.18" height="4.54" fill="#A8A400"/>
<rect x="214.86" y="573.85" width="2.18" height="2.82" fill="#74B000"/>
<rect x="214.86" y="576.58" width="2.18" height="16.82" fill="#05BB10"/>
<rect x="214.86" y="593.29" width="2.18" height="7.26" fill="#FA60DE"/>
<rect x="214.86" y="600.46" width="2.18" height="18.39" fill="#FF5FA0"/>
<rect x="216.98" y="365.55" width="2.18" height="39.49" fill="#FF6767"/>
<rect x="216.98" y="404.94" width="2.18" height="106.22" fill="#F07C00"/>
<rect x="216.98" y="511.06" width="2.18" height="12.19" fill="#05BB10"/>
<rect x="216.98" y="523.15" width="2.18" height="69.05" fill="#00C59C"/>
<rect x="216.98" y="592.10" width="2.18" height="6.07" fill="#FA60DE"/>
<rect x="216.98" y="598.07" width="2.18" height="20.78" fill="#FF5FA0"/>
<rect x="219.10" y="365.55" width="2.18" height="65.01" fill="#FF6767"/>
<rect x="219.10" y="430.46" width="2.18" height="80.70" fill="#F07C00"/>
<rect x="219.10" y="511.06" width="2.18" height="5.10" fill="#A8A400"/>
<rect x="219.10" y="516.06" width="2.18" height="3.16" fill="#74B000"/>
<rect x="219.10" y="519.12" width="2.18" height="22.93" fill="#05BB10"/>
<rect x="219.10" y="541.95" width="2.18" height="21.59" fill="#00C59C"/>
<rect x="219.10" y="563.44" width="2.18" height="38.31" fill="#FA60DE"/>
<rect x="219.10" y="601.65" width="2.18" height="17.20" fill="#FF5FA0"/>
<rect x="221.22" y="365.55" width="2.18" height="130.83" fill="#FF6767"/>
<rect x="221.22" y="496.28" width="2.18" height="31.00" fill="#F07C00"/>
<rect x="221.22" y="527.18" width="2.18" height="22.58" fill="#A8A400"/>
<rect x="221.22" y="549.66" width="2.18" height="13.88" fill="#74B000"/>
<rect x="221.22" y="563.44" width="2.18" height="20.40" fill="#05BB10"/>
<rect x="221.22" y="583.74" width="2.18" height="16.82" fill="#00B2F2"/>
<rect x="221.22" y="600.46" width="2.18" height="6.67" fill="#CC78FF"/>
<rect x="221.22" y="607.02" width="2.18" height="11.83" fill="#FF5FA0"/>
<rect x="223.35" y="365.55" width="2.18" height="0.53" fill="#FF6767"/>
<rect x="223.35" y="365.98" width="2.18" height="161.30" fill="#F07C00"/>
<rect x="223.35" y="527.18" width="2.18" height="9.26" fill="#A8A400"/>
<rect x="223.35" y="536.34" width="2.18" height="5.71" fill="#74B000"/>
<rect x="223.35" y="541.95" width="2.18" height="6.02" fill="#A8A400"/>
<rect x="223.35" y="547.87" width="2.18" height="3.73" fill="#74B000"/>
<rect x="223.35" y="551.50" width="2.18" height="7.26" fill="#05BB10"/>
<rect x="223.35" y="558.67" width="2.18" height="7.26" fill="#00C59C"/>
<rect x="223.35" y="565.83" width="2.18" height="34.73" fill="#00B2F2"/>
<rect x="223.35" y="600.46" width="2.18" height="7.26" fill="#CC78FF"/>
<rect x="223.35" y="607.62" width="2.18" height="11.23" fill="#FF5FA0"/>
<rect x="225.47" y="365.55" width="2.18" height="0.53" fill="#FF6767"/>
<rect x="225.47" y="365.98" width="2.18" height="6.82" fill="#F07C00"/>
<rect x="225.47" y="372.70" width="2.18" height="94.13" fill="#A8A400"/>
<rect x="225.47" y="466.73" width="2.18" height="5.47" fill="#05BB10"/>
<rect x="225.47" y="472.10" width="2.18" height="24.28" fill="#00C59C"/>
<rect x="225.47" y="496.28" width="2.18" height="22.94" fill="#00B2F2"/>
<rect x="225.47" y="519.12" width="2.18" height="46.81" fill="#8890FF"/>
<rect x="225.47" y="565.83" width="2.18" height="41.29" fill="#FA60DE"/>
<rect x="225.47" y="607.02" width="2.18" height="11.83" fill="#FF5FA0"/>
<rect x="227.59" y="365.55" width="2.18" height="207.10" fill="#FF6767"/>
<rect x="227.59" y="572.55" width="2.18" height="13.29" fill="#F07C00"/>
<rect x="227.59" y="585.74" width="2.18" height="2.62" fill="#A8A400"/>
<rect x="227.59" y="588.26" width="2.18" height="1.64" fill="#74B000"/>
<rect x="227.59" y="589.80" width="2.18" height="6.19" fill="#05BB10"/>
<rect x="227.59" y="595.89" width="2.18" height="10.64" fill="#00B2F2"/>
<rect x="227.59" y="606.43" width="2.18" height="6.07" fill="#CC78FF"/>
<rect x="227.59" y="612.40" width="2.18" height="6.45" fill="#FF5FA0"/>
<rect x="229.71" y="365.55" width="2.18" height="80.46" fill="#FF6767"/>
<rect x="229.71" y="445.91" width="2.18" height="65.25" fill="#F07C00"/>
<rect x="229.71" y="511.06" width="2.18" height="19.25" fill="#A8A400"/>
<rect x="229.71" y="530.21" width="2.18" height="11.84" fill="#74B000"/>
<rect x="229.71" y="541.95" width="2.18" height="10.89" fill="#A8A400"/>
<rect x="229.71" y="552.74" width="2.18" height="6.71" fill="#74B000"/>
<rect x="229.71" y="559.35" width="2.18" height="7.20" fill="#05BB10"/>
<rect x="229.71" y="566.46" width="2.18" height="14.31" fill="#00C59C"/>
<rect x="229.71" y="580.67" width="2.18" height="6.19" fill="#00B2F2"/>
<rect x="229.71" y="586.76" width="2.18" height="10.25" fill="#FA60DE"/>
<rect x="229.71" y="596.90" width="2.18" height="21.95" fill="#FF5FA0"/>
<rect x="231.83" y="365.55" width="2.18" height="0.53" fill="#FF6767"/>
<rect x="231.83" y="365.98" width="2.18" height="98.83" fill="#F07C00"/>
<rect x="231.83" y="464.71" width="2.18" height="16.89" fill="#05BB10"/>
<rect x="231.83" y="481.50" width="2.18" height="26.97" fill="#00C59C"/>
<rect x="231.83" y="508.37" width="2.18" height="10.85" fill="#00B2F2"/>
<rect x="231.83" y="519.12" width="2.18" height="62.66" fill="#8890FF"/>
<rect x="231.83" y="581.68" width="2.18" height="22.46" fill="#FA60DE"/>
<rect x="231.83" y="604.04" width="2.18" height="14.81" fill="#FF5FA0"/>
<rect x="233.95" y="365.55" width="2.18" height="167.10" fill="#FF6767"/>
<rect x="233.95" y="532.55" width="2.18" height="6.02" fill="#A8A400"/>
<rect x="233.95" y="538.47" width="2.18" height="3.73" fill="#74B000"/>
<rect x="233.95" y="542.10" width="2.18" height="5.76" fill="#A8A400"/>
<rect x="233.95" y="547.76" width="2.18" height="3.57" fill="#74B000"/>
<rect x="233.95" y="551.23" width="2.18" height="24.46" fill="#05BB10"/>
<rect x="233.95" y="575.59" width="2.18" height="9.23" fill="#00C59C"/>
<rect x="233.95" y="584.73" width="2.18" height="9.23" fill="#00B2F2"/>
<rect x="233.95" y="593.86" width="2.18" height="3.14" fill="#FA60DE"/>
<rect x="233.95" y="596.90" width="2.18" height="21.95" fill="#FF5FA0"/>
<rect x="236.07" y="365.55" width="2.18" height="201.01" fill="#FF6767"/>
<rect x="236.07" y="566.46" width="2.18" height="15.32" fill="#F07C00"/>
<rect x="236.07" y="581.68" width="2.18" height="4.50" fill="#A8A400"/>
<rect x="236.07" y="586.09" width="2.18" height="2.80" fill="#74B000"/>
<rect x="236.07" y="588.79" width="2.18" height="4.16" fill="#05BB10"/>
<rect x="236.07" y="592.85" width="2.18" height="12.49" fill="#FA60DE"/>
<rect x="236.07" y="605.23" width="2.18" height="13.62" fill="#FF5FA0"/>
<rect x="238.20" y="365.55" width="2.18" height="144.26" fill="#FF6767"/>
<rect x="238.20" y="509.71" width="2.18" height="18.91" fill="#F07C00"/>
<rect x="238.20" y="528.52" width="2.18" height="2.60" fill="#A8A400"/>
<rect x="238.20" y="531.02" width="2.18" height="1.63" fill="#74B000"/>
<rect x="238.20" y="532.55" width="2.18" height="17.77" fill="#05BB10"/>
<rect x="238.20" y="550.22" width="2.18" height="14.31" fill="#00B2F2"/>
<rect x="238.20" y="564.43" width="2.18" height="19.38" fill="#CC78FF"/>
<rect x="238.20" y="583.71" width="2.18" height="15.34" fill="#FA60DE"/>
<rect x="238.20" y="598.95" width="2.18" height="19.90" fill="#FF5FA0"/>
<rect x="240.32" y="365.55" width="2.18" height="192.89" fill="#FF6767"/>
<rect x="240.32" y="558.34" width="2.18" height="24.46" fill="#F07C00"/>
<rect x="240.32" y="582.70" width="2.18" height="10.25" fill="#05BB10"/>
<rect x="240.32" y="592.85" width="2.18" height="20.85" fill="#00B2F2"/>
<rect x="240.32" y="613.59" width="2.18" height="5.26" fill="#FF5FA0"/>
<rect x="242.44" y="365.55" width="2.18" height="0.53" fill="#FF6767"/>
<rect x="242.44" y="365.98" width="2.18" height="53.16" fill="#F07C00"/>
<rect x="242.44" y="419.04" width="2.18" height="94.80" fill="#D29600"/>
<rect x="242.44" y="513.74" width="2.18" height="5.10" fill="#A8A400"/>
<rect x="242.44" y="518.74" width="2.18" height="3.16" fill="#74B000"/>
<rect x="242.44" y="521.80" width="2.18" height="20.25" fill="#05BB10"/>
<rect x="242.44" y="541.95" width="2.18" height="10.40" fill="#00B2F2"/>
<rect x="242.44" y="552.25" width="2.18" height="28.52" fill="#CC78FF"/>
<rect x="242.44" y="580.67" width="2.18" height="12.28" fill="#FA60DE"/>
<rect x="242.44" y="592.85" width="2.18" height="26.00" fill="#FF5FA0"/>
<rect x="244.56" y="365.55" width="2.18" height="195.93" fill="#FF6767"/>
<rect x="244.56" y="561.38" width="2.18" height="19.38" fill="#F07C00"/>
<rect x="244.56" y="580.67" width="2.18" height="4.16" fill="#05BB10"/>
<rect x="244.56" y="584.73" width="2.18" height="4.16" fill="#00C59C"/>
<rect x="244.56" y="588.79" width="2.18" height="4.16" fill="#00B2F2"/>
<rect x="244.56" y="592.85" width="2.18" height="20.85" fill="#CC78FF"/>
<rect x="244.56" y="613.59" width="2.18" height="5.26" fill="#FF5FA0"/>
<rect x="246.68" y="365.55" width="2.18" height="0.53" fill="#FF6767"/>
<rect x="246.68" y="365.98" width="2.18" height="68.61" fill="#F07C00"/>
<rect x="246.68" y="434.49" width="2.18" height="33.68" fill="#05BB10"/>
<rect x="246.68" y="468.07" width="2.18" height="73.98" fill="#00C59C"/>
<rect x="246.68" y="541.95" width="2.18" height="10.40" fill="#00B2F2"/>
<rect x="246.68" y="552.25" width="2.18" height="35.62" fill="#CC78FF"/>
<rect x="246.68" y="587.77" width="2.18" height="9.23" fill="#FA60DE"/>
<rect x="246.68" y="596.90" width="2.18" height="21.95" fill="#FF5FA0"/>
<rect x="248.80" y="365.55" width="2.18" height="81.80" fill="#FF6767"/>
<rect x="248.80" y="447.25" width="2.18" height="94.80" fill="#F07C00"/>
<rect x="248.80" y="541.95" width="2.18" height="8.37" fill="#A8A400"/>
<rect x="248.80" y="550.22" width="2.18" height="5.17" fill="#74B000"/>
<rect x="248.80" y="555.29" width="2.18" height="24.46" fill="#05BB10"/>
<rect x="248.80" y="579.65" width="2.18" height="7.20" fill="#00C59C"/>
<rect x="248.80" y="586.76" width="2.18" height="8.22" fill="#00B2F2"/>
<rect x="248.80" y="594.87" width="2.18" height="16.43" fill="#CC78FF"/>
<rect x="248.80" y="611.20" width="2.18" height="7.65" fill="#FF5FA0"/>
<rect x="250.93" y="365.55" width="2.18" height="0.53" fill="#FF6767"/>
<rect x="250.93" y="365.98" width="2.18" height="150.55" fill="#F07C00"/>
<rect x="250.93" y="516.43" width="2.18" height="10.09" fill="#A8A400"/>
<rect x="250.93" y="526.43" width="2.18" height="6.23" fill="#74B000"/>
<rect x="250.93" y="532.55" width="2.18" height="25.89" fill="#05BB10"/>
<rect x="250.93" y="558.34" width="2.18" height="14.31" fill="#00C59C"/>
<rect x="250.93" y="572.55" width="2.18" height="16.34" fill="#00B2F2"/>
<rect x="250.93" y="588.79" width="2.18" height="30.06" fill="#FF5FA0"/>
<rect x="253.05" y="365.55" width="2.18" height="191.87" fill="#FF6767"/>
<rect x="253.05" y="557.32" width="2.18" height="9.23" fill="#F07C00"/>
<rect x="253.05" y="566.46" width="2.18" height="8.22" fill="#05BB10"/>
<rect x="253.05" y="574.58" width="2.18" height="6.19" fill="#00C59C"/>
<rect x="253.05" y="580.67" width="2.18" height="8.22" fill="#00B2F2"/>
<rect x="253.05" y="588.79" width="2.18" height="6.19" fill="#FA60DE"/>
<rect x="253.05" y="594.87" width="2.18" height="23.98" fill="#FF5FA0"/>
<rect x="255.17" y="365.55" width="2.18" height="122.77" fill="#FF6767"/>
<rect x="255.17" y="488.22" width="2.18" height="53.83" fill="#F07C00"/>
<rect x="255.17" y="541.95" width="2.18" height="9.00" fill="#A8A400"/>
<rect x="255.17" y="550.85" width="2.18" height="5.56" fill="#74B000"/>
<rect x="255.17" y="556.31" width="2.18" height="14.31" fill="#05BB10"/>
<rect x="255.17" y="570.52" width="2.18" height="15.32" fill="#00C59C"/>
<rect x="255.17" y="585.74" width="2.18" height="8.22" fill="#00B2F2"/>
<rect x="255.17" y="593.86" width="2.18" height="3.14" fill="#FA60DE"/>
<rect x="255.17" y="596.90" width="2.18" height="21.95" fill="#FF5FA0"/>
<rect x="257.29" y="365.55" width="2.18" height="112.02" fill="#FF6767"/>
<rect x="257.29" y="477.47" width="2.18" height="57.86" fill="#F07C00"/>
<rect x="257.29" y="535.24" width="2.18" height="4.26" fill="#A8A400"/>
<rect x="257.29" y="539.40" width="2.18" height="2.65" fill="#74B000"/>
<rect x="257.29" y="541.95" width="2.18" height="3.34" fill="#A8A400"/>
<rect x="257.29" y="545.19" width="2.18" height="2.09" fill="#74B000"/>
<rect x="257.29" y="547.17" width="2.18" height="24.46" fill="#05BB10"/>
<rect x="257.29" y="571.53" width="2.18" height="9.23" fill="#00C59C"/>
<rect x="257.29" y="580.67" width="2.18" height="10.25" fill="#00B2F2"/>
<rect x="257.29" y="590.82" width="2.18" height="4.16" fill="#FA60DE"/>
<rect x="257.29" y="594.87" width="2.18" height="23.98" fill="#FF5FA0"/>
<rect x="259.41" y="365.55" width="2.18" height="176.50" fill="#FF6767"/>
<rect x="259.41" y="541.95" width="2.18" height="19.70" fill="#A8A400"/>
<rect x="259.41" y="561.55" width="2.18" height="12.11" fill="#74B000"/>
<rect x="259.41" y="573.56" width="2.18" height="13.29" fill="#05BB10"/>
<rect x="259.41" y="586.76" width="2.18" height="10.25" fill="#00B2F2"/>
<rect x="259.41" y="596.90" width="2.18" height="21.95" fill="#FF5FA0"/>
<rect x="261.53" y="365.55" width="2.18" height="2.55" fill="#FF6767"/>
<rect x="261.53" y="368.00" width="2.18" height="63.24" fill="#F07C00"/>
<rect x="261.53" y="431.13" width="2.18" height="45.77" fill="#D29600"/>
<rect x="261.53" y="476.80" width="2.18" height="13.84" fill="#A8A400"/>
<rect x="261.53" y="490.54" width="2.18" height="8.52" fill="#74B000"/>
<rect x="261.53" y="498.97" width="2.18" height="17.56" fill="#05BB10"/>
<rect x="261.53" y="516.43" width="2.18" height="38.96" fill="#00C59C"/>
<rect x="261.53" y="555.29" width="2.18" height="13.29" fill="#00B2F2"/>
<rect x="261.53" y="568.49" width="2.18" height="20.40" fill="#8890FF"/>
<rect x="261.53" y="588.79" width="2.18" height="8.22" fill="#FA60DE"/>
<rect x="261.53" y="596.90" width="2.18" height="21.95" fill="#FF5FA0"/>
<rect x="263.65" y="365.55" width="2.18" height="188.83" fill="#FF6767"/>
<rect x="263.65" y="554.28" width="2.18" height="18.37" fill="#F07C00"/>
<rect x="263.65" y="572.55" width="2.18" height="14.31" fill="#05BB10"/>
<rect x="263.65" y="586.76" width="2.18" height="6.19" fill="#00C59C"/>
<rect x="263.65" y="592.85" width="2.18" height="26.00" fill="#FF5FA0"/>
<rect x="265.78" y="365.55" width="2.18" height="3.22" fill="#FF6767"/>
<rect x="265.78" y="368.67" width="2.18" height="99.50" fill="#F07C00"/>
<rect x="265.78" y="468.07" width="2.18" height="6.76" fill="#A8A400"/>
<rect x="265.78" y="474.73" width="2.18" height="4.18" fill="#74B000"/>
<rect x="265.78" y="478.82" width="2.18" height="33.68" fill="#05BB10"/>
<rect x="265.78" y="512.40" width="2.18" height="29.65" fill="#00C59C"/>
<rect x="265.78" y="541.95" width="2.18" height="36.79" fill="#00B2F2"/>
<rect x="265.78" y="578.64" width="2.18" height="23.12" fill="#CC78FF"/>
<rect x="265.78" y="601.65" width="2.18" height="17.20" fill="#FF5FA0"/>
<rect x="267.90" y="365.55" width="2.18" height="1.87" fill="#FF6767"/>
<rect x="267.90" y="367.32" width="2.18" height="33.01" fill="#F07C00"/>
<rect x="267.90" y="400.24" width="2.18" height="37.04" fill="#A8A400"/>
<rect x="267.90" y="437.18" width="2.18" height="5.47" fill="#05BB10"/>
<rect x="267.90" y="442.55" width="2.18" height="12.18" fill="#00C064"/>
<rect x="267.90" y="454.64" width="2.18" height="59.21" fill="#00B2F2"/>
<rect x="267.90" y="513.74" width="2.18" height="21.59" fill="#8890FF"/>
<rect x="267.90" y="535.24" width="2.18" height="6.81" fill="#FA60DE"/>
<rect x="267.90" y="541.95" width="2.18" height="76.90" fill="#FF5FA0"/>
<rect x="270.02" y="365.55" width="2.18" height="30.08" fill="#FF6767"/>
<rect x="270.02" y="395.53" width="2.18" height="49.80" fill="#F07C00"/>
<rect x="270.02" y="445.24" width="2.18" height="35.02" fill="#D29600"/>
<rect x="270.02" y="480.16" width="2.18" height="8.43" fill="#A8A400"/>
<rect x="270.02" y="488.49" width="2.18" height="5.20" fill="#74B000"/>
<rect x="270.02" y="493.59" width="2.18" height="4.13" fill="#05BB10"/>
<rect x="270.02" y="497.62" width="2.18" height="44.57" fill="#00C59C"/>
<rect x="270.02" y="542.10" width="2.18" height="30.55" fill="#00B2F2"/>
<rect x="270.02" y="572.55" width="2.18" height="29.20" fill="#CC78FF"/>
<rect x="270.02" y="601.65" width="2.18" height="17.20" fill="#FF5FA0"/>
<rect x="272.14" y="365.55" width="2.18" height="54.26" fill="#FF6767"/>
<rect x="272.14" y="419.71" width="2.18" height="56.52" fill="#F07C00"/>
<rect x="272.14" y="476.13" width="2.18" height="56.52" fill="#D29600"/>
<rect x="272.14" y="532.55" width="2.18" height="5.93" fill="#A8A400"/>
<rect x="272.14" y="538.38" width="2.18" height="3.67" fill="#74B000"/>
<rect x="272.14" y="541.95" width="2.18" height="29.14" fill="#A8A400"/>
<rect x="272.14" y="570.99" width="2.18" height="17.90" fill="#74B000"/>
<rect x="272.14" y="588.79" width="2.18" height="9.23" fill="#05BB10"/>
<rect x="272.14" y="597.92" width="2.18" height="6.22" fill="#00B2F2"/>
<rect x="272.14" y="604.04" width="2.18" height="14.81" fill="#FF5FA0"/>
<rect x="274.26" y="365.55" width="2.18" height="176.50" fill="#FF6767"/>
<rect x="274.26" y="541.95" width="2.18" height="19.53" fill="#F07C00"/>
<rect x="274.26" y="561.38" width="2.18" height="7.02" fill="#A8A400"/>
<rect x="274.26" y="568.30" width="2.18" height="4.34" fill="#74B000"/>
<rect x="274.26" y="572.55" width="2.18" height="12.28" fill="#05BB10"/>
<rect x="274.26" y="584.73" width="2.18" height="8.22" fill="#00B2F2"/>
<rect x="274.26" y="592.85" width="2.18" height="16.07" fill="#CC78FF"/>
<rect x="274.26" y="608.82" width="2.18" height="10.03" fill="#FF5FA0"/>
<rect x="276.38" y="365.55" width="2.18" height="4.56" fill="#FF6767"/>
<rect x="276.38" y="370.01" width="2.18" height="41.07" fill="#F07C00"/>
<rect x="276.38" y="410.98" width="2.18" height="27.64" fill="#D29600"/>
<rect x="276.38" y="438.52" width="2.18" height="8.43" fill="#A8A400"/>
<rect x="276.38" y="446.85" width="2.18" height="5.20" fill="#74B000"/>
<rect x="276.38" y="451.95" width="2.18" height="10.09" fill="#A8A400"/>
<rect x="276.38" y="461.94" width="2.18" height="6.23" fill="#74B000"/>
<rect x="276.38" y="468.07" width="2.18" height="10.85" fill="#05BB10"/>
<rect x="276.38" y="478.82" width="2.18" height="37.71" fill="#00C59C"/>
<rect x="276.38" y="516.43" width="2.18" height="38.96" fill="#00B2F2"/>
<rect x="276.38" y="555.29" width="2.18" height="29.53" fill="#CC78FF"/>
<rect x="276.38" y="584.73" width="2.18" height="21.80" fill="#FA60DE"/>
<rect x="276.38" y="606.43" width="2.18" height="12.42" fill="#FF5FA0"/>
<rect x="278.50" y="365.55" width="2.18" height="0.53" fill="#FF6767"/>
<rect x="278.50" y="365.98" width="2.18" height="90.10" fill="#F07C00"/>
<rect x="278.50" y="455.98" width="2.18" height="15.09" fill="#A8A400"/>
<rect x="278.50" y="470.97" width="2.18" height="9.29" fill="#74B000"/>
<rect x="278.50" y="480.16" width="2.18" height="18.91" fill="#05BB10"/>
<rect x="278.50" y="498.97" width="2.18" height="17.56" fill="#00C59C"/>
<rect x="278.50" y="516.43" width="2.18" height="48.10" fill="#00B2F2"/>
<rect x="278.50" y="564.43" width="2.18" height="24.46" fill="#CC78FF"/>
<rect x="278.50" y="588.79" width="2.18" height="17.74" fill="#FA60DE"/>
<rect x="278.50" y="606.43" width="2.18" height="12.42" fill="#FF5FA0"/>
<rect x="280.63" y="365.55" width="2.18" height="99.93" fill="#FF6767"/>
<rect x="280.63" y="465.38" width="2.18" height="76.67" fill="#F07C00"/>
<rect x="280.63" y="541.95" width="2.18" height="19.53" fill="#05BB10"/>
<rect x="280.63" y="561.38" width="2.18" height="19.38" fill="#00B2F2"/>
<rect x="280.63" y="580.67" width="2.18" height="18.38" fill="#CC78FF"/>
<rect x="280.63" y="598.95" width="2.18" height="6.38" fill="#FA60DE"/>
<rect x="280.63" y="605.23" width="2.18" height="13.62" fill="#FF5FA0"/>
<rect x="282.75" y="365.55" width="2.18" height="38.82" fill="#FF6767"/>
<rect x="282.75" y="404.27" width="2.18" height="2.12" fill="#F07C00"/>
<rect x="282.75" y="406.28" width="2.18" height="91.44" fill="#D29600"/>
<rect x="282.75" y="497.62" width="2.18" height="3.43" fill="#A8A400"/>
<rect x="282.75" y="500.96" width="2.18" height="2.14" fill="#74B000"/>
<rect x="282.75" y="503.00" width="2.18" height="2.79" fill="#05BB10"/>
<rect x="282.75" y="505.68" width="2.18" height="5.47" fill="#00B2F2"/>
<rect x="282.75" y="511.06" width="2.18" height="30.99" fill="#FA60DE"/>
<rect x="282.75" y="541.95" width="2.18" height="20.55" fill="#FF5CCB"/>
<rect x="282.75" y="562.40" width="2.18" height="56.45" fill="#FF5FA0"/>
<rect x="284.87" y="365.55" width="2.18" height="0.53" fill="#FF6767"/>
<rect x="284.87" y="365.98" width="2.18" height="39.73" fill="#F07C00"/>
<rect x="284.87" y="405.61" width="2.18" height="108.24" fill="#D29600"/>
<rect x="284.87" y="513.74" width="2.18" height="34.54" fill="#05BB10"/>
<rect x="284.87" y="548.19" width="2.18" height="32.58" fill="#00B2F2"/>
<rect x="284.87" y="580.67" width="2.18" height="8.22" fill="#FA60DE"/>
<rect x="284.87" y="588.79" width="2.18" height="30.06" fill="#FF5FA0"/>
<rect x="286.99" y="365.55" width="2.18" height="218.26" fill="#FF6767"/>
<rect x="286.99" y="583.71" width="2.18" height="11.26" fill="#F07C00"/>
<rect x="286.99" y="594.87" width="2.18" height="4.18" fill="#05BB10"/>
<rect x="286.99" y="598.95" width="2.18" height="5.19" fill="#00B2F2"/>
<rect x="286.99" y="604.04" width="2.18" height="14.81" fill="#FF5FA0"/>
<rect x="289.11" y="365.55" width="2.18" height="198.98" fill="#FF6767"/>
<rect x="289.11" y="564.43" width="2.18" height="21.41" fill="#F07C00"/>
<rect x="289.11" y="585.74" width="2.18" height="7.20" fill="#05BB10"/>
<rect x="289.11" y="592.85" width="2.18" height="23.23" fill="#00B2F2"/>
<rect x="289.11" y="615.98" width="2.18" height="2.49" fill="#FA60DE"/>
<rect x="289.11" y="618.37" width="2.18" height="0.48" fill="#FF5FA0"/>
<rect x="291.23" y="365.55" width="2.18" height="0.53" fill="#FF6767"/>
<rect x="291.23" y="365.98" width="2.18" height="49.80" fill="#F07C00"/>
<rect x="291.23" y="415.68" width="2.18" height="22.58" fill="#A8A400"/>
<rect x="291.23" y="438.17" width="2.18" height="13.88" fill="#74B000"/>
<rect x="291.23" y="451.95" width="2.18" height="9.26" fill="#A8A400"/>
<rect x="291.23" y="461.11" width="2.18" height="5.72" fill="#74B000"/>
<rect x="291.23" y="466.73" width="2.18" height="25.62" fill="#05BB10"/>
<rect x="291.23" y="492.25" width="2.18" height="20.25" fill="#00C59C"/>
<rect x="291.23" y="512.40" width="2.18" height="16.22" fill="#00B2F2"/>
<rect x="291.23" y="528.52" width="2.18" height="25.86" fill="#8890FF"/>
<rect x="291.23" y="554.28" width="2.18" height="18.37" fill="#CC78FF"/>
<rect x="291.23" y="572.55" width="2.18" height="16.34" fill="#FA60DE"/>
<rect x="291.23" y="588.79" width="2.18" height="30.06" fill="#FF5FA0"/>
<rect x="293.36" y="365.55" width="2.18" height="101.28" fill="#FF6767"/>
<rect x="293.36" y="466.73" width="2.18" height="75.32" fill="#F07C00"/>
<rect x="293.36" y="541.95" width="2.18" height="2.28" fill="#74B000"/>
<rect x="293.36" y="544.13" width="2.18" height="16.34" fill="#05BB10"/>
<rect x="293.36" y="560.37" width="2.18" height="6.19" fill="#00C59C"/>
<rect x="293.36" y="566.46" width="2.18" height="16.34" fill="#00B2F2"/>
<rect x="293.36" y="582.70" width="2.18" height="16.35" fill="#CC78FF"/>
<rect x="293.36" y="598.95" width="2.18" height="9.97" fill="#FA60DE"/>
<rect x="293.36" y="608.82" width="2.18" height="10.03" fill="#FF5FA0"/>
<rect x="295.48" y="365.55" width="2.18" height="90.53" fill="#FF6767"/>
<rect x="295.48" y="455.98" width="2.18" height="20.25" fill="#F07C00"/>
<rect x="295.48" y="476.13" width="2.18" height="21.59" fill="#05BB10"/>
<rect x="295.48" y="497.62" width="2.18" height="49.65" fill="#00C59C"/>
<rect x="295.48" y="547.17" width="2.18" height="18.37" fill="#00B2F2"/>
<rect x="295.48" y="565.44" width="2.18" height="9.23" fill="#CC78FF"/>
<rect x="295.48" y="574.58" width="2.18" height="27.17" fill="#FA60DE"/>
<rect x="295.48" y="601.65" width="2.18" height="17.20" fill="#FF5FA0"/>
<rect x="297.60" y="365.55" width="2.18" height="176.50" fill="#FF6767"/>
<rect x="297.60" y="541.95" width="2.18" height="39.50" fill="#F07C00"/>
<rect x="297.60" y="581.35" width="2.18" height="6.07" fill="#00C59C"/>
<rect x="297.60" y="587.32" width="2.18" height="16.82" fill="#FA60DE"/>
<rect x="297.60" y="604.04" width="2.18" height="14.81" fill="#FF5FA0"/>
<rect x="299.72" y="365.55" width="2.18" height="39.49" fill="#FF6767"/>
<rect x="299.72" y="404.94" width="2.18" height="24.28" fill="#F07C00"/>
<rect x="299.72" y="429.12" width="2.18" height="14.26" fill="#A8A400"/>
<rect x="299.72" y="443.27" width="2.18" height="8.78" fill="#74B000"/>
<rect x="299.72" y="451.95" width="2.18" height="10.93" fill="#A8A400"/>
<rect x="299.72" y="462.78" width="2.18" height="6.74" fill="#74B000"/>
<rect x="299.72" y="469.41" width="2.18" height="12.19" fill="#05BB10"/>
<rect x="299.72" y="481.50" width="2.18" height="18.91" fill="#00C59C"/>
<rect x="299.72" y="500.31" width="2.18" height="70.40" fill="#00C2CC"/>
<rect x="299.72" y="570.61" width="2.18" height="10.85" fill="#00B2F2"/>
<rect x="299.72" y="581.35" width="2.18" height="8.46" fill="#CC78FF"/>
<rect x="299.72" y="589.71" width="2.18" height="14.43" fill="#FA60DE"/>
<rect x="299.72" y="604.04" width="2.18" height="14.81" fill="#FF5FA0"/>
<rect x="301.84" y="365.55" width="2.18" height="176.50" fill="#FF6767"/>
<rect x="301.84" y="541.95" width="2.18" height="7.26" fill="#F07C00"/>
<rect x="301.84" y="549.11" width="2.18" height="21.59" fill="#05BB10"/>
<rect x="301.84" y="570.61" width="2.18" height="10.85" fill="#FA60DE"/>
<rect x="301.84" y="581.35" width="2.18" height="37.50" fill="#FF5FA0"/>
<rect x="303.96" y="365.55" width="2.18" height="1.20" fill="#FF6767"/>
<rect x="303.96" y="366.65" width="2.18" height="49.80" fill="#F07C00"/>
<rect x="303.96" y="416.36" width="2.18" height="22.17" fill="#A8A400"/>
<rect x="303.96" y="438.42" width="2.18" height="13.63" fill="#74B000"/>
<rect x="303.96" y="451.95" width="2.18" height="43.41" fill="#A8A400"/>
<rect x="303.96" y="495.26" width="2.18" height="26.64" fill="#74B000"/>
<rect x="303.96" y="521.80" width="2.18" height="57.26" fill="#05BB10"/>
<rect x="303.96" y="578.96" width="2.18" height="15.62" fill="#00C59C"/>
<rect x="303.96" y="594.49" width="2.18" height="13.23" fill="#00B2F2"/>
<rect x="303.96" y="607.62" width="2.18" height="11.23" fill="#FF5FA0"/>
<rect x="306.08" y="365.55" width="2.18" height="134.86" fill="#FF6767"/>
<rect x="306.08" y="500.31" width="2.18" height="47.71" fill="#F07C00"/>
<rect x="306.08" y="547.92" width="2.18" height="6.02" fill="#A8A400"/>
<rect x="306.08" y="553.84" width="2.18" height="3.73" fill="#74B000"/>
<rect x="306.08" y="557.47" width="2.18" height="21.59" fill="#05BB10"/>
<rect x="306.08" y="578.96" width="2.18" height="32.94" fill="#00B2F2"/>
<rect x="306.08" y="611.80" width="2.18" height="7.05" fill="#FF5FA0"/>
<rect x="308.21" y="365.55" width="2.18" height="28.07" fill="#FF6767"/>
<rect x="308.21" y="393.52" width="2.18" height="24.28" fill="#F07C00"/>
<rect x="308.21" y="417.70" width="2.18" height="21.34" fill="#A8A400"/>
<rect x="308.21" y="438.93" width="2.18" height="13.12" fill="#74B000"/>
<rect x="308.21" y="451.95" width="2.18" height="50.07" fill="#A8A400"/>
<rect x="308.21" y="501.92" width="2.18" height="30.73" fill="#74B000"/>
<rect x="308.21" y="532.55" width="2.18" height="47.71" fill="#05BB10"/>
<rect x="308.21" y="580.16" width="2.18" height="12.04" fill="#FA60DE"/>
<rect x="308.21" y="592.10" width="2.18" height="26.75" fill="#FF5FA0"/>
<rect x="310.33" y="365.55" width="2.18" height="176.50" fill="#FF6767"/>
<rect x="310.33" y="541.95" width="2.18" height="14.43" fill="#F07C00"/>
<rect x="310.33" y="556.28" width="2.18" height="19.35" fill="#A8A400"/>
<rect x="310.33" y="575.53" width="2.18" height="11.90" fill="#74B000"/>
<rect x="310.33" y="587.32" width="2.18" height="12.04" fill="#05BB10"/>
<rect x="310.33" y="599.26" width="2.18" height="10.25" fill="#00B2F2"/>
<rect x="310.33" y="609.41" width="2.18" height="9.44" fill="#FF5FA0"/>
<rect x="312.45" y="365.55" width="2.18" height="118.74" fill="#FF6767"/>
<rect x="312.45" y="484.19" width="2.18" height="29.65" fill="#F07C00"/>
<rect x="312.45" y="513.74" width="2.18" height="17.59" fill="#A8A400"/>
<rect x="312.45" y="531.23" width="2.18" height="10.82" fill="#74B000"/>
<rect x="312.45" y="541.95" width="2.18" height="29.71" fill="#A8A400"/>
<rect x="312.45" y="571.56" width="2.18" height="18.25" fill="#74B000"/>
<rect x="312.45" y="589.71" width="2.18" height="9.65" fill="#05BB10"/>
<rect x="312.45" y="599.26" width="2.18" height="12.04" fill="#00B2F2"/>
<rect x="312.45" y="611.20" width="2.18" height="7.65" fill="#FF5FA0"/>
<rect x="314.57" y="365.55" width="2.18" height="80.46" fill="#FF6767"/>
<rect x="314.57" y="445.91" width="2.18" height="50.47" fill="#F07C00"/>
<rect x="314.57" y="496.28" width="2.18" height="28.41" fill="#A8A400"/>
<rect x="314.57" y="524.60" width="2.18" height="17.45" fill="#74B000"/>
<rect x="314.57" y="541.95" width="2.18" height="7.50" fill="#A8A400"/>
<rect x="314.57" y="549.35" width="2.18" height="4.64" fill="#74B000"/>
<rect x="314.57" y="553.89" width="2.18" height="23.98" fill="#05BB10"/>
<rect x="314.57" y="577.77" width="2.18" height="21.59" fill="#00B2F2"/>
<rect x="314.57" y="599.26" width="2.18" height="13.23" fill="#CC78FF"/>
<rect x="314.57" y="612.40" width="2.18" height="6.45" fill="#FF5FA0"/>
<rect x="316.69" y="365.55" width="2.18" height="150.98" fill="#FF6767"/>
<rect x="316.69" y="516.43" width="2.18" height="47.11" fill="#F07C00"/>
<rect x="316.69" y="563.44" width="2.18" height="4.54" fill="#A8A400"/>
<rect x="316.69" y="567.88" width="2.18" height="2.82" fill="#74B000"/>
<rect x="316.69" y="570.61" width="2.18" height="13.23" fill="#05BB10"/>
<rect x="316.69" y="583.74" width="2.18" height="15.62" fill="#00C59C"/>
<rect x="316.69" y="599.26" width="2.18" height="13.23" fill="#CC78FF"/>
<rect x="316.69" y="612.40" width="2.18" height="6.45" fill="#FF5FA0"/>
<rect x="318.81" y="365.55" width="2.18" height="3.22" fill="#FF6767"/>
<rect x="318.81" y="368.67" width="2.18" height="26.97" fill="#F07C00"/>
<rect x="318.81" y="395.53" width="2.18" height="69.95" fill="#D29600"/>
<rect x="318.81" y="465.38" width="2.18" height="14.26" fill="#A8A400"/>
<rect x="318.81" y="479.54" width="2.18" height="8.78" fill="#74B000"/>
<rect x="318.81" y="488.22" width="2.18" height="22.94" fill="#05BB10"/>
<rect x="318.81" y="511.06" width="2.18" height="42.93" fill="#00C59C"/>
<rect x="318.81" y="553.89" width="2.18" height="13.23" fill="#00B2F2"/>
<rect x="318.81" y="567.02" width="2.18" height="25.17" fill="#FA60DE"/>
<rect x="318.81" y="592.10" width="2.18" height="26.75" fill="#FF5FA0"/>
<rect x="320.94" y="365.55" width="2.18" height="193.22" fill="#FF6767"/>
<rect x="320.94" y="558.67" width="2.18" height="32.34" fill="#F07C00"/>
<rect x="320.94" y="590.91" width="2.18" height="5.28" fill="#A8A400"/>
<rect x="320.94" y="596.09" width="2.18" height="3.28" fill="#74B000"/>
<rect x="320.94" y="599.26" width="2.18" height="7.26" fill="#05BB10"/>
<rect x="320.94" y="606.43" width="2.18" height="7.26" fill="#00B2F2"/>
<rect x="320.94" y="613.59" width="2.18" height="5.26" fill="#FF5FA0"/>
<rect x="323.06" y="365.55" width="2.18" height="40.83" fill="#FF6767"/>
<rect x="323.06" y="406.28" width="2.18" height="33.68" fill="#F07C00"/>
<rect x="323.06" y="439.87" width="2.18" height="7.59" fill="#A8A400"/>
<rect x="323.06" y="447.36" width="2.18" height="4.69" fill="#74B000"/>
<rect x="323.06" y="451.95" width="2.18" height="37.58" fill="#A8A400"/>
<rect x="323.06" y="489.43" width="2.18" height="23.07" fill="#74B000"/>
<rect x="323.06" y="512.40" width="2.18" height="41.59" fill="#05BB10"/>
<rect x="323.06" y="553.89" width="2.18" height="12.04" fill="#00C59C"/>
<rect x="323.06" y="565.83" width="2.18" height="26.37" fill="#00B2F2"/>
<rect x="323.06" y="592.10" width="2.18" height="7.26" fill="#FA60DE"/>
<rect x="323.06" y="599.26" width="2.18" height="19.59" fill="#FF5FA0"/>
<rect x="325.18" y="365.55" width="2.18" height="99.93" fill="#FF6767"/>
<rect x="325.18" y="465.38" width="2.18" height="37.71" fill="#F07C00"/>
<rect x="325.18" y="503.00" width="2.18" height="12.59" fill="#A8A400"/>
<rect x="325.18" y="515.49" width="2.18" height="7.76" fill="#74B000"/>
<rect x="325.18" y="523.15" width="2.18" height="36.81" fill="#05BB10"/>
<rect x="325.18" y="559.86" width="2.18" height="18.01" fill="#00C59C"/>
<rect x="325.18" y="577.77" width="2.18" height="20.40" fill="#8890FF"/>
<rect x="325.18" y="598.07" width="2.18" height="4.88" fill="#FA60DE"/>
<rect x="325.18" y="602.85" width="2.18" height="16.00" fill="#FF5FA0"/>
<rect x="327.30" y="365.55" width="2.18" height="69.04" fill="#FF6767"/>
<rect x="327.30" y="434.49" width="2.18" height="63.23" fill="#F07C00"/>
<rect x="327.30" y="497.62" width="2.18" height="20.92" fill="#A8A400"/>
<rect x="327.30" y="518.45" width="2.18" height="12.86" fill="#74B000"/>
<rect x="327.30" y="531.21" width="2.18" height="31.14" fill="#05BB10"/>
<rect x="327.30" y="562.25" width="2.18" height="18.01" fill="#00C59C"/>
<rect x="327.30" y="580.16" width="2.18" height="18.01" fill="#00B2F2"/>
<rect x="327.30" y="598.07" width="2.18" height="6.07" fill="#FA60DE"/>
<rect x="327.30" y="604.04" width="2.18" height="14.81" fill="#FF5FA0"/>
<rect x="329.42" y="365.55" width="2.18" height="90.53" fill="#FF6767"/>
<rect x="329.42" y="455.98" width="2.18" height="37.71" fill="#F07C00"/>
<rect x="329.42" y="493.59" width="2.18" height="20.92" fill="#A8A400"/>
<rect x="329.42" y="514.42" width="2.18" height="12.86" fill="#74B000"/>
<rect x="329.42" y="527.18" width="2.18" height="38.75" fill="#05BB10"/>
<rect x="329.42" y="565.83" width="2.18" height="12.04" fill="#00C59C"/>
<rect x="329.42" y="577.77" width="2.18" height="8.46" fill="#00B2F2"/>
<rect x="329.42" y="586.13" width="2.18" height="10.85" fill="#CC78FF"/>
<rect x="329.42" y="596.88" width="2.18" height="21.97" fill="#FF5FA0"/>
<rect x="331.54" y="365.55" width="2.18" height="64.34" fill="#FF6767"/>
<rect x="331.54" y="429.79" width="2.18" height="75.99" fill="#F07C00"/>
<rect x="331.54" y="505.68" width="2.18" height="14.26" fill="#A8A400"/>
<rect x="331.54" y="519.84" width="2.18" height="8.78" fill="#74B000"/>
<rect x="331.54" y="528.52" width="2.18" height="33.83" fill="#05BB10"/>
<rect x="331.54" y="562.25" width="2.18" height="10.85" fill="#00C59C"/>
<rect x="331.54" y="572.99" width="2.18" height="13.23" fill="#00B2F2"/>
<rect x="331.54" y="586.13" width="2.18" height="10.85" fill="#FA60DE"/>
<rect x="331.54" y="596.88" width="2.18" height="21.97" fill="#FF5FA0"/>
<rect x="333.66" y="365.55" width="2.18" height="90.53" fill="#FF6767"/>
<rect x="333.66" y="455.98" width="2.18" height="49.80" fill="#F07C00"/>
<rect x="333.66" y="505.68" width="2.18" height="16.76" fill="#A8A400"/>
<rect x="333.66" y="522.34" width="2.18" height="10.31" fill="#74B000"/>
<rect x="333.66" y="532.55" width="2.18" height="27.41" fill="#05BB10"/>
<rect x="333.66" y="559.86" width="2.18" height="12.04" fill="#00C59C"/>
<rect x="333.66" y="571.80" width="2.18" height="7.26" fill="#00B2F2"/>
<rect x="333.66" y="578.96" width="2.18" height="10.85" fill="#8890FF"/>
<rect x="333.66" y="589.71" width="2.18" height="4.88" fill="#FA60DE"/>
<rect x="333.66" y="594.49" width="2.18" height="24.36" fill="#FF5FA0"/>
<rect x="335.79" y="365.55" width="2.18" height="94.56" fill="#FF6767"/>
<rect x="335.79" y="460.01" width="2.18" height="48.46" fill="#F07C00"/>
<rect x="335.79" y="508.37" width="2.18" height="18.42" fill="#A8A400"/>
<rect x="335.79" y="526.69" width="2.18" height="11.33" fill="#74B000"/>
<rect x="335.79" y="537.93" width="2.18" height="43.53" fill="#05BB10"/>
<rect x="335.79" y="581.35" width="2.18" height="12.04" fill="#00B2F2"/>
<rect x="335.79" y="593.29" width="2.18" height="12.04" fill="#CC78FF"/>
<rect x="335.79" y="605.23" width="2.18" height="13.62" fill="#FF5FA0"/>
<rect x="337.91" y="365.55" width="2.18" height="62.32" fill="#FF6767"/>
<rect x="337.91" y="427.77" width="2.18" height="57.86" fill="#F07C00"/>
<rect x="337.91" y="485.53" width="2.18" height="29.25" fill="#A8A400"/>
<rect x="337.91" y="514.69" width="2.18" height="17.97" fill="#74B000"/>
<rect x="337.91" y="532.55" width="2.18" height="9.50" fill="#05BB10"/>
<rect x="337.91" y="541.95" width="2.18" height="23.98" fill="#00C59C"/>
<rect x="337.91" y="565.83" width="2.18" height="16.82" fill="#00B2F2"/>
<rect x="337.91" y="582.55" width="2.18" height="19.20" fill="#CC78FF"/>
<rect x="337.91" y="601.65" width="2.18" height="17.20" fill="#FF5FA0"/>
<rect x="340.03" y="365.55" width="2.18" height="103.96" fill="#FF6767"/>
<rect x="340.03" y="469.41" width="2.18" height="63.24" fill="#F07C00"/>
<rect x="340.03" y="532.55" width="2.18" height="21.47" fill="#A8A400"/>
<rect x="340.03" y="553.92" width="2.18" height="13.20" fill="#74B000"/>
<rect x="340.03" y="567.02" width="2.18" height="12.69" fill="#A8A400"/>
<rect x="340.03" y="579.61" width="2.18" height="7.81" fill="#74B000"/>
<rect x="340.03" y="587.32" width="2.18" height="7.26" fill="#05BB10"/>
<rect x="340.03" y="594.49" width="2.18" height="7.26" fill="#00B2F2"/>
<rect x="340.03" y="601.65" width="2.18" height="17.20" fill="#FF5FA0"/>
<rect x="342.15" y="365.55" width="2.18" height="113.37" fill="#FF6767"/>
<rect x="342.15" y="478.82" width="2.18" height="49.80" fill="#F07C00"/>
<rect x="342.15" y="528.52" width="2.18" height="2.60" fill="#A8A400"/>
<rect x="342.15" y="531.02" width="2.18" height="1.63" fill="#74B000"/>
<rect x="342.15" y="532.55" width="2.18" height="38.15" fill="#05BB10"/>
<rect x="342.15" y="570.61" width="2.18" height="19.20" fill="#00C59C"/>
<rect x="342.15" y="589.71" width="2.18" height="4.88" fill="#00B2F2"/>
<rect x="342.15" y="594.49" width="2.18" height="14.43" fill="#CC78FF"/>
<rect x="342.15" y="608.82" width="2.18" height="10.03" fill="#FF5FA0"/>
<rect x="344.27" y="365.55" width="2.18" height="53.59" fill="#FF6767"/>
<rect x="344.27" y="419.04" width="2.18" height="21.59" fill="#F07C00"/>
<rect x="344.27" y="440.54" width="2.18" height="7.18" fill="#A8A400"/>
<rect x="344.27" y="447.61" width="2.18" height="4.44" fill="#74B000"/>
<rect x="344.27" y="451.95" width="2.18" height="45.08" fill="#A8A400"/>
<rect x="344.27" y="496.93" width="2.18" height="27.67" fill="#74B000"/>
<rect x="344.27" y="524.49" width="2.18" height="8.16" fill="#05BB10"/>
<rect x="344.27" y="532.55" width="2.18" height="33.38" fill="#00C59C"/>
<rect x="344.27" y="565.83" width="2.18" height="13.23" fill="#00B2F2"/>
<rect x="344.27" y="578.96" width="2.18" height="10.85" fill="#8890FF"/>
<rect x="344.27" y="589.71" width="2.18" height="3.68" fill="#FA60DE"/>
<rect x="344.27" y="593.29" width="2.18" height="25.56" fill="#FF5FA0"/>
<rect x="346.39" y="365.55" width="2.18" height="1.20" fill="#FF6767"/>
<rect x="346.39" y="366.65" width="2.18" height="140.48" fill="#F07C00"/>
<rect x="346.39" y="507.03" width="2.18" height="7.60" fill="#A8A400"/>
<rect x="346.39" y="514.52" width="2.18" height="4.69" fill="#74B000"/>
<rect x="346.39" y="519.12" width="2.18" height="8.16" fill="#05BB10"/>
<rect x="346.39" y="527.18" width="2.18" height="26.81" fill="#00C59C"/>
<rect x="346.39" y="553.89" width="2.18" height="27.56" fill="#00B2F2"/>
<rect x="346.39" y="581.35" width="2.18" height="8.46" fill="#CC78FF"/>
<rect x="346.39" y="589.71" width="2.18" height="29.14" fill="#FF5FA0"/>
<rect x="348.51" y="365.55" width="2.18" height="34.11" fill="#FF6767"/>
<rect x="348.51" y="399.56" width="2.18" height="35.03" fill="#F07C00"/>
<rect x="348.51" y="434.49" width="2.18" height="25.62" fill="#05BB10"/>
<rect x="348.51" y="460.01" width="2.18" height="45.77" fill="#00C59C"/>
<rect x="348.51" y="505.68" width="2.18" height="53.08" fill="#00B2F2"/>
<rect x="348.51" y="558.67" width="2.18" height="22.79" fill="#CC78FF"/>
<rect x="348.51" y="581.35" width="2.18" height="22.79" fill="#FA60DE"/>
<rect x="348.51" y="604.04" width="2.18" height="14.81" fill="#FF5FA0"/>
<rect x="350.64" y="365.55" width="2.18" height="10.61" fill="#FF6767"/>
<rect x="350.64" y="376.06" width="2.18" height="121.67" fill="#F07C00"/>
<rect x="350.64" y="497.62" width="2.18" height="8.43" fill="#A8A400"/>
<rect x="350.64" y="505.95" width="2.18" height="5.20" fill="#74B000"/>
<rect x="350.64" y="511.06" width="2.18" height="14.88" fill="#05BB10"/>
<rect x="350.64" y="525.84" width="2.18" height="73.53" fill="#00B2F2"/>
<rect x="350.64" y="599.26" width="2.18" height="6.07" fill="#CC78FF"/>
<rect x="350.64" y="605.23" width="2.18" height="13.62" fill="#FF5FA0"/>
<rect x="352.76" y="365.55" width="2.18" height="11.28" fill="#FF6767"/>
<rect x="352.76" y="376.73" width="2.18" height="61.22" fill="#A8A400"/>
<rect x="352.76" y="437.85" width="2.18" height="24.95" fill="#05BB10"/>
<rect x="352.76" y="462.70" width="2.18" height="16.22" fill="#00C59C"/>
<rect x="352.76" y="478.82" width="2.18" height="63.23" fill="#00B2F2"/>
<rect x="352.76" y="541.95" width="2.18" height="15.62" fill="#8890FF"/>
<rect x="352.76" y="557.47" width="2.18" height="41.89" fill="#FA60DE"/>
<rect x="352.76" y="599.26" width="2.18" height="19.59" fill="#FF5FA0"/>
<rect x="354.88" y="365.55" width="2.18" height="113.37" fill="#FF6767"/>
<rect x="354.88" y="478.82" width="2.18" height="53.83" fill="#F07C00"/>
<rect x="354.88" y="532.55" width="2.18" height="28.14" fill="#A8A400"/>
<rect x="354.88" y="560.59" width="2.18" height="17.28" fill="#74B000"/>
<rect x="354.88" y="577.77" width="2.18" height="8.98" fill="#A8A400"/>
<rect x="354.88" y="586.65" width="2.18" height="5.54" fill="#74B000"/>
<rect x="354.88" y="592.10" width="2.18" height="6.07" fill="#05BB10"/>
<rect x="354.88" y="598.07" width="2.18" height="12.04" fill="#00B2F2"/>
<rect x="354.88" y="610.01" width="2.18" height="8.84" fill="#FF5FA0"/>
<rect x="357.00" y="365.55" width="2.18" height="0.53" fill="#FF6767"/>
<rect x="357.00" y="365.98" width="2.18" height="28.98" fill="#F07C00"/>
<rect x="357.00" y="394.86" width="2.18" height="84.05" fill="#D29600"/>
<rect x="357.00" y="478.82" width="2.18" height="35.08" fill="#A8A400"/>
<rect x="357.00" y="513.80" width="2.18" height="21.54" fill="#74B000"/>
<rect x="357.00" y="535.24" width="2.18" height="59.35" fill="#05BB10"/>
<rect x="357.00" y="594.49" width="2.18" height="17.41" fill="#00B2F2"/>
<rect x="357.00" y="611.80" width="2.18" height="7.05" fill="#FF5FA0"/>
<rect x="359.12" y="365.55" width="2.18" height="116.05" fill="#FF6767"/>
<rect x="359.12" y="481.50" width="2.18" height="89.20" fill="#F07C00"/>
<rect x="359.12" y="570.61" width="2.18" height="10.46" fill="#A8A400"/>
<rect x="359.12" y="580.97" width="2.18" height="6.45" fill="#74B000"/>
<rect x="359.12" y="587.32" width="2.18" height="10.85" fill="#05BB10"/>
<rect x="359.12" y="598.07" width="2.18" height="15.03" fill="#00B2F2"/>
<rect x="359.12" y="612.99" width="2.18" height="5.86" fill="#FF5FA0"/>
<rect x="361.24" y="365.55" width="2.18" height="128.14" fill="#FF6767"/>
<rect x="361.24" y="493.59" width="2.18" height="33.68" fill="#F07C00"/>
<rect x="361.24" y="527.18" width="2.18" height="5.10" fill="#A8A400"/>
<rect x="361.24" y="532.18" width="2.18" height="3.16" fill="#74B000"/>
<rect x="361.24" y="535.24" width="2.18" height="22.33" fill="#05BB10"/>
<rect x="361.24" y="557.47" width="2.18" height="13.23" fill="#00C59C"/>
<rect x="361.24" y="570.61" width="2.18" height="23.98" fill="#8890FF"/>
<rect x="361.24" y="594.49" width="2.18" height="9.65" fill="#FA60DE"/>
<rect x="361.24" y="604.04" width="2.18" height="14.81" fill="#FF5FA0"/>
<rect x="363.37" y="365.55" width="2.18" height="64.34" fill="#FF6767"/>
<rect x="363.37" y="429.79" width="2.18" height="52.49" fill="#F07C00"/>
<rect x="363.37" y="482.18" width="2.18" height="39.73" fill="#05BB10"/>
<rect x="363.37" y="521.80" width="2.18" height="34.57" fill="#00C59C"/>
<rect x="363.37" y="556.28" width="2.18" height="19.20" fill="#00B2F2"/>
<rect x="363.37" y="575.38" width="2.18" height="16.82" fill="#8890FF"/>
<rect x="363.37" y="592.10" width="2.18" height="16.82" fill="#FA60DE"/>
<rect x="363.37" y="608.82" width="2.18" height="10.03" fill="#FF5FA0"/>
<rect x="365.49" y="365.55" width="2.18" height="176.50" fill="#FF6767"/>
<rect x="365.49" y="541.95" width="2.18" height="41.89" fill="#A8A400"/>
<rect x="365.49" y="583.74" width="2.18" height="9.65" fill="#05BB10"/>
<rect x="365.49" y="593.29" width="2.18" height="19.20" fill="#00B2F2"/>
<rect x="365.49" y="612.40" width="2.18" height="6.45" fill="#FF5FA0"/>
<rect x="367.61" y="365.55" width="2.18" height="12.62" fill="#FF6767"/>
<rect x="367.61" y="378.07" width="2.18" height="146.52" fill="#F07C00"/>
<rect x="367.61" y="524.49" width="2.18" height="4.26" fill="#A8A400"/>
<rect x="367.61" y="528.66" width="2.18" height="2.65" fill="#74B000"/>
<rect x="367.61" y="531.21" width="2.18" height="22.78" fill="#05BB10"/>
<rect x="367.61" y="553.89" width="2.18" height="27.56" fill="#00C59C"/>
<rect x="367.61" y="581.35" width="2.18" height="13.23" fill="#00B2F2"/>
<rect x="367.61" y="594.49" width="2.18" height="9.65" fill="#CC78FF"/>
<rect x="367.61" y="604.04" width="2.18" height="14.81" fill="#FF5FA0"/>
<rect x="369.73" y="365.55" width="2.18" height="0.53" fill="#FF6767"/>
<rect x="369.73" y="365.98" width="2.18" height="110.25" fill="#F07C00"/>
<rect x="369.73" y="476.13" width="2.18" height="24.25" fill="#A8A400"/>
<rect x="369.73" y="500.28" width="2.18" height="14.90" fill="#74B000"/>
<rect x="369.73" y="515.09" width="2.18" height="14.88" fill="#05BB10"/>
<rect x="369.73" y="529.87" width="2.18" height="45.62" fill="#00C59C"/>
<rect x="369.73" y="575.38" width="2.18" height="14.43" fill="#00B2F2"/>
<rect x="369.73" y="589.71" width="2.18" height="9.65" fill="#8890FF"/>
<rect x="369.73" y="599.26" width="2.18" height="19.59" fill="#FF5FA0"/>
<rect x="371.85" y="365.55" width="2.18" height="102.62" fill="#FF6767"/>
<rect x="371.85" y="468.07" width="2.18" height="64.58" fill="#F07C00"/>
<rect x="371.85" y="532.55" width="2.18" height="35.54" fill="#A8A400"/>
<rect x="371.85" y="567.99" width="2.18" height="21.82" fill="#74B000"/>
<rect x="371.85" y="589.71" width="2.18" height="12.04" fill="#05BB10"/>
<rect x="371.85" y="601.65" width="2.18" height="9.06" fill="#00B2F2"/>
<rect x="371.85" y="610.61" width="2.18" height="8.24" fill="#FF5FA0"/>
<rect x="373.97" y="365.55" width="2.18" height="102.62" fill="#FF6767"/>
<rect x="373.97" y="468.07" width="2.18" height="43.09" fill="#F07C00"/>
<rect x="373.97" y="511.06" width="2.18" height="19.25" fill="#A8A400"/>
<rect x="373.97" y="530.21" width="2.18" height="11.84" fill="#74B000"/>
<rect x="373.97" y="541.95" width="2.18" height="3.06" fill="#A8A400"/>
<rect x="373.97" y="544.91" width="2.18" height="1.91" fill="#74B000"/>
<rect x="373.97" y="546.73" width="2.18" height="19.20" fill="#05BB10"/>
<rect x="373.97" y="565.83" width="2.18" height="23.98" fill="#00B2F2"/>
<rect x="373.97" y="589.71" width="2.18" height="12.04" fill="#8890FF"/>
<rect x="373.97" y="601.65" width="2.18" height="17.20" fill="#FF5FA0"/>
<rect x="376.09" y="365.55" width="2.18" height="43.52" fill="#FF6767"/>
<rect x="376.09" y="408.97" width="2.18" height="76.67" fill="#F07C00"/>
<rect x="376.09" y="485.53" width="2.18" height="5.10" fill="#A8A400"/>
<rect x="376.09" y="490.53" width="2.18" height="3.16" fill="#74B000"/>
<rect x="376.09" y="493.59" width="2.18" height="18.91" fill="#05BB10"/>
<rect x="376.09" y="512.40" width="2.18" height="48.75" fill="#00C59C"/>
<rect x="376.09" y="561.05" width="2.18" height="8.46" fill="#8890FF"/>
<rect x="376.09" y="569.41" width="2.18" height="4.88" fill="#FA60DE"/>
<rect x="376.09" y="574.19" width="2.18" height="44.66" fill="#FF5FA0"/>
<rect x="378.22" y="365.55" width="2.18" height="75.76" fill="#FF6767"/>
<rect x="378.22" y="441.21" width="2.18" height="69.95" fill="#F07C00"/>
<rect x="378.22" y="511.06" width="2.18" height="9.26" fill="#A8A400"/>
<rect x="378.22" y="520.22" width="2.18" height="5.72" fill="#74B000"/>
<rect x="378.22" y="525.84" width="2.18" height="40.10" fill="#05BB10"/>
<rect x="378.22" y="565.83" width="2.18" height="21.59" fill="#00B2F2"/>
<rect x="378.22" y="587.32" width="2.18" height="16.82" fill="#8890FF"/>
<rect x="378.22" y="604.04" width="2.18" height="3.68" fill="#FA60DE"/>
<rect x="378.22" y="607.62" width="2.18" height="11.23" fill="#FF5FA0"/>
<rect x="380.34" y="365.55" width="2.18" height="4.56" fill="#FF6767"/>
<rect x="380.34" y="370.01" width="2.18" height="108.91" fill="#F07C00"/>
<rect x="380.34" y="478.82" width="2.18" height="5.10" fill="#A8A400"/>
<rect x="380.34" y="483.81" width="2.18" height="3.16" fill="#74B000"/>
<rect x="380.34" y="486.88" width="2.18" height="55.17" fill="#05BB10"/>
<rect x="380.34" y="541.95" width="2.18" height="31.14" fill="#00C59C"/>
<rect x="380.34" y="572.99" width="2.18" height="13.23" fill="#00B2F2"/>
<rect x="380.34" y="586.13" width="2.18" height="12.04" fill="#8890FF"/>
<rect x="380.34" y="598.07" width="2.18" height="6.07" fill="#FA60DE"/>
<rect x="380.34" y="604.04" width="2.18" height="14.81" fill="#FF5FA0"/>
<rect x="382.46" y="365.55" width="2.18" height="110.68" fill="#FF6767"/>
<rect x="382.46" y="476.13" width="2.18" height="52.49" fill="#F07C00"/>
<rect x="382.46" y="528.52" width="2.18" height="8.43" fill="#A8A400"/>
<rect x="382.46" y="536.85" width="2.18" height="5.20" fill="#74B000"/>
<rect x="382.46" y="541.95" width="2.18" height="23.98" fill="#05BB10"/>
<rect x="382.46" y="565.83" width="2.18" height="23.98" fill="#00C59C"/>
<rect x="382.46" y="589.71" width="2.18" height="10.85" fill="#00B2F2"/>
<rect x="382.46" y="600.46" width="2.18" height="8.46" fill="#CC78FF"/>
<rect x="382.46" y="608.82" width="2.18" height="10.03" fill="#FF5FA0"/>
<rect x="384.58" y="365.55" width="2.18" height="194.41" fill="#FF6767"/>
<rect x="384.58" y="559.86" width="2.18" height="21.59" fill="#F07C00"/>
<rect x="384.58" y="581.35" width="2.18" height="13.23" fill="#05BB10"/>
<rect x="384.58" y="594.49" width="2.18" height="8.46" fill="#00B2F2"/>
<rect x="384.58" y="602.85" width="2.18" height="8.46" fill="#CC78FF"/>
<rect x="384.58" y="611.20" width="2.18" height="7.65" fill="#FF5FA0"/>
<rect x="386.70" y="365.55" width="2.18" height="0.53" fill="#FF6767"/>
<rect x="386.70" y="365.98" width="2.18" height="4.13" fill="#F07C00"/>
<rect x="386.70" y="370.01" width="2.18" height="8.16" fill="#D29600"/>
<rect x="386.70" y="378.07" width="2.18" height="19.67" fill="#A8A400"/>
<rect x="386.70" y="397.64" width="2.18" height="12.10" fill="#74B000"/>
<rect x="386.70" y="409.64" width="2.18" height="106.89" fill="#00C2CC"/>
<rect x="386.70" y="516.43" width="2.18" height="14.88" fill="#00B2F2"/>
<rect x="386.70" y="531.21" width="2.18" height="4.13" fill="#CC78FF"/>
<rect x="386.70" y="535.24" width="2.18" height="18.75" fill="#FA60DE"/>
<rect x="386.70" y="553.89" width="2.18" height="64.96" fill="#FF5FA0"/>
<rect x="388.82" y="365.55" width="2.18" height="212.32" fill="#FF6767"/>
<rect x="388.82" y="577.77" width="2.18" height="12.04" fill="#F07C00"/>
<rect x="388.82" y="589.71" width="2.18" height="9.65" fill="#05BB10"/>
<rect x="388.82" y="599.26" width="2.18" height="13.23" fill="#00B2F2"/>
<rect x="388.82" y="612.40" width="2.18" height="6.45" fill="#FF5FA0"/>
<rect x="390.94" y="365.55" width="2.18" height="164.42" fill="#FF6767"/>
<rect x="390.94" y="529.87" width="2.18" height="74.27" fill="#8890FF"/>
<rect x="390.94" y="604.04" width="2.18" height="10.85" fill="#CC78FF"/>
<rect x="390.94" y="614.79" width="2.18" height="4.06" fill="#FF5FA0"/>
<rect x="393.07" y="365.55" width="2.18" height="25.38" fill="#FF6767"/>
<rect x="393.07" y="390.83" width="2.18" height="44.43" fill="#F07C00"/>
<rect x="393.07" y="435.16" width="2.18" height="10.51" fill="#A8A400"/>
<rect x="393.07" y="445.57" width="2.18" height="6.48" fill="#74B000"/>
<rect x="393.07" y="451.95" width="2.18" height="9.26" fill="#A8A400"/>
<rect x="393.07" y="461.11" width="2.18" height="5.72" fill="#74B000"/>
<rect x="393.07" y="466.73" width="2.18" height="16.22" fill="#05BB10"/>
<rect x="393.07" y="482.85" width="2.18" height="41.74" fill="#00C59C"/>
<rect x="393.07" y="524.49" width="2.18" height="6.82" fill="#00B2F2"/>
<rect x="393.07" y="531.21" width="2.18" height="22.78" fill="#8890FF"/>
<rect x="393.07" y="553.89" width="2.18" height="10.85" fill="#FA60DE"/>
<rect x="393.07" y="564.64" width="2.18" height="54.21" fill="#FF5FA0"/>
<rect x="395.19" y="365.55" width="2.18" height="66.35" fill="#FF6767"/>
<rect x="395.19" y="431.80" width="2.18" height="73.98" fill="#F07C00"/>
<rect x="395.19" y="505.68" width="2.18" height="4.26" fill="#A8A400"/>
<rect x="395.19" y="509.85" width="2.18" height="2.65" fill="#74B000"/>
<rect x="395.19" y="512.40" width="2.18" height="13.53" fill="#05BB10"/>
<rect x="395.19" y="525.84" width="2.18" height="63.98" fill="#00C59C"/>
<rect x="395.19" y="589.71" width="2.18" height="7.26" fill="#00B2F2"/>
<rect x="395.19" y="596.88" width="2.18" height="4.88" fill="#FA60DE"/>
<rect x="395.19" y="601.65" width="2.18" height="17.20" fill="#FF5FA0"/>
<rect x="397.31" y="365.55" width="2.18" height="35.46" fill="#FF6767"/>
<rect x="397.31" y="400.91" width="2.18" height="40.40" fill="#F07C00"/>
<rect x="397.31" y="441.21" width="2.18" height="6.76" fill="#A8A400"/>
<rect x="397.31" y="447.87" width="2.18" height="4.18" fill="#74B000"/>
<rect x="397.31" y="451.95" width="2.18" height="19.26" fill="#A8A400"/>
<rect x="397.31" y="471.11" width="2.18" height="11.84" fill="#74B000"/>
<rect x="397.31" y="482.85" width="2.18" height="13.53" fill="#05BB10"/>
<rect x="397.31" y="496.28" width="2.18" height="25.62" fill="#00C59C"/>
<rect x="397.31" y="521.80" width="2.18" height="32.19" fill="#00B2F2"/>
<rect x="397.31" y="553.89" width="2.18" height="7.26" fill="#CC78FF"/>
<rect x="397.31" y="561.05" width="2.18" height="6.67" fill="#FA60DE"/>
<rect x="397.31" y="567.62" width="2.18" height="51.23" fill="#FF5FA0"/>
<rect x="399.43" y="365.55" width="2.18" height="36.80" fill="#FF6767"/>
<rect x="399.43" y="402.25" width="2.18" height="63.23" fill="#F07C00"/>
<rect x="399.43" y="465.38" width="2.18" height="17.56" fill="#D29600"/>
<rect x="399.43" y="482.85" width="2.18" height="25.62" fill="#05BB10"/>
<rect x="399.43" y="508.37" width="2.18" height="40.84" fill="#00C59C"/>
<rect x="399.43" y="549.11" width="2.18" height="8.46" fill="#00B2F2"/>
<rect x="399.43" y="557.47" width="2.18" height="25.17" fill="#FA60DE"/>
<rect x="399.43" y="582.55" width="2.18" height="36.30" fill="#FF5FA0"/>
<rect x="401.55" y="365.55" width="2.18" height="29.41" fill="#FF6767"/>
<rect x="401.55" y="394.86" width="2.18" height="26.97" fill="#F07C00"/>
<rect x="401.55" y="421.73" width="2.18" height="81.37" fill="#D29600"/>
<rect x="401.55" y="503.00" width="2.18" height="4.26" fill="#A8A400"/>
<rect x="401.55" y="507.16" width="2.18" height="2.65" fill="#74B000"/>
<rect x="401.55" y="509.71" width="2.18" height="14.88" fill="#05BB10"/>
<rect x="401.55" y="524.49" width="2.18" height="52.19" fill="#00C59C"/>
<rect x="401.55" y="576.58" width="2.18" height="7.26" fill="#00B2F2"/>
<rect x="401.55" y="583.74" width="2.18" height="10.85" fill="#CC78FF"/>
<rect x="401.55" y="594.49" width="2.18" height="4.88" fill="#FA60DE"/>
<rect x="401.55" y="599.26" width="2.18" height="19.59" fill="#FF5FA0"/>
<rect x="403.67" y="365.55" width="2.18" height="0.53" fill="#FF6767"/>
<rect x="403.67" y="365.98" width="2.18" height="53.83" fill="#F07C00"/>
<rect x="403.67" y="419.71" width="2.18" height="72.64" fill="#D29600"/>
<rect x="403.67" y="492.25" width="2.18" height="10.09" fill="#A8A400"/>
<rect x="403.67" y="502.25" width="2.18" height="6.23" fill="#74B000"/>
<rect x="403.67" y="508.37" width="2.18" height="17.56" fill="#05BB10"/>
<rect x="403.67" y="525.84" width="2.18" height="31.74" fill="#00C59C"/>
<rect x="403.67" y="557.47" width="2.18" height="19.20" fill="#00B2F2"/>
<rect x="403.67" y="576.58" width="2.18" height="10.85" fill="#CC78FF"/>
<rect x="403.67" y="587.32" width="2.18" height="31.53" fill="#FF5FA0"/>
<rect x="405.79" y="365.55" width="2.18" height="130.83" fill="#FF6767"/>
<rect x="405.79" y="496.28" width="2.18" height="33.68" fill="#F07C00"/>
<rect x="405.79" y="529.87" width="2.18" height="23.88" fill="#A8A400"/>
<rect x="405.79" y="553.64" width="2.18" height="14.67" fill="#74B000"/>
<rect x="405.79" y="568.22" width="2.18" height="8.98" fill="#A8A400"/>
<rect x="405.79" y="577.10" width="2.18" height="5.54" fill="#74B000"/>
<rect x="405.79" y="582.55" width="2.18" height="10.85" fill="#05BB10"/>
<rect x="405.79" y="593.29" width="2.18" height="18.01" fill="#00B2F2"/>
<rect x="405.79" y="611.20" width="2.18" height="7.65" fill="#FF5FA0"/>
<rect x="407.92" y="365.55" width="2.18" height="0.53" fill="#FF6767"/>
<rect x="407.92" y="365.98" width="2.18" height="107.56" fill="#F07C00"/>
<rect x="407.92" y="473.44" width="2.18" height="9.26" fill="#A8A400"/>
<rect x="407.92" y="482.61" width="2.18" height="5.72" fill="#74B000"/>
<rect x="407.92" y="488.22" width="2.18" height="13.53" fill="#05BB10"/>
<rect x="407.92" y="501.65" width="2.18" height="64.28" fill="#00C59C"/>
<rect x="407.92" y="565.83" width="2.18" height="23.98" fill="#00B2F2"/>
<rect x="407.92" y="589.71" width="2.18" height="19.20" fill="#CC78FF"/>
<rect x="407.92" y="608.82" width="2.18" height="10.03" fill="#FF5FA0"/>
<rect x="410.04" y="365.55" width="2.18" height="113.37" fill="#FF6767"/>
<rect x="410.04" y="478.82" width="2.18" height="63.23" fill="#F07C00"/>
<rect x="410.04" y="541.95" width="2.18" height="11.94" fill="#A8A400"/>
<rect x="410.04" y="553.79" width="2.18" height="7.36" fill="#74B000"/>
<rect x="410.04" y="561.05" width="2.18" height="10.85" fill="#05BB10"/>
<rect x="410.04" y="571.80" width="2.18" height="10.85" fill="#00B2F2"/>
<rect x="410.04" y="582.55" width="2.18" height="7.26" fill="#FA60DE"/>
<rect x="410.04" y="589.71" width="2.18" height="29.14" fill="#FF5FA0"/>
<rect x="412.16" y="365.55" width="2.18" height="4.56" fill="#FF6767"/>
<rect x="412.16" y="370.01" width="2.18" height="82.04" fill="#F07C00"/>
<rect x="412.16" y="451.95" width="2.18" height="2.60" fill="#A8A400"/>
<rect x="412.16" y="454.45" width="2.18" height="1.63" fill="#74B000"/>
<rect x="412.16" y="455.98" width="2.18" height="8.83" fill="#05BB10"/>
<rect x="412.16" y="464.71" width="2.18" height="77.34" fill="#00C2CC"/>
<rect x="412.16" y="541.95" width="2.18" height="27.56" fill="#00B2F2"/>
<rect x="412.16" y="569.41" width="2.18" height="6.07" fill="#FA60DE"/>
<rect x="412.16" y="575.38" width="2.18" height="43.47" fill="#FF5FA0"/>
<rect x="414.28" y="365.55" width="2.18" height="3.22" fill="#FF6767"/>
<rect x="414.28" y="368.67" width="2.18" height="51.15" fill="#F07C00"/>
<rect x="414.28" y="419.71" width="2.18" height="9.26" fill="#A8A400"/>
<rect x="414.28" y="428.88" width="2.18" height="5.72" fill="#74B000"/>
<rect x="414.28" y="434.49" width="2.18" height="22.93" fill="#05BB10"/>
<rect x="414.28" y="457.32" width="2.18" height="84.73" fill="#00C2CC"/>
<rect x="414.28" y="541.95" width="2.18" height="14.43" fill="#00B2F2"/>
<rect x="414.28" y="556.28" width="2.18" height="9.65" fill="#8890FF"/>
<rect x="414.28" y="565.83" width="2.18" height="6.07" fill="#FA60DE"/>
<rect x="414.28" y="571.80" width="2.18" height="47.05" fill="#FF5FA0"/>
<rect x="416.40" y="365.55" width="2.18" height="0.53" fill="#FF6767"/>
<rect x="416.40" y="365.98" width="2.18" height="122.34" fill="#F07C00"/>
<rect x="416.40" y="488.22" width="2.18" height="20.25" fill="#05BB10"/>
<rect x="416.40" y="508.37" width="2.18" height="45.62" fill="#00C59C"/>
<rect x="416.40" y="553.89" width="2.18" height="35.92" fill="#00B2F2"/>
<rect x="416.40" y="589.71" width="2.18" height="21.00" fill="#CC78FF"/>
<rect x="416.40" y="610.61" width="2.18" height="8.24" fill="#FF5FA0"/>
<rect x="418.52" y="365.55" width="2.18" height="0.53" fill="#FF6767"/>
<rect x="418.52" y="365.98" width="2.18" height="63.24" fill="#F07C00"/>
<rect x="418.52" y="429.12" width="2.18" height="40.40" fill="#D29600"/>
<rect x="418.52" y="469.41" width="2.18" height="3.43" fill="#A8A400"/>
<rect x="418.52" y="472.75" width="2.18" height="2.14" fill="#74B000"/>
<rect x="418.52" y="474.79" width="2.18" height="33.68" fill="#05BB10"/>
<rect x="418.52" y="508.37" width="2.18" height="33.68" fill="#00C59C"/>
<rect x="418.52" y="541.95" width="2.18" height="20.40" fill="#00B2F2"/>
<rect x="418.52" y="562.25" width="2.18" height="18.01" fill="#8890FF"/>
<rect x="418.52" y="580.16" width="2.18" height="38.69" fill="#FF5FA0"/>
<rect x="420.65" y="365.55" width="2.18" height="5.90" fill="#FF6767"/>
<rect x="420.65" y="371.35" width="2.18" height="9.50" fill="#F07C00"/>
<rect x="420.65" y="380.76" width="2.18" height="24.28" fill="#D29600"/>
<rect x="420.65" y="404.94" width="2.18" height="29.25" fill="#A8A400"/>
<rect x="420.65" y="434.09" width="2.18" height="17.96" fill="#74B000"/>
<rect x="420.65" y="451.95" width="2.18" height="29.25" fill="#A8A400"/>
<rect x="420.65" y="481.10" width="2.18" height="17.97" fill="#74B000"/>
<rect x="420.65" y="498.97" width="2.18" height="14.88" fill="#05BB10"/>
<rect x="420.65" y="513.74" width="2.18" height="28.31" fill="#00C59C"/>
<rect x="420.65" y="541.95" width="2.18" height="22.79" fill="#00B2F2"/>
<rect x="420.65" y="564.64" width="2.18" height="15.62" fill="#8890FF"/>
<rect x="420.65" y="580.16" width="2.18" height="38.69" fill="#FF5FA0"/>
<rect x="422.77" y="365.55" width="2.18" height="13.96" fill="#FF6767"/>
<rect x="422.77" y="379.41" width="2.18" height="51.15" fill="#F07C00"/>
<rect x="422.77" y="430.46" width="2.18" height="21.59" fill="#D29600"/>
<rect x="422.77" y="451.95" width="2.18" height="14.26" fill="#A8A400"/>
<rect x="422.77" y="466.11" width="2.18" height="8.78" fill="#74B000"/>
<rect x="422.77" y="474.79" width="2.18" height="36.37" fill="#05BB10"/>
<rect x="422.77" y="511.06" width="2.18" height="39.35" fill="#00C59C"/>
<rect x="422.77" y="550.31" width="2.18" height="19.20" fill="#8890FF"/>
<rect x="422.77" y="569.41" width="2.18" height="18.01" fill="#FA60DE"/>
<rect x="422.77" y="587.32" width="2.18" height="31.53" fill="#FF5FA0"/>
<rect x="424.89" y="365.55" width="2.18" height="128.14" fill="#FF6767"/>
<rect x="424.89" y="493.59" width="2.18" height="16.22" fill="#F07C00"/>
<rect x="424.89" y="509.71" width="2.18" height="43.08" fill="#A8A400"/>
<rect x="424.89" y="552.70" width="2.18" height="9.65" fill="#05BB10"/>
<rect x="424.89" y="562.25" width="2.18" height="25.17" fill="#00B2F2"/>
<rect x="424.89" y="587.32" width="2.18" height="3.68" fill="#FA60DE"/>
<rect x="424.89" y="590.91" width="2.18" height="27.94" fill="#FF5FA0"/>
<rect x="427.01" y="365.55" width="2.18" height="117.40" fill="#FF6767"/>
<rect x="427.01" y="482.85" width="2.18" height="25.62" fill="#F07C00"/>
<rect x="427.01" y="508.37" width="2.18" height="67.11" fill="#A8A400"/>
<rect x="427.01" y="575.38" width="2.18" height="6.07" fill="#05BB10"/>
<rect x="427.01" y="581.35" width="2.18" height="10.85" fill="#00B2F2"/>
<rect x="427.01" y="592.10" width="2.18" height="26.75" fill="#FF5FA0"/>
<rect x="429.13" y="365.55" width="2.18" height="132.17" fill="#FF6767"/>
<rect x="429.13" y="497.62" width="2.18" height="13.53" fill="#F07C00"/>
<rect x="429.13" y="511.06" width="2.18" height="60.34" fill="#A8A400"/>
<rect x="429.13" y="571.30" width="2.18" height="4.18" fill="#74B000"/>
<rect x="429.13" y="575.38" width="2.18" height="6.07" fill="#05BB10"/>
<rect x="429.13" y="581.35" width="2.18" height="3.68" fill="#FA60DE"/>
<rect x="429.13" y="584.94" width="2.18" height="33.91" fill="#FF5FA0"/>
<rect x="431.25" y="365.55" width="2.18" height="118.74" fill="#FF6767"/>
<rect x="431.25" y="484.19" width="2.18" height="21.59" fill="#F07C00"/>
<rect x="431.25" y="505.68" width="2.18" height="77.94" fill="#A8A400"/>
<rect x="431.25" y="583.53" width="2.18" height="5.09" fill="#74B000"/>
<rect x="431.25" y="588.52" width="2.18" height="10.85" fill="#05BB10"/>
<rect x="431.25" y="599.26" width="2.18" height="10.25" fill="#00B2F2"/>
<rect x="431.25" y="609.41" width="2.18" height="9.44" fill="#FF5FA0"/>
<rect x="433.37" y="365.55" width="2.18" height="0.53" fill="#FF6767"/>
<rect x="433.37" y="365.98" width="2.18" height="43.09" fill="#F07C00"/>
<rect x="433.37" y="408.97" width="2.18" height="76.67" fill="#D29600"/>
<rect x="433.37" y="485.53" width="2.18" height="10.09" fill="#A8A400"/>
<rect x="433.37" y="495.53" width="2.18" height="6.23" fill="#74B000"/>
<rect x="433.37" y="501.65" width="2.18" height="24.28" fill="#05BB10"/>
<rect x="433.37" y="525.84" width="2.18" height="23.38" fill="#00C59C"/>
<rect x="433.37" y="549.11" width="2.18" height="6.07" fill="#00B2F2"/>
<rect x="433.37" y="555.08" width="2.18" height="10.85" fill="#FA60DE"/>
<rect x="433.37" y="565.83" width="2.18" height="53.02" fill="#FF5FA0"/>
<rect x="435.50" y="365.55" width="2.18" height="9.93" fill="#FF6767"/>
<rect x="435.50" y="375.38" width="2.18" height="157.27" fill="#F07C00"/>
<rect x="435.50" y="532.55" width="2.18" height="50.34" fill="#A8A400"/>
<rect x="435.50" y="582.80" width="2.18" height="30.90" fill="#74B000"/>
<rect x="435.50" y="613.59" width="2.18" height="4.88" fill="#05BB10"/>
<rect x="435.50" y="618.37" width="2.18" height="0.48" fill="#FF5FA0"/>
<rect x="437.62" y="365.55" width="2.18" height="110.68" fill="#FF6767"/>
<rect x="437.62" y="476.13" width="2.18" height="39.06" fill="#F07C00"/>
<rect x="437.62" y="515.09" width="2.18" height="10.93" fill="#A8A400"/>
<rect x="437.62" y="525.92" width="2.18" height="6.74" fill="#74B000"/>
<rect x="437.62" y="532.55" width="2.18" height="45.32" fill="#05BB10"/>
<rect x="437.62" y="577.77" width="2.18" height="21.59" fill="#00C59C"/>
<rect x="437.62" y="599.26" width="2.18" height="8.46" fill="#00B2F2"/>
<rect x="437.62" y="607.62" width="2.18" height="6.07" fill="#CC78FF"/>
<rect x="437.62" y="613.59" width="2.18" height="5.26" fill="#FF5FA0"/>
<rect x="439.74" y="365.55" width="2.18" height="103.96" fill="#FF6767"/>
<rect x="439.74" y="469.41" width="2.18" height="49.80" fill="#F07C00"/>
<rect x="439.74" y="519.12" width="2.18" height="14.26" fill="#A8A400"/>
<rect x="439.74" y="533.27" width="2.18" height="8.78" fill="#74B000"/>
<rect x="439.74" y="541.95" width="2.18" height="7.50" fill="#A8A400"/>
<rect x="439.74" y="549.35" width="2.18" height="4.64" fill="#74B000"/>
<rect x="439.74" y="553.89" width="2.18" height="12.04" fill="#05BB10"/>
<rect x="439.74" y="565.83" width="2.18" height="12.04" fill="#00B2F2"/>
<rect x="439.74" y="577.77" width="2.18" height="7.26" fill="#CC78FF"/>
<rect x="439.74" y="584.94" width="2.18" height="33.91" fill="#FF5FA0"/>
<rect x="441.86" y="365.55" width="2.18" height="90.53" fill="#FF6767"/>
<rect x="441.86" y="455.98" width="2.18" height="65.92" fill="#F07C00"/>
<rect x="441.86" y="521.80" width="2.18" height="12.59" fill="#A8A400"/>
<rect x="441.86" y="534.29" width="2.18" height="7.76" fill="#74B000"/>
<rect x="441.86" y="541.95" width="2.18" height="8.98" fill="#A8A400"/>
<rect x="441.86" y="550.83" width="2.18" height="5.54" fill="#74B000"/>
<rect x="441.86" y="556.28" width="2.18" height="19.20" fill="#05BB10"/>
<rect x="441.86" y="575.38" width="2.18" height="14.43" fill="#00C59C"/>
<rect x="441.86" y="589.71" width="2.18" height="6.07" fill="#00B2F2"/>
<rect x="441.86" y="595.68" width="2.18" height="4.88" fill="#CC78FF"/>
<rect x="441.86" y="600.46" width="2.18" height="18.39" fill="#FF5FA0"/>
<rect x="443.98" y="365.55" width="2.18" height="120.08" fill="#FF6767"/>
<rect x="443.98" y="485.53" width="2.18" height="41.74" fill="#F07C00"/>
<rect x="443.98" y="527.18" width="2.18" height="9.26" fill="#A8A400"/>
<rect x="443.98" y="536.34" width="2.18" height="5.71" fill="#74B000"/>
<rect x="443.98" y="541.95" width="2.18" height="4.54" fill="#A8A400"/>
<rect x="443.98" y="546.39" width="2.18" height="2.82" fill="#74B000"/>
<rect x="443.98" y="549.11" width="2.18" height="21.59" fill="#05BB10"/>
<rect x="443.98" y="570.61" width="2.18" height="16.82" fill="#00C59C"/>
<rect x="443.98" y="587.32" width="2.18" height="7.26" fill="#00B2F2"/>
<rect x="443.98" y="594.49" width="2.18" height="3.68" fill="#CC78FF"/>
<rect x="443.98" y="598.07" width="2.18" height="20.78" fill="#FF5FA0"/>
<rect x="446.10" y="365.55" width="2.18" height="89.19" fill="#FF6767"/>
<rect x="446.10" y="454.64" width="2.18" height="10.85" fill="#F07C00"/>
<rect x="446.10" y="465.38" width="2.18" height="17.59" fill="#A8A400"/>
<rect x="446.10" y="482.87" width="2.18" height="10.82" fill="#74B000"/>
<rect x="446.10" y="493.59" width="2.18" height="28.31" fill="#05BB10"/>
<rect x="446.10" y="521.80" width="2.18" height="59.65" fill="#00C59C"/>
<rect x="446.10" y="581.35" width="2.18" height="12.04" fill="#00B2F2"/>
<rect x="446.10" y="593.29" width="2.18" height="25.56" fill="#FF5FA0"/>
<rect x="448.23" y="365.55" width="2.18" height="14.64" fill="#FF6767"/>
<rect x="448.23" y="380.09" width="2.18" height="55.18" fill="#F07C00"/>
<rect x="448.23" y="435.16" width="2.18" height="10.51" fill="#A8A400"/>
<rect x="448.23" y="445.57" width="2.18" height="6.48" fill="#74B000"/>
<rect x="448.23" y="451.95" width="2.18" height="15.09" fill="#A8A400"/>
<rect x="448.23" y="466.94" width="2.18" height="9.29" fill="#74B000"/>
<rect x="448.23" y="476.13" width="2.18" height="16.22" fill="#05BB10"/>
<rect x="448.23" y="492.25" width="2.18" height="32.34" fill="#00C59C"/>
<rect x="448.23" y="524.49" width="2.18" height="29.50" fill="#00B2F2"/>
<rect x="448.23" y="553.89" width="2.18" height="15.62" fill="#8890FF"/>
<rect x="448.23" y="569.41" width="2.18" height="49.44" fill="#FF5FA0"/>
<rect x="450.35" y="365.55" width="2.18" height="145.61" fill="#FF6767"/>
<rect x="450.35" y="511.06" width="2.18" height="30.99" fill="#F07C00"/>
<rect x="450.35" y="541.95" width="2.18" height="35.92" fill="#00C59C"/>
<rect x="450.35" y="577.77" width="2.18" height="21.00" fill="#00B2F2"/>
<rect x="450.35" y="598.67" width="2.18" height="20.18" fill="#FF5FA0"/>
<rect x="452.47" y="365.55" width="2.18" height="22.70" fill="#FF6767"/>
<rect x="452.47" y="388.15" width="2.18" height="75.99" fill="#F07C00"/>
<rect x="452.47" y="464.04" width="2.18" height="7.60" fill="#A8A400"/>
<rect x="452.47" y="471.54" width="2.18" height="4.69" fill="#74B000"/>
<rect x="452.47" y="476.13" width="2.18" height="32.34" fill="#05BB10"/>
<rect x="452.47" y="508.37" width="2.18" height="18.91" fill="#00C59C"/>
<rect x="452.47" y="527.18" width="2.18" height="41.14" fill="#00B2F2"/>
<rect x="452.47" y="568.22" width="2.18" height="8.46" fill="#8890FF"/>
<rect x="452.47" y="576.58" width="2.18" height="7.26" fill="#FA60DE"/>
<rect x="452.47" y="583.74" width="2.18" height="35.11" fill="#FF5FA0"/>
<rect x="454.59" y="365.55" width="2.18" height="3.89" fill="#FF6767"/>
<rect x="454.59" y="369.34" width="2.18" height="141.82" fill="#F07C00"/>
<rect x="454.59" y="511.06" width="2.18" height="6.76" fill="#A8A400"/>
<rect x="454.59" y="517.72" width="2.18" height="4.18" fill="#74B000"/>
<rect x="454.59" y="521.80" width="2.18" height="10.85" fill="#05BB10"/>
<rect x="454.59" y="532.55" width="2.18" height="25.02" fill="#00C59C"/>
<rect x="454.59" y="557.47" width="2.18" height="10.85" fill="#00B2F2"/>
<rect x="454.59" y="568.22" width="2.18" height="8.46" fill="#8890FF"/>
<rect x="454.59" y="576.58" width="2.18" height="42.27" fill="#FF5FA0"/>
<rect x="456.71" y="365.55" width="2.18" height="17.99" fill="#FF6767"/>
<rect x="456.71" y="383.44" width="2.18" height="11.52" fill="#F07C00"/>
<rect x="456.71" y="394.86" width="2.18" height="57.19" fill="#D29600"/>
<rect x="456.71" y="451.95" width="2.18" height="2.79" fill="#74B000"/>
<rect x="456.71" y="454.64" width="2.18" height="5.47" fill="#05BB10"/>
<rect x="456.71" y="460.01" width="2.18" height="18.91" fill="#00C59C"/>
<rect x="456.71" y="478.82" width="2.18" height="56.52" fill="#00B2F2"/>
<rect x="456.71" y="535.24" width="2.18" height="21.14" fill="#CC78FF"/>
<rect x="456.71" y="556.28" width="2.18" height="62.57" fill="#FF5FA0"/>
<rect x="458.83" y="365.55" width="2.18" height="156.35" fill="#FF6767"/>
<rect x="458.83" y="521.80" width="2.18" height="13.53" fill="#F07C00"/>
<rect x="458.83" y="535.24" width="2.18" height="56.96" fill="#05BB10"/>
<rect x="458.83" y="592.10" width="2.18" height="15.03" fill="#00B2F2"/>
<rect x="458.83" y="607.02" width="2.18" height="6.67" fill="#CC78FF"/>
<rect x="458.83" y="613.59" width="2.18" height="5.26" fill="#FF5FA0"/>
<rect x="460.95" y="365.55" width="2.18" height="71.73" fill="#FF6767"/>
<rect x="460.95" y="437.18" width="2.18" height="61.89" fill="#F07C00"/>
<rect x="460.95" y="498.97" width="2.18" height="6.76" fill="#A8A400"/>
<rect x="460.95" y="505.63" width="2.18" height="4.18" fill="#74B000"/>
<rect x="460.95" y="509.71" width="2.18" height="22.94" fill="#05BB10"/>
<rect x="460.95" y="532.55" width="2.18" height="30.99" fill="#00C59C"/>
<rect x="460.95" y="563.44" width="2.18" height="8.46" fill="#00B2F2"/>
<rect x="460.95" y="571.80" width="2.18" height="18.01" fill="#CC78FF"/>
<rect x="460.95" y="589.71" width="2.18" height="29.14" fill="#FF5FA0"/>
<rect x="463.08" y="365.55" width="2.18" height="11.28" fill="#FF6767"/>
<rect x="463.08" y="376.73" width="2.18" height="68.61" fill="#F07C00"/>
<rect x="463.08" y="445.24" width="2.18" height="4.26" fill="#A8A400"/>
<rect x="463.08" y="449.40" width="2.18" height="2.65" fill="#74B000"/>
<rect x="463.08" y="451.95" width="2.18" height="30.92" fill="#A8A400"/>
<rect x="463.08" y="482.77" width="2.18" height="18.99" fill="#74B000"/>
<rect x="463.08" y="501.65" width="2.18" height="20.25" fill="#05BB10"/>
<rect x="463.08" y="521.80" width="2.18" height="44.13" fill="#00C59C"/>
<rect x="463.08" y="565.83" width="2.18" height="13.23" fill="#00B2F2"/>
<rect x="463.08" y="578.96" width="2.18" height="7.26" fill="#CC78FF"/>
<rect x="463.08" y="586.13" width="2.18" height="32.72" fill="#FF5FA0"/>
<rect x="465.20" y="365.55" width="2.18" height="122.77" fill="#FF6767"/>
<rect x="465.20" y="488.22" width="2.18" height="26.97" fill="#F07C00"/>
<rect x="465.20" y="515.09" width="2.18" height="8.43" fill="#A8A400"/>
<rect x="465.20" y="523.42" width="2.18" height="5.20" fill="#74B000"/>
<rect x="465.20" y="528.52" width="2.18" height="31.44" fill="#05BB10"/>
<rect x="465.20" y="559.86" width="2.18" height="18.01" fill="#00B2F2"/>
<rect x="465.20" y="577.77" width="2.18" height="8.46" fill="#CC78FF"/>
<rect x="465.20" y="586.13" width="2.18" height="32.72" fill="#FF5FA0"/>
<rect x="467.32" y="365.55" width="2.18" height="93.22" fill="#FF6767"/>
<rect x="467.32" y="458.67" width="2.18" height="47.12" fill="#F07C00"/>
<rect x="467.32" y="505.68" width="2.18" height="8.43" fill="#A8A400"/>
<rect x="467.32" y="514.01" width="2.18" height="5.20" fill="#74B000"/>
<rect x="467.32" y="519.12" width="2.18" height="22.93" fill="#05BB10"/>
<rect x="467.32" y="541.95" width="2.18" height="19.20" fill="#00C59C"/>
<rect x="467.32" y="561.05" width="2.18" height="7.26" fill="#00B2F2"/>
<rect x="467.32" y="568.22" width="2.18" height="9.65" fill="#FA60DE"/>
<rect x="467.32" y="577.77" width="2.18" height="41.08" fill="#FF5FA0"/>
<rect x="469.44" y="365.55" width="2.18" height="9.93" fill="#FF6767"/>
<rect x="469.44" y="375.38" width="2.18" height="37.71" fill="#F07C00"/>
<rect x="469.44" y="413.00" width="2.18" height="10.09" fill="#A8A400"/>
<rect x="469.44" y="422.99" width="2.18" height="6.23" fill="#74B000"/>
<rect x="469.44" y="429.12" width="2.18" height="10.85" fill="#05BB10"/>
<rect x="469.44" y="439.87" width="2.18" height="45.77" fill="#00C59C"/>
<rect x="469.44" y="485.53" width="2.18" height="42.42" fill="#00B2F2"/>
<rect x="469.44" y="527.85" width="2.18" height="38.08" fill="#FA60DE"/>
<rect x="469.44" y="565.83" width="2.18" height="53.02" fill="#FF5FA0"/>
<rect x="471.56" y="365.55" width="2.18" height="5.23" fill="#FF6767"/>
<rect x="471.56" y="370.68" width="2.18" height="85.40" fill="#F07C00"/>
<rect x="471.56" y="455.98" width="2.18" height="11.76" fill="#A8A400"/>
<rect x="471.56" y="467.64" width="2.18" height="7.25" fill="#74B000"/>
<rect x="471.56" y="474.79" width="2.18" height="31.00" fill="#05BB10"/>
<rect x="471.56" y="505.68" width="2.18" height="72.19" fill="#00C59C"/>
<rect x="471.56" y="577.77" width="2.18" height="28.76" fill="#00B2F2"/>
<rect x="471.56" y="606.43" width="2.18" height="3.68" fill="#CC78FF"/>
<rect x="471.56" y="610.01" width="2.18" height="8.84" fill="#FF5FA0"/>
<rect x="473.68" y="365.55" width="2.18" height="109.34" fill="#FF6767"/>
<rect x="473.68" y="474.79" width="2.18" height="24.28" fill="#F07C00"/>
<rect x="473.68" y="498.97" width="2.18" height="12.59" fill="#A8A400"/>
<rect x="473.68" y="511.46" width="2.18" height="7.76" fill="#74B000"/>
<rect x="473.68" y="519.12" width="2.18" height="46.81" fill="#05BB10"/>
<rect x="473.68" y="565.83" width="2.18" height="12.04" fill="#00B2F2"/>
<rect x="473.68" y="577.77" width="2.18" height="7.26" fill="#FA60DE"/>
<rect x="473.68" y="584.94" width="2.18" height="33.91" fill="#FF5FA0"/>
<rect x="475.80" y="365.55" width="2.18" height="71.73" fill="#FF6767"/>
<rect x="475.80" y="437.18" width="2.18" height="22.93" fill="#F07C00"/>
<rect x="475.80" y="460.01" width="2.18" height="23.42" fill="#A8A400"/>
<rect x="475.80" y="483.33" width="2.18" height="14.39" fill="#74B000"/>
<rect x="475.80" y="497.62" width="2.18" height="24.28" fill="#05BB10"/>
<rect x="475.80" y="521.80" width="2.18" height="20.25" fill="#00C59C"/>
<rect x="475.80" y="541.95" width="2.18" height="3.68" fill="#00B2F2"/>
<rect x="475.80" y="545.53" width="2.18" height="3.68" fill="#FA60DE"/>
<rect x="475.80" y="549.11" width="2.18" height="69.74" fill="#FF5FA0"/>
<rect x="477.93" y="365.55" width="2.18" height="32.77" fill="#FF6767"/>
<rect x="477.93" y="398.22" width="2.18" height="2.79" fill="#F07C00"/>
<rect x="477.93" y="400.91" width="2.18" height="76.67" fill="#D29600"/>
<rect x="477.93" y="477.47" width="2.18" height="12.59" fill="#A8A400"/>
<rect x="477.93" y="489.97" width="2.18" height="7.76" fill="#74B000"/>
<rect x="477.93" y="497.62" width="2.18" height="12.19" fill="#05BB10"/>
<rect x="477.93" y="509.71" width="2.18" height="14.88" fill="#00C59C"/>
<rect x="477.93" y="524.49" width="2.18" height="22.33" fill="#00B2F2"/>
<rect x="477.93" y="546.73" width="2.18" height="9.65" fill="#FA60DE"/>
<rect x="477.93" y="556.28" width="2.18" height="62.57" fill="#FF5FA0"/>
<rect x="480.05" y="365.55" width="2.18" height="9.26" fill="#FF6767"/>
<rect x="480.05" y="374.71" width="2.18" height="31.67" fill="#F07C00"/>
<rect x="480.05" y="406.28" width="2.18" height="13.53" fill="#D29600"/>
<rect x="480.05" y="419.71" width="2.18" height="7.60" fill="#A8A400"/>
<rect x="480.05" y="427.21" width="2.18" height="4.69" fill="#74B000"/>
<rect x="480.05" y="431.80" width="2.18" height="56.52" fill="#00C59C"/>
<rect x="480.05" y="488.22" width="2.18" height="89.65" fill="#00B2F2"/>
<rect x="480.05" y="577.77" width="2.18" height="4.88" fill="#FA60DE"/>
<rect x="480.05" y="582.55" width="2.18" height="36.30" fill="#FF5FA0"/>
<rect x="482.17" y="365.55" width="2.18" height="120.08" fill="#FF6767"/>
<rect x="482.17" y="485.53" width="2.18" height="13.53" fill="#05BB10"/>
<rect x="482.17" y="498.97" width="2.18" height="28.31" fill="#00C59C"/>
<rect x="482.17" y="527.18" width="2.18" height="76.96" fill="#00B2F2"/>
<rect x="482.17" y="604.04" width="2.18" height="4.88" fill="#FA60DE"/>
<rect x="482.17" y="608.82" width="2.18" height="10.03" fill="#FF5FA0"/>
<rect x="484.29" y="365.55" width="2.18" height="30.76" fill="#FF6767"/>
<rect x="484.29" y="396.21" width="2.18" height="49.13" fill="#F07C00"/>
<rect x="484.29" y="445.24" width="2.18" height="4.26" fill="#A8A400"/>
<rect x="484.29" y="449.40" width="2.18" height="2.65" fill="#74B000"/>
<rect x="484.29" y="451.95" width="2.18" height="25.09" fill="#A8A400"/>
<rect x="484.29" y="476.94" width="2.18" height="15.41" fill="#74B000"/>
<rect x="484.29" y="492.25" width="2.18" height="26.97" fill="#05BB10"/>
<rect x="484.29" y="519.12" width="2.18" height="22.93" fill="#00C59C"/>
<rect x="484.29" y="541.95" width="2.18" height="15.62" fill="#00B2F2"/>
<rect x="484.29" y="557.47" width="2.18" height="4.88" fill="#8890FF"/>
<rect x="484.29" y="562.25" width="2.18" height="56.60" fill="#FF5FA0"/>
<rect x="486.41" y="365.55" width="2.18" height="153.67" fill="#FF6767"/>
<rect x="486.41" y="519.12" width="2.18" height="28.90" fill="#F07C00"/>
<rect x="486.41" y="547.92" width="2.18" height="13.43" fill="#A8A400"/>
<rect x="486.41" y="561.25" width="2.18" height="8.27" fill="#74B000"/>
<rect x="486.41" y="569.41" width="2.18" height="12.04" fill="#05BB10"/>
<rect x="486.41" y="581.35" width="2.18" height="14.43" fill="#00B2F2"/>
<rect x="486.41" y="595.68" width="2.18" height="23.17" fill="#FF5FA0"/>
<rect x="488.53" y="365.55" width="2.18" height="0.53" fill="#FF6767"/>
<rect x="488.53" y="365.98" width="2.18" height="45.77" fill="#F07C00"/>
<rect x="488.53" y="411.65" width="2.18" height="25.08" fill="#A8A400"/>
<rect x="488.53" y="436.64" width="2.18" height="15.41" fill="#74B000"/>
<rect x="488.53" y="451.95" width="2.18" height="30.92" fill="#A8A400"/>
<rect x="488.53" y="482.77" width="2.18" height="18.99" fill="#74B000"/>
<rect x="488.53" y="501.65" width="2.18" height="25.62" fill="#05BB10"/>
<rect x="488.53" y="527.18" width="2.18" height="54.27" fill="#00C59C"/>
<rect x="488.53" y="581.35" width="2.18" height="27.56" fill="#00B2F2"/>
<rect x="488.53" y="608.82" width="2.18" height="4.88" fill="#CC78FF"/>
<rect x="488.53" y="613.59" width="2.18" height="5.26" fill="#FF5FA0"/>
<rect x="490.65" y="365.55" width="2.18" height="188.44" fill="#FF6767"/>
<rect x="490.65" y="553.89" width="2.18" height="12.69" fill="#A8A400"/>
<rect x="490.65" y="566.48" width="2.18" height="7.81" fill="#74B000"/>
<rect x="490.65" y="574.19" width="2.18" height="7.26" fill="#05BB10"/>
<rect x="490.65" y="581.35" width="2.18" height="22.79" fill="#00B2F2"/>
<rect x="490.65" y="604.04" width="2.18" height="4.88" fill="#CC78FF"/>
<rect x="490.65" y="608.82" width="2.18" height="10.03" fill="#FF5FA0"/>
<rect x="492.78" y="365.55" width="2.18" height="194.41" fill="#FF6767"/>
<rect x="492.78" y="559.86" width="2.18" height="12.04" fill="#F07C00"/>
<rect x="492.78" y="571.80" width="2.18" height="3.06" fill="#A8A400"/>
<rect x="492.78" y="574.76" width="2.18" height="1.91" fill="#74B000"/>
<rect x="492.78" y="576.58" width="2.18" height="4.88" fill="#05BB10"/>
<rect x="492.78" y="581.35" width="2.18" height="20.40" fill="#00B2F2"/>
<rect x="492.78" y="601.65" width="2.18" height="5.47" fill="#8890FF"/>
<rect x="492.78" y="607.02" width="2.18" height="11.83" fill="#FF5FA0"/>
<rect x="494.90" y="365.55" width="2.18" height="169.79" fill="#FF6767"/>
<rect x="494.90" y="535.24" width="2.18" height="56.96" fill="#F07C00"/>
<rect x="494.90" y="592.10" width="2.18" height="14.43" fill="#05BB10"/>
<rect x="494.90" y="606.43" width="2.18" height="12.42" fill="#FF5FA0"/>
<rect x="497.02" y="365.55" width="2.18" height="0.53" fill="#FF6767"/>
<rect x="497.02" y="365.98" width="2.18" height="43.09" fill="#F07C00"/>
<rect x="497.02" y="408.97" width="2.18" height="65.92" fill="#D29600"/>
<rect x="497.02" y="474.79" width="2.18" height="6.76" fill="#A8A400"/>
<rect x="497.02" y="481.45" width="2.18" height="4.18" fill="#74B000"/>
<rect x="497.02" y="485.53" width="2.18" height="12.19" fill="#05BB10"/>
<rect x="497.02" y="497.62" width="2.18" height="68.31" fill="#00C59C"/>
<rect x="497.02" y="565.83" width="2.18" height="23.98" fill="#00B2F2"/>
<rect x="497.02" y="589.71" width="2.18" height="6.07" fill="#CC78FF"/>
<rect x="497.02" y="595.68" width="2.18" height="23.17" fill="#FF5FA0"/>
<rect x="499.14" y="365.55" width="2.18" height="61.65" fill="#FF6767"/>
<rect x="499.14" y="427.10" width="2.18" height="47.78" fill="#F07C00"/>
<rect x="499.14" y="474.79" width="2.18" height="7.60" fill="#A8A400"/>
<rect x="499.14" y="482.28" width="2.18" height="4.69" fill="#74B000"/>
<rect x="499.14" y="486.88" width="2.18" height="12.19" fill="#05BB10"/>
<rect x="499.14" y="498.97" width="2.18" height="43.08" fill="#00C59C"/>
<rect x="499.14" y="541.95" width="2.18" height="13.23" fill="#00B2F2"/>
<rect x="499.14" y="555.08" width="2.18" height="13.23" fill="#8890FF"/>
<rect x="499.14" y="568.22" width="2.18" height="50.63" fill="#FF5FA0"/>
<rect x="501.26" y="365.55" width="2.18" height="0.53" fill="#FF6767"/>
<rect x="501.26" y="365.98" width="2.18" height="23.61" fill="#F07C00"/>
<rect x="501.26" y="389.49" width="2.18" height="14.68" fill="#A8A400"/>
<rect x="501.26" y="404.06" width="2.18" height="9.03" fill="#74B000"/>
<rect x="501.26" y="413.00" width="2.18" height="6.82" fill="#05BB10"/>
<rect x="501.26" y="419.71" width="2.18" height="6.82" fill="#00C59C"/>
<rect x="501.26" y="426.43" width="2.18" height="65.92" fill="#00C2CC"/>
<rect x="501.26" y="492.25" width="2.18" height="56.96" fill="#00B2F2"/>
<rect x="501.26" y="549.11" width="2.18" height="22.79" fill="#8890FF"/>
<rect x="501.26" y="571.80" width="2.18" height="47.05" fill="#FF5FA0"/>
<rect x="503.38" y="365.55" width="2.18" height="35.46" fill="#FF6767"/>
<rect x="503.38" y="400.91" width="2.18" height="75.32" fill="#F07C00"/>
<rect x="503.38" y="476.13" width="2.18" height="6.76" fill="#A8A400"/>
<rect x="503.38" y="482.79" width="2.18" height="4.18" fill="#74B000"/>
<rect x="503.38" y="486.88" width="2.18" height="45.77" fill="#05BB10"/>
<rect x="503.38" y="532.55" width="2.18" height="48.90" fill="#00C59C"/>
<rect x="503.38" y="581.35" width="2.18" height="14.43" fill="#00B2F2"/>
<rect x="503.38" y="595.68" width="2.18" height="8.46" fill="#CC78FF"/>
<rect x="503.38" y="604.04" width="2.18" height="14.81" fill="#FF5FA0"/>
<rect x="505.51" y="365.55" width="2.18" height="188.44" fill="#FF6767"/>
<rect x="505.51" y="553.89" width="2.18" height="27.56" fill="#F07C00"/>
<rect x="505.51" y="581.35" width="2.18" height="25.17" fill="#05BB10"/>
<rect x="505.51" y="606.43" width="2.18" height="6.67" fill="#00B2F2"/>
<rect x="505.51" y="612.99" width="2.18" height="5.86" fill="#FF5FA0"/>
<rect x="507.63" y="365.55" width="2.18" height="186.50" fill="#FF6767"/>
<rect x="507.63" y="551.95" width="2.18" height="23.60" fill="#F07C00"/>
<rect x="507.63" y="575.45" width="2.18" height="17.60" fill="#05BB10"/>
<rect x="507.63" y="592.95" width="2.18" height="12.10" fill="#00B2F2"/>
<rect x="507.63" y="604.95" width="2.18" height="13.90" fill="#FF5FA0"/>
<rect x="509.75" y="365.55" width="2.18" height="43.10" fill="#FF6767"/>
<rect x="509.75" y="408.55" width="2.18" height="22.98" fill="#A8A400"/>
<rect x="509.75" y="431.43" width="2.18" height="14.12" fill="#74B000"/>
<rect x="509.75" y="445.45" width="2.18" height="17.60" fill="#05BB10"/>
<rect x="509.75" y="462.95" width="2.18" height="114.50" fill="#00C2CC"/>
<rect x="509.75" y="577.35" width="2.18" height="5.70" fill="#CC78FF"/>
<rect x="509.75" y="582.95" width="2.18" height="35.90" fill="#FF5FA0"/>
</g>
<path d="M87.60 365.6V618.8M89.72 365.6V618.8M91.84 365.6V618.8M93.96 365.6V618.8M96.09 365.6V618.8M98.21 365.6V618.8M100.33 365.6V618.8M102.45 365.6V618.8M104.57 365.6V618.8M106.69 365.6V618.8M108.81 365.6V618.8M110.94 365.6V618.8M113.06 365.6V618.8M115.18 365.6V618.8M117.30 365.6V618.8M119.42 365.6V618.8M121.54 365.6V618.8M123.67 365.6V618.8M125.79 365.6V618.8M127.91 365.6V618.8M130.03 365.6V618.8M132.15 365.6V618.8M134.27 365.6V618.8M136.39 365.6V618.8M138.52 365.6V618.8M140.64 365.6V618.8M142.76 365.6V618.8M144.88 365.6V618.8M147.00 365.6V618.8M149.12 365.6V618.8M151.24 365.6V618.8M153.37 365.6V618.8M155.49 365.6V618.8M157.61 365.6V618.8M159.73 365.6V618.8M161.85 365.6V618.8M163.97 365.6V618.8M166.10 365.6V618.8M168.22 365.6V618.8M170.34 365.6V618.8M172.46 365.6V618.8M174.58 365.6V618.8M176.70 365.6V618.8M178.82 365.6V618.8M180.95 365.6V618.8M183.07 365.6V618.8M185.19 365.6V618.8M187.31 365.6V618.8M189.43 365.6V618.8M191.55 365.6V618.8M193.67 365.6V618.8M195.80 365.6V618.8M197.92 365.6V618.8M200.04 365.6V618.8M202.16 365.6V618.8M204.28 365.6V618.8M206.40 365.6V618.8M208.53 365.6V618.8M210.65 365.6V618.8M212.77 365.6V618.8M214.89 365.6V618.8M217.01 365.6V618.8M219.13 365.6V618.8M221.25 365.6V618.8M223.38 365.6V618.8M225.50 365.6V618.8M227.62 365.6V618.8M229.74 365.6V618.8M231.86 365.6V618.8M233.98 365.6V618.8M236.10 365.6V618.8M238.23 365.6V618.8M240.35 365.6V618.8M242.47 365.6V618.8M244.59 365.6V618.8M246.71 365.6V618.8M248.83 365.6V618.8M250.96 365.6V618.8M253.08 365.6V618.8M255.20 365.6V618.8M257.32 365.6V618.8M259.44 365.6V618.8M261.56 365.6V618.8M263.68 365.6V618.8M265.81 365.6V618.8M267.93 365.6V618.8M270.05 365.6V618.8M272.17 365.6V618.8M274.29 365.6V618.8M276.41 365.6V618.8M278.53 365.6V618.8M280.66 365.6V618.8M282.78 365.6V618.8M284.90 365.6V618.8M287.02 365.6V618.8M289.14 365.6V618.8M291.26 365.6V618.8M293.39 365.6V618.8M295.51 365.6V618.8M297.63 365.6V618.8M299.75 365.6V618.8M301.87 365.6V618.8M303.99 365.6V618.8M306.11 365.6V618.8M308.24 365.6V618.8M310.36 365.6V618.8M312.48 365.6V618.8M314.60 365.6V618.8M316.72 365.6V618.8M318.84 365.6V618.8M320.96 365.6V618.8M323.09 365.6V618.8M325.21 365.6V618.8M327.33 365.6V618.8M329.45 365.6V618.8M331.57 365.6V618.8M333.69 365.6V618.8M335.82 365.6V618.8M337.94 365.6V618.8M340.06 365.6V618.8M342.18 365.6V618.8M344.30 365.6V618.8M346.42 365.6V618.8M348.54 365.6V618.8M350.67 365.6V618.8M352.79 365.6V618.8M354.91 365.6V618.8M357.03 365.6V618.8M359.15 365.6V618.8M361.27 365.6V618.8M363.39 365.6V618.8M365.52 365.6V618.8M367.64 365.6V618.8M369.76 365.6V618.8M371.88 365.6V618.8M374.00 365.6V618.8M376.12 365.6V618.8M378.25 365.6V618.8M380.37 365.6V618.8M382.49 365.6V618.8M384.61 365.6V618.8M386.73 365.6V618.8M388.85 365.6V618.8M390.97 365.6V618.8M393.10 365.6V618.8M395.22 365.6V618.8M397.34 365.6V618.8M399.46 365.6V618.8M401.58 365.6V618.8M403.70 365.6V618.8M405.82 365.6V618.8M407.95 365.6V618.8M410.07 365.6V618.8M412.19 365.6V618.8M414.31 365.6V618.8M416.43 365.6V618.8M418.55 365.6V618.8M420.68 365.6V618.8M422.80 365.6V618.8M424.92 365.6V618.8M427.04 365.6V618.8M429.16 365.6V618.8M431.28 365.6V618.8M433.40 365.6V618.8M435.53 365.6V618.8M437.65 365.6V618.8M439.77 365.6V618.8M441.89 365.6V618.8M444.01 365.6V618.8M446.13 365.6V618.8M448.25 365.6V618.8M450.38 365.6V618.8M452.50 365.6V618.8M454.62 365.6V618.8M456.74 365.6V618.8M458.86 365.6V618.8M460.98 365.6V618.8M463.11 365.6V618.8M465.23 365.6V618.8M467.35 365.6V618.8M469.47 365.6V618.8M471.59 365.6V618.8M473.71 365.6V618.8M475.83 365.6V618.8M477.96 365.6V618.8M480.08 365.6V618.8M482.20 365.6V618.8M484.32 365.6V618.8M486.44 365.6V618.8M488.56 365.6V618.8M490.68 365.6V618.8M492.81 365.6V618.8M494.93 365.6V618.8M497.05 365.6V618.8M499.17 365.6V618.8M501.29 365.6V618.8M503.41 365.6V618.8M505.54 365.6V618.8M507.66 365.6V618.8M509.78 365.6V618.8M511.90 365.6V618.8" stroke="#fff" stroke-opacity="0.36" stroke-width="0.5" fill="none"/>
<rect x="87.90" y="635.80" width="168.20" height="6.50" fill="#3a8a1e"/>
<rect x="256.10" y="635.80" width="103.70" height="6.50" fill="#fd8b0a"/>
<rect x="359.80" y="635.80" width="152.10" height="6.50" fill="#d7061c"/>
<text x="541.8" y="371.5" font-size="10.2" font-family="'Liberation Sans','DejaVu Sans',sans-serif" fill="#222" textLength="22.2" lengthAdjust="spacingAndGlyphs" stroke="#222" stroke-width="0.2">genus</text>
<rect x="542.00" y="379.30" width="11.20" height="14.70" fill="#F8766D"/>
<text x="557.1" y="390.1" font-size="9.9" font-family="'Liberation Sans','DejaVu Sans',sans-serif" fill="#222" textLength="29.4" lengthAdjust="spacingAndGlyphs" stroke="#222" stroke-width="0.2">Prevotella</text>
<rect x="542.00" y="395.57" width="11.20" height="14.70" fill="#E68613"/>
<text x="557.1" y="406.37" font-size="9.9" font-family="'Liberation Sans','DejaVu Sans',sans-serif" fill="#222" textLength="49.7" lengthAdjust="spacingAndGlyphs" stroke="#222" stroke-width="0.2">Faecalibacterium</text>
<rect x="542.00" y="411.84" width="11.20" height="14.70" fill="#CD9600"/>
<text x="557.1" y="422.64000000000004" font-size="9.9" font-family="'Liberation Sans','DejaVu Sans',sans-serif" fill="#222" textLength="34.4" lengthAdjust="spacingAndGlyphs" stroke="#222" stroke-width="0.2">Bacteroides</text>
<rect x="542.00" y="428.11" width="11.20" height="14.70" fill="#ABA300"/>
<text x="557.1" y="438.91" font-size="9.9" font-family="'Liberation Sans','DejaVu Sans',sans-serif" fill="#222" textLength="48.6" lengthAdjust="spacingAndGlyphs" stroke="#222" stroke-width="0.2">Catenibacterium</text>
<rect x="542.00" y="444.38" width="11.20" height="14.70" fill="#7CAE00"/>
<text x="557.1" y="455.18" font-size="9.9" font-family="'Liberation Sans','DejaVu Sans',sans-serif" fill="#222" textLength="44.1" lengthAdjust="spacingAndGlyphs" stroke="#222" stroke-width="0.2">Ruminococcus2</text>
<rect x="542.00" y="460.65" width="11.20" height="14.70" fill="#0CB702"/>
<text x="557.1" y="471.45" font-size="9.9" font-family="'Liberation Sans','DejaVu Sans',sans-serif" fill="#222" textLength="28.5" lengthAdjust="spacingAndGlyphs" stroke="#222" stroke-width="0.2">Roseburia</text>
<rect x="542.00" y="476.92" width="11.20" height="14.70" fill="#00BE67"/>
<text x="557.1" y="487.72" font-size="9.9" font-family="'Liberation Sans','DejaVu Sans',sans-serif" fill="#222" textLength="47.9" lengthAdjust="spacingAndGlyphs" stroke="#222" stroke-width="0.2">Subdoligranulum</text>
<rect x="542.00" y="493.19" width="11.20" height="14.70" fill="#00C19A"/>
<text x="557.1" y="503.99" font-size="9.9" font-family="'Liberation Sans','DejaVu Sans',sans-serif" fill="#222" textLength="20" lengthAdjust="spacingAndGlyphs" stroke="#222" stroke-width="0.2">Blautia</text>
<rect x="542.00" y="509.46" width="11.20" height="14.70" fill="#00BFC4"/>
<text x="557.1" y="520.26" font-size="9.9" font-family="'Liberation Sans','DejaVu Sans',sans-serif" fill="#222" textLength="35.8" lengthAdjust="spacingAndGlyphs" stroke="#222" stroke-width="0.2">Oscillibacter</text>
<rect x="542.00" y="525.73" width="11.20" height="14.70" fill="#00B8E7"/>
<text x="557.1" y="536.53" font-size="9.9" font-family="'Liberation Sans','DejaVu Sans',sans-serif" fill="#222" textLength="42.3" lengthAdjust="spacingAndGlyphs" stroke="#222" stroke-width="0.2">Clostridium_XI</text>
<rect x="542.00" y="542.00" width="11.20" height="14.70" fill="#00A9FF"/>
<text x="557.1" y="552.8" font-size="9.9" font-family="'Liberation Sans','DejaVu Sans',sans-serif" fill="#222" textLength="17.9" lengthAdjust="spacingAndGlyphs" stroke="#222" stroke-width="0.2">Dorea</text>
<rect x="542.00" y="558.27" width="11.20" height="14.70" fill="#8494FF"/>
<text x="557.1" y="569.0699999999999" font-size="9.9" font-family="'Liberation Sans','DejaVu Sans',sans-serif" fill="#222" textLength="41.1" lengthAdjust="spacingAndGlyphs" stroke="#222" stroke-width="0.2">Ruminococcus</text>
<rect x="542.00" y="574.54" width="11.20" height="14.70" fill="#C77CFF"/>
<text x="557.1" y="585.3399999999999" font-size="9.9" font-family="'Liberation Sans','DejaVu Sans',sans-serif" fill="#222" textLength="37" lengthAdjust="spacingAndGlyphs" stroke="#222" stroke-width="0.2">Coprococcus</text>
<rect x="542.00" y="590.81" width="11.20" height="14.70" fill="#ED68ED"/>
<text x="557.1" y="601.6099999999999" font-size="9.9" font-family="'Liberation Sans','DejaVu Sans',sans-serif" fill="#222" textLength="47" lengthAdjust="spacingAndGlyphs" stroke="#222" stroke-width="0.2">Parabacteroides</text>
<rect x="542.00" y="607.08" width="11.20" height="14.70" fill="#FF61CC"/>
<text x="557.1" y="617.88" font-size="9.9" font-family="'Liberation Sans','DejaVu Sans',sans-serif" fill="#222" textLength="28.4" lengthAdjust="spacingAndGlyphs" stroke="#222" stroke-width="0.2">Sutterella</text>
<rect x="542.00" y="623.35" width="11.20" height="14.70" fill="#FF68A1"/>
<text x="557.1" y="634.15" font-size="9.9" font-family="'Liberation Sans','DejaVu Sans',sans-serif" fill="#222" textLength="18.9" lengthAdjust="spacingAndGlyphs" stroke="#222" stroke-width="0.2">others</text>
<text x="625.8" y="366.8" font-size="6.8" font-family="'DejaVu Sans','Liberation Sans',sans-serif" fill="#111" textLength="18.4" lengthAdjust="spacingAndGlyphs" stroke="#111" stroke-width="0.2">group</text>
<rect x="626.00" y="369.60" width="10.00" height="8.60" fill="#339933"/>
<text x="639.4" y="375.4" font-size="5.8" font-family="'DejaVu Sans','Liberation Sans',sans-serif" fill="#111" textLength="21.8" lengthAdjust="spacingAndGlyphs" stroke="#111" stroke-width="0.12">Normal</text>
<rect x="626.00" y="378.70" width="10.00" height="8.60" fill="#ff8c00"/>
<text x="639.4" y="385.0" font-size="5.8" font-family="'DejaVu Sans','Liberation Sans',sans-serif" fill="#111" textLength="34.6" lengthAdjust="spacingAndGlyphs" stroke="#111" stroke-width="0.12">Overweight</text>
<rect x="626.00" y="387.80" width="10.00" height="8.60" fill="#d4002a"/>
<text x="639.4" y="394.59999999999997" font-size="5.8" font-family="'DejaVu Sans','Liberation Sans',sans-serif" fill="#111" textLength="18.4" lengthAdjust="spacingAndGlyphs" stroke="#111" stroke-width="0.12">Obese</text>
<text x="317.4" y="665.6" font-size="13.5" font-family="'Liberation Serif','DejaVu Serif',serif" fill="#111" text-anchor="middle" font-weight="bold">(c)</text>
</g>
</svg>
</body></html>
